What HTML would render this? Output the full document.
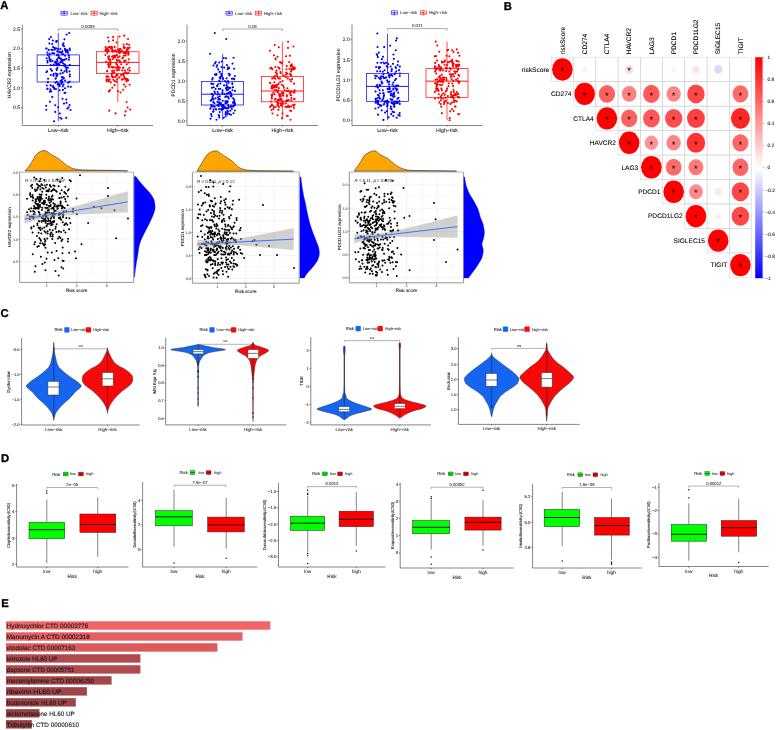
<!DOCTYPE html>
<html><head><meta charset="utf-8"><style>
html,body{margin:0;padding:0;background:#fff;}
body{width:777px;height:730px;overflow:hidden;}
svg{display:block;font-family:"Liberation Sans", Arial, sans-serif;text-rendering:geometricPrecision;}
</style></head><body>
<svg width="777" height="730" viewBox="0 0 777 730">
<rect width="777" height="730" fill="#fff"/>
<text x="0.3" y="8.5" font-size="11.3" text-anchor="start" fill="#000" font-weight="bold" stroke="#000" stroke-width="0.3">A</text>
<line x1="22.3" y1="24.6" x2="22.3" y2="125.5" stroke="#333333" stroke-width="0.6"/>
<line x1="21" y1="107.5" x2="22.3" y2="107.5" stroke="#333333" stroke-width="0.6"/>
<text x="20.2" y="109.34" font-size="5.1" text-anchor="end" fill="#1a1a1a" stroke="#1a1a1a" stroke-width="0.08">0.5</text>
<line x1="21" y1="87.88" x2="22.3" y2="87.88" stroke="#333333" stroke-width="0.6"/>
<text x="20.2" y="89.71" font-size="5.1" text-anchor="end" fill="#1a1a1a" stroke="#1a1a1a" stroke-width="0.08">1.0</text>
<line x1="21" y1="68.25" x2="22.3" y2="68.25" stroke="#333333" stroke-width="0.6"/>
<text x="20.2" y="70.09" font-size="5.1" text-anchor="end" fill="#1a1a1a" stroke="#1a1a1a" stroke-width="0.08">1.5</text>
<line x1="21" y1="48.62" x2="22.3" y2="48.62" stroke="#333333" stroke-width="0.6"/>
<text x="20.2" y="50.46" font-size="5.1" text-anchor="end" fill="#1a1a1a" stroke="#1a1a1a" stroke-width="0.08">2.0</text>
<line x1="21" y1="29" x2="22.3" y2="29" stroke="#333333" stroke-width="0.6"/>
<text x="20.2" y="30.84" font-size="5.1" text-anchor="end" fill="#1a1a1a" stroke="#1a1a1a" stroke-width="0.08">2.5</text>
<line x1="22.3" y1="125.5" x2="153" y2="125.5" stroke="#333333" stroke-width="0.6"/>
<line x1="58.3" y1="125.5" x2="58.3" y2="126.8" stroke="#333333" stroke-width="0.6"/>
<text x="58.3" y="131.8" font-size="5.2" text-anchor="middle" fill="#1a1a1a" stroke="#1a1a1a" stroke-width="0.08">Low−risk</text>
<line x1="117.8" y1="125.5" x2="117.8" y2="126.8" stroke="#333333" stroke-width="0.6"/>
<text x="117.8" y="131.8" font-size="5.2" text-anchor="middle" fill="#1a1a1a" stroke="#1a1a1a" stroke-width="0.08">High−risk</text>
<text x="10.9" y="75" font-size="5.1" text-anchor="middle" fill="#222" transform="rotate(-90 10.9 75)" stroke="#222" stroke-width="0.08">HAVCR2 expression</text>
<line x1="58.3" y1="32.93" x2="58.3" y2="54.91" stroke="#0000ff" stroke-width="0.7"/>
<line x1="58.3" y1="81.99" x2="58.3" y2="121.24" stroke="#0000ff" stroke-width="0.7"/>
<rect x="37.1" y="54.91" width="42.4" height="27.08" fill="#fff" stroke="#0000ff" stroke-width="0.7"/>
<line x1="37.1" y1="65.5" x2="79.5" y2="65.5" stroke="#0000ff" stroke-width="0.9"/>
<path d="M54.04 121.24h0M69.22 32.93h0M49.68 53.9h0M58.66 83.72h0M48.09 78.68h0M69.94 50.07h0M60.18 117.79h0M65.89 52.12h0M52.85 53.06h0M65.84 67.62h0M63.37 78.49h0M61.89 80.11h0M69.56 81.67h0M56.64 69.12h0M56.18 65.31h0M63.1 63.23h0M66.68 34.57h0M54.18 53.24h0M62.54 60.32h0M51.03 36.97h0M59.59 84.41h0M65.03 88.26h0M47.43 60.73h0M64 103.6h0M46.19 105.84h0M69.76 64.87h0M57.52 67.73h0M56.03 48.37h0M63.81 60.02h0M58.88 64.9h0M64.07 65.71h0M47.92 82.16h0M59.87 113.52h0M59.75 86.01h0M69.1 57.36h0M46.79 85.44h0M57.12 74.11h0M61.58 118.79h0M59.57 51.77h0M47.65 88.66h0M60.63 80.83h0M51.35 49.81h0M50.69 65.09h0M67.77 51.11h0M50.75 59.58h0M57.16 55.25h0M64.56 93.06h0M63.48 63.76h0M59.64 65.17h0M65.98 50.16h0M57.45 74.65h0M61.31 61.34h0M66.27 99.47h0M62.75 72.91h0M61.85 77.17h0M55.95 88.96h0M59.76 52.31h0M55.7 73.45h0M64.41 39.37h0M55.31 61.69h0M57.47 61.05h0M64.69 59.65h0M58.39 58.02h0M54.25 88.92h0M66.47 69.44h0M55.32 82.72h0M66.92 71.93h0M65.43 92.69h0M56.98 41.02h0M63.62 84.43h0M46.66 58.22h0M55.54 78.66h0M67.31 50.05h0M60.29 58.63h0M59.75 90.26h0M62.42 51.19h0M62.74 44.48h0M60.39 48.89h0M56.32 62.55h0M50.39 89.29h0M53.12 86.01h0M53.12 47.06h0M56.57 63.28h0M70.78 86.84h0M54.61 49.66h0M56.98 59.5h0M55.09 62.55h0M60.34 73.66h0M69.5 71.37h0M68.03 82.72h0M55.23 105.19h0M52.47 49.97h0M67.91 67.63h0M58.15 63.48h0M62.94 77.23h0M47.63 54.85h0M67.46 108.67h0M53.62 73.93h0M58.16 107.28h0M50.75 90.86h0M56.31 41.12h0M66.5 58.82h0M66.49 70.24h0M57.64 64.5h0M65 50.1h0M57.25 75.78h0M55.13 61.68h0M59.45 57.72h0M50.83 75.04h0M53.71 64.69h0M63.46 54.31h0M65.06 48.68h0M47.22 88.9h0M64.12 46.23h0M66.24 117.85h0M56.93 54.79h0M47.36 52.54h0M62.87 89.9h0M51.95 70.85h0M61.88 52.35h0M55.22 111.9h0M61.73 60.06h0M52.25 53.22h0M57.71 64.95h0M58.92 55.93h0M61.58 83.63h0M50.88 85.58h0M69.85 74.53h0M53.03 86.92h0M53.45 75.65h0M52.21 44h0M47.49 62.39h0M56.37 76.05h0M65.1 80.57h0M63.54 43.41h0M50.69 69.16h0M49.22 39.12h0M53.84 64.84h0M65.01 64.61h0M58 49.17h0M68.88 55.21h0M62.21 62.08h0M61.32 70.34h0M64.99 49.89h0M64.56 71.33h0M54.4 47.84h0M52.23 96.91h0M56.74 70.12h0M58.03 64.68h0M49.34 43.57h0M56.83 81.92h0M61.8 52.71h0M49.19 58.02h0M49.25 56.3h0M50.14 60.01h0M52.88 40.45h0M69.84 76.54h0M46.44 72.21h0M50.39 85.28h0M49.93 101.78h0M57.66 84.58h0M46.18 48.43h0M57.25 51.38h0M49.87 91.6h0M52.54 61.1h0M65.61 66.87h0M50.4 61.49h0M61.23 58.75h0M55.96 78.25h0M56.24 42h0M66.22 67.76h0M49.82 60.07h0M68.9 59.77h0M68.14 86.6h0M62.51 98.76h0M47.04 71.34h0M62.38 54.36h0M60.81 52.35h0M65.11 55.75h0M51.15 91.54h0M69.63 48.52h0M67.95 52.87h0M48.66 49.91h0M53.68 64.51h0M46.61 48.43h0M66.57 102.87h0M68.68 107.29h0M70.55 110.02h0M61.1 81.8h0M62.45 82.09h0M62.76 86.35h0M60.05 62.66h0M69.61 104.94h0M61 61.67h0M54.19 87.85h0M58.62 57.96h0M46.27 109.78h0M63.9 77.99h0M63.15 45.48h0M56.33 63.87h0" stroke="#0000ff" stroke-width="2.1" stroke-linecap="round" fill="none"/>
<line x1="117.8" y1="35.67" x2="117.8" y2="51.77" stroke="#ff0000" stroke-width="0.7"/>
<line x1="117.8" y1="73.35" x2="117.8" y2="102" stroke="#ff0000" stroke-width="0.7"/>
<rect x="96.6" y="51.77" width="42.4" height="21.59" fill="#fff" stroke="#ff0000" stroke-width="0.7"/>
<line x1="96.6" y1="62.36" x2="139" y2="62.36" stroke="#ff0000" stroke-width="0.9"/>
<path d="M126.59 102h0M124.19 35.67h0M113.72 57.67h0M107.24 76.35h0M108.61 59.21h0M109.91 89.97h0M112.9 50.29h0M116.49 42.46h0M128.5 48.79h0M112.26 87.8h0M127.76 69.46h0M122.31 70.36h0M126.64 80.35h0M115.38 57h0M105.38 50.41h0M124.97 70.55h0M111.44 48.53h0M108.86 50.42h0M125.29 79.51h0M122.46 51.28h0M110.61 47.97h0M111.99 76.04h0M128.78 59.24h0M112.01 56.48h0M122.86 57.73h0M108.54 81.19h0M125.68 55.53h0M108.24 56.77h0M118.2 49.65h0M106.18 50.23h0M119.05 69.96h0M126.47 52.95h0M107.41 48.41h0M112.16 47.67h0M124.42 77.86h0M120.5 92.53h0M113.12 55.97h0M121.02 75.15h0M116.67 59.66h0M126.86 44.15h0M112.62 67.67h0M124.24 73.23h0M121.19 64.27h0M123.81 55.7h0M114.76 80.94h0M123.42 67.61h0M122.76 79.28h0M114.99 55.48h0M105.96 49.46h0M129.37 67.78h0M123.14 68h0M110.42 60.69h0M123.57 75.13h0M112.27 73.48h0M117.03 69.84h0M126.8 64.23h0M116.5 81.94h0M112.5 51.69h0M112.94 59.01h0M107.23 71.17h0M110.79 82.5h0M112.08 51.39h0M109.62 79.42h0M106.88 79.31h0M116.94 79.44h0M110.66 81.96h0M123.77 47.29h0M128.36 72.51h0M112.12 70.87h0M119.61 49.39h0M117.97 57.28h0M107.18 76.56h0M108.42 65.23h0M127.42 47.93h0M117.15 67.84h0M125.42 53.42h0M106.96 81.16h0M120.17 52.73h0M126.93 51.01h0M126.98 49.6h0M105.44 54.98h0M118.34 68.05h0M114.53 85.13h0M124.3 61.57h0M107.13 51.55h0M111.92 76.37h0M125.62 72.64h0M117.04 60.83h0M116.63 51.84h0M129.51 47.57h0M113.3 79.69h0M106.34 76.7h0M115.11 50.35h0M109.13 56.24h0M107.35 53h0M119.5 36.54h0M129.14 44.77h0M119.79 49.1h0M121.48 50.99h0M113.39 66.98h0M119.58 56.38h0M124.11 76.69h0M120.03 51.49h0M125.37 51.54h0M119.06 52.98h0M110.25 64.79h0M119.87 67.72h0M117.57 65.89h0M109.45 91.22h0M120.78 49.06h0M125.72 60.57h0M108.68 67.31h0M118.92 60.33h0M123.64 52.97h0M115.38 67.57h0M112.05 49.46h0M114.61 46.91h0M118.84 67.31h0M122.47 79.07h0M119.28 51.47h0M107.98 37.56h0M125.75 78.55h0M128.4 53.35h0M107.83 49.61h0M111.54 46.83h0M109.64 79.81h0M126.53 81.42h0M128.06 38.93h0M106.41 80.15h0M113.61 77.08h0M110.11 59.19h0M117.04 64.72h0M128.34 51.75h0M107.05 76.38h0M109.58 47.06h0M117.48 75.03h0M118.4 51.22h0M123.94 84.47h0M116.24 63.53h0M108.83 91.38h0M114.14 70.55h0M129.85 70.62h0M124.07 53.05h0M108.21 64.34h0M125.51 86.6h0M113.07 36.92h0M124.83 47.79h0M105.62 47h0M127.08 73.53h0M109.36 67.02h0M116.69 74.52h0M121.84 79.73h0M118 91.29h0M109.43 62.22h0M108.78 79.82h0M112.41 77.11h0M106.61 48.6h0M110.71 63.06h0M108.55 76.73h0M116.92 55.16h0M114.21 72.66h0M119.97 61.22h0M112.32 71.9h0M106.15 61.68h0M113.58 56.91h0M124.18 60.83h0M111.7 66.95h0M115.41 50.6h0M124.17 48.23h0M115.47 76.95h0M127.48 79.15h0M128.25 80.33h0M113.06 40.29h0M123.7 44.5h0M111.63 74.34h0M108.79 41.37h0M116.25 75.5h0M120.36 62.09h0M128.69 62.48h0M108.95 47.04h0M123.11 89.81h0M117.19 70.48h0M108.59 58.12h0M129.62 84.7h0M122.69 74.04h0M108.52 63.9h0M127.94 48.02h0M107.88 51.45h0M107.62 49.5h0M113.59 51.45h0M128.75 53.56h0M106.13 48.91h0M128.26 54.67h0M120.59 52.37h0M106.98 71.08h0M119.51 77.55h0M116.77 51.58h0M119.4 77.64h0M123.73 46.91h0M122.27 58.27h0M130.23 109.46h0M109.22 110.64h0M125.62 111.42h0M115.58 113.39h0M124.88 115.35h0M127.59 107.5h0" stroke="#ff0000" stroke-width="2.1" stroke-linecap="round" fill="none"/>
<path d="M58.3 31V29H117.8V31" fill="none" stroke="#555" stroke-width="0.5"/>
<text x="88.05" y="27.7" font-size="4.4" text-anchor="middle" fill="#333" stroke="#333" stroke-width="0.08">0.0033</text>
<rect x="61" y="11.3" width="6.2" height="3.8" fill="none" stroke="#0000ff" stroke-width="0.55"/>
<line x1="64.1" y1="10.2" x2="64.1" y2="11.3" stroke="#0000ff" stroke-width="0.55"/>
<line x1="64.1" y1="15.1" x2="64.1" y2="16.2" stroke="#0000ff" stroke-width="0.55"/>
<line x1="61" y1="13.2" x2="67.2" y2="13.2" stroke="#0000ff" stroke-width="0.6"/>
<circle cx="64.1" cy="13.2" r="0.9" fill="#0000ff"/>
<rect x="91" y="11.3" width="6.2" height="3.8" fill="none" stroke="#ff0000" stroke-width="0.55"/>
<line x1="94.1" y1="10.2" x2="94.1" y2="11.3" stroke="#ff0000" stroke-width="0.55"/>
<line x1="94.1" y1="15.1" x2="94.1" y2="16.2" stroke="#ff0000" stroke-width="0.55"/>
<line x1="91" y1="13.2" x2="97.2" y2="13.2" stroke="#ff0000" stroke-width="0.6"/>
<circle cx="94.1" cy="13.2" r="0.9" fill="#ff0000"/>
<text x="70.5" y="14.7" font-size="4.3" text-anchor="start" fill="#333" stroke="#333" stroke-width="0.08">Low−risk</text>
<text x="99.5" y="14.7" font-size="4.3" text-anchor="start" fill="#333" stroke="#333" stroke-width="0.08">High−risk</text>
<line x1="187" y1="24.6" x2="187" y2="125.5" stroke="#333333" stroke-width="0.6"/>
<line x1="185.7" y1="121" x2="187" y2="121" stroke="#333333" stroke-width="0.6"/>
<text x="184.9" y="122.84" font-size="5.1" text-anchor="end" fill="#1a1a1a" stroke="#1a1a1a" stroke-width="0.08">0.0</text>
<line x1="185.7" y1="101" x2="187" y2="101" stroke="#333333" stroke-width="0.6"/>
<text x="184.9" y="102.84" font-size="5.1" text-anchor="end" fill="#1a1a1a" stroke="#1a1a1a" stroke-width="0.08">0.5</text>
<line x1="185.7" y1="81" x2="187" y2="81" stroke="#333333" stroke-width="0.6"/>
<text x="184.9" y="82.84" font-size="5.1" text-anchor="end" fill="#1a1a1a" stroke="#1a1a1a" stroke-width="0.08">1.0</text>
<line x1="185.7" y1="61" x2="187" y2="61" stroke="#333333" stroke-width="0.6"/>
<text x="184.9" y="62.84" font-size="5.1" text-anchor="end" fill="#1a1a1a" stroke="#1a1a1a" stroke-width="0.08">1.5</text>
<line x1="185.7" y1="41" x2="187" y2="41" stroke="#333333" stroke-width="0.6"/>
<text x="184.9" y="42.84" font-size="5.1" text-anchor="end" fill="#1a1a1a" stroke="#1a1a1a" stroke-width="0.08">2.0</text>
<line x1="187" y1="125.5" x2="318" y2="125.5" stroke="#333333" stroke-width="0.6"/>
<line x1="222.6" y1="125.5" x2="222.6" y2="126.8" stroke="#333333" stroke-width="0.6"/>
<text x="222.6" y="131.8" font-size="5.2" text-anchor="middle" fill="#1a1a1a" stroke="#1a1a1a" stroke-width="0.08">Low−risk</text>
<line x1="282.4" y1="125.5" x2="282.4" y2="126.8" stroke="#333333" stroke-width="0.6"/>
<text x="282.4" y="131.8" font-size="5.2" text-anchor="middle" fill="#1a1a1a" stroke="#1a1a1a" stroke-width="0.08">High−risk</text>
<text x="175" y="75" font-size="5.1" text-anchor="middle" fill="#222" transform="rotate(-90 175 75)" stroke="#222" stroke-width="0.08">PDCD1 expression</text>
<line x1="222.6" y1="53.8" x2="222.6" y2="81.4" stroke="#0000ff" stroke-width="0.7"/>
<line x1="222.6" y1="105" x2="222.6" y2="119.8" stroke="#0000ff" stroke-width="0.7"/>
<rect x="201.6" y="81.4" width="42" height="23.6" fill="#fff" stroke="#0000ff" stroke-width="0.7"/>
<line x1="201.6" y1="94.2" x2="243.6" y2="94.2" stroke="#0000ff" stroke-width="0.9"/>
<path d="M216.5 119.8h0M210.12 53.8h0M219.79 96.23h0M234.16 68.72h0M229.19 68.16h0M211.59 99.69h0M227.66 69.21h0M233.03 98.27h0M234.29 99.61h0M228 81.07h0M231.67 95.44h0M231.14 96.44h0M219.06 99.12h0M212.58 97.1h0M228.29 107.9h0M213.52 111.41h0M219.7 81.2h0M234.99 90.9h0M224.09 85.4h0M223.14 78.83h0M233.8 105.52h0M217.2 105.43h0M235.09 103.79h0M232.9 102.67h0M219.2 80.87h0M218.28 99.64h0M213.26 101.84h0M232.99 87.22h0M214.75 106.67h0M210.32 108.78h0M232.35 84.11h0M225.05 81.08h0M226.9 103h0M228.43 87.23h0M211.17 114.16h0M212.4 98.33h0M222.6 90.21h0M211.36 104.85h0M222.71 100.76h0M228.51 88.59h0M226.54 89.6h0M225.52 107.52h0M211.26 83.62h0M216.02 109.48h0M232.54 63.6h0M213.18 106.25h0M223.43 104.85h0M211.35 106.31h0M233.58 57.71h0M214.39 103.42h0M220.35 88.81h0M223.77 58.11h0M228.07 67.34h0M233.54 113.31h0M228.51 93.12h0M218.78 89.01h0M211.98 83.84h0M227.79 101.29h0M234.41 101.63h0M210.53 118.74h0M229.47 114.04h0M214.5 91.64h0M221.6 109.9h0M223.17 106.25h0M225.46 101.4h0M234.84 110.45h0M227.29 114.48h0M219.91 71.74h0M227.98 97h0M221.77 106.19h0M220.43 83.53h0M219.24 117.47h0M222.44 105.13h0M217.13 65.31h0M216.15 74.15h0M213.81 87.24h0M221.11 109.13h0M217.43 102.06h0M231.02 114.78h0M231.3 105.81h0M218.7 115.04h0M225.58 108.26h0M232.66 87.38h0M219.08 108.94h0M223.97 107.48h0M221.19 73.9h0M226.36 101.31h0M234.09 101.41h0M213.57 109.3h0M234.23 79.14h0M226.74 85.17h0M230 91.79h0M225.98 88.16h0M231.86 108.94h0M218.26 104.55h0M227.8 89.92h0M216.7 66.93h0M222.82 78.1h0M227.14 86.99h0M215.13 93.24h0M211.63 116.09h0M229.87 74.49h0M230.32 110.82h0M226.74 108.18h0M218.14 84.31h0M226.55 78.35h0M212.2 79.6h0M226.66 96.26h0M224.5 106.92h0M225.53 114.03h0M221.27 76.42h0M215.73 62.09h0M228.25 105.15h0M221.7 75.7h0M228.73 98.41h0M219.2 102.35h0M212.29 93.94h0M223.66 117.79h0M225.67 96.67h0M233.14 106.33h0M232.29 83.32h0M211.53 94.07h0M229.4 75.56h0M216.63 74.2h0M227.53 102.12h0M219.59 103.69h0M218.15 69.42h0M222.31 94h0M223.36 109.04h0M227.46 112.95h0M226.05 58.2h0M227.06 90.15h0M219.7 112.08h0M227.03 93.62h0M218.73 93.99h0M225.29 96.99h0M221.59 67.11h0M224.17 67.58h0M210.54 108.29h0M222.57 107.59h0M215.6 98.2h0M219.75 77.27h0M211.94 87.86h0M226.52 82.43h0M232.44 90.31h0M218.96 106.05h0M212.73 78.07h0M225.61 116.34h0M213.28 84.04h0M232.39 106.47h0M213.16 95.45h0M219.15 62.57h0M222.47 92.2h0M213.05 111.83h0M218.07 97.28h0M216.98 85.99h0M227.93 111.85h0M234.76 104.89h0M219.17 115.76h0M229.87 92.15h0M213.61 99.32h0M224.6 94.01h0M220.92 103.02h0M217.3 86.17h0M230.64 107.03h0M228.76 73.71h0M213.45 65.43h0M217.41 94.5h0M230.59 95.7h0M234.91 76.02h0M225.39 103.28h0M231.89 78.79h0M234.71 103.39h0M228.61 82.94h0M226.22 101.37h0M215.63 88.95h0M219.36 71.94h0M225.69 112.09h0M233.26 78.59h0M217.65 92.06h0M219.98 99.42h0M210.66 100.67h0M227.52 110.56h0M221.19 104.64h0M230.04 87.9h0M215.94 109.01h0M226.59 85.53h0M226.93 65.02h0M221.71 61.5h0M214.82 74.56h0M220.17 78.62h0M228.73 106.9h0M214.83 63.52h0M212.35 106.25h0M221.67 75.55h0M215.96 75.12h0M230.11 87.96h0M230.53 93.11h0M233.73 106.31h0M231.09 93.2h0M226.29 39h0M214.78 33h0" stroke="#0000ff" stroke-width="2.1" stroke-linecap="round" fill="none"/>
<line x1="282.4" y1="41.8" x2="282.4" y2="76.6" stroke="#ff0000" stroke-width="0.7"/>
<line x1="282.4" y1="101.8" x2="282.4" y2="119.8" stroke="#ff0000" stroke-width="0.7"/>
<rect x="261.4" y="76.6" width="42" height="25.2" fill="#fff" stroke="#ff0000" stroke-width="0.7"/>
<line x1="261.4" y1="91" x2="303.4" y2="91" stroke="#ff0000" stroke-width="0.9"/>
<path d="M290.48 119.8h0M288.1 41.8h0M288.57 105.7h0M287.34 73.43h0M290.65 65.5h0M277.35 105.26h0M286.71 115.82h0M282.83 101.21h0M278.35 105.5h0M278.07 103.77h0M273.79 86.2h0M282.19 94.36h0M279.12 94.06h0M280.44 103.22h0M291.19 81.52h0M286.94 100.09h0M286.91 95.36h0M294.5 92.58h0M275.35 67.04h0M282.6 101.92h0M272.21 78.4h0M279.72 99.24h0M293.66 67.66h0M272.05 95.58h0M288.84 90.7h0M291.54 68.72h0M282.62 81.05h0M289.84 106.79h0M280.93 105.42h0M278.73 47.18h0M282.54 113.55h0M274.77 99.6h0M277.59 56.75h0M277.53 115.29h0M294.61 104.64h0M278.28 102.97h0M275.62 107.04h0M293.39 92.21h0M273.36 85.68h0M294.05 98.85h0M291.23 106.33h0M286.08 72.83h0M280.6 73.23h0M274.83 87.42h0M272.56 105.4h0M272.49 88.59h0M278.63 83.54h0M280.08 94.1h0M292.99 69.55h0M283.31 95.75h0M294.67 90.37h0M287.92 106.15h0M273.56 87.34h0M283.74 75.58h0M273.88 77.68h0M270.88 101.5h0M293.49 46.52h0M278.35 78.33h0M274.64 94.29h0M272.44 94.68h0M286.2 74.78h0M281.43 104.18h0M270.19 82.96h0M287.78 78.39h0M276.32 90.06h0M289.41 68.97h0M282.12 92.35h0M283.29 92.52h0M281.33 100.3h0M286.8 66.11h0M294.65 98.94h0M289.85 79.75h0M271.63 94.92h0M282.27 62.38h0M275.76 59.37h0M272.46 113.44h0M274.78 44.97h0M276.1 84.96h0M293.89 108.01h0M288.52 91.13h0M291.22 111.03h0M287.37 88.18h0M277.79 103.87h0M279.68 96.7h0M280.92 99.44h0M277.24 85.11h0M280.44 72.12h0M289.18 62.11h0M271.79 98.39h0M276.81 86.99h0M281.88 118.03h0M286.81 96.52h0M286.05 56.32h0M288.02 106h0M272.53 69.18h0M274.42 82.22h0M277.62 99.9h0M276.94 74.86h0M288.79 100.1h0M294.73 67.63h0M286.98 107.16h0M270.73 106h0M277.34 76.6h0M289.98 93.2h0M293.01 105.08h0M284.77 90.23h0M278.62 99.77h0M278.78 88.16h0M285.74 76.96h0M291.5 69.98h0M278.42 109.85h0M274.67 85.68h0M269.97 50.82h0M273.34 92.74h0M291.18 75.39h0M285.51 106.69h0M294.67 68.95h0M271.64 86.27h0M279.05 68.04h0M289.79 74.3h0M286.43 69.22h0M271.57 110.06h0M279.94 78.59h0M285.84 103.5h0M287.09 101.12h0M281.19 98.57h0M274.6 85.74h0M294.05 83.64h0M281.56 63.33h0M287.83 115.98h0M283.27 103.61h0M271.92 96.96h0M275.82 72.39h0M271.48 88.13h0M274.67 90.31h0M274.9 75.97h0M280.27 82.07h0M277.94 100.08h0M278.96 107.02h0M290.32 92.63h0M270.43 68.54h0M272.48 85.35h0M290.1 110.56h0M283.25 93.59h0M280.87 95.98h0M276.58 86.25h0M283.46 85.98h0M275.44 58.57h0M291.36 97.99h0M290.5 94.97h0M277.95 84.46h0M270.51 68.15h0M292.09 79.13h0M277.37 92.26h0M286.32 72.6h0M291.35 91.63h0M289.86 55.65h0M291.46 100.4h0M282.13 105.73h0M290.96 71.62h0M281.43 99.76h0M276.5 70.57h0M281.92 84.7h0M278.28 90.48h0M289.08 107.02h0M290.69 74.35h0M273.43 108.99h0M274.01 55.26h0M279.49 68.74h0M281.48 99.51h0M293.81 105.71h0M293.44 68.2h0M294.08 91.87h0M288.14 105.81h0M286.83 91.06h0M276.66 101.9h0M279.22 94.98h0M269.97 82.92h0M290.72 66.36h0M276.8 73.45h0M271.88 104.65h0M277.79 91.98h0M277.98 91.35h0M288 47.9h0M270.04 107.02h0M275.65 90.38h0M292.31 66.42h0M291.27 95.37h0M285.63 101.29h0M283.87 87.78h0M275.47 98.77h0M291.78 64.38h0M288.92 107.09h0M282.72 103.19h0M273.93 107.12h0M275.3 78.8h0M279.38 99.94h0M278.18 67.3h0M271.43 67.71h0M280.06 62.15h0" stroke="#ff0000" stroke-width="2.1" stroke-linecap="round" fill="none"/>
<path d="M222.6 31V29H282.4V31" fill="none" stroke="#555" stroke-width="0.5"/>
<text x="252.5" y="27.7" font-size="4.4" text-anchor="middle" fill="#333" stroke="#333" stroke-width="0.08">0.03</text>
<rect x="226" y="11.3" width="6.2" height="3.8" fill="none" stroke="#0000ff" stroke-width="0.55"/>
<line x1="229.1" y1="10.2" x2="229.1" y2="11.3" stroke="#0000ff" stroke-width="0.55"/>
<line x1="229.1" y1="15.1" x2="229.1" y2="16.2" stroke="#0000ff" stroke-width="0.55"/>
<line x1="226" y1="13.2" x2="232.2" y2="13.2" stroke="#0000ff" stroke-width="0.6"/>
<circle cx="229.1" cy="13.2" r="0.9" fill="#0000ff"/>
<rect x="255.4" y="11.3" width="6.2" height="3.8" fill="none" stroke="#ff0000" stroke-width="0.55"/>
<line x1="258.5" y1="10.2" x2="258.5" y2="11.3" stroke="#ff0000" stroke-width="0.55"/>
<line x1="258.5" y1="15.1" x2="258.5" y2="16.2" stroke="#ff0000" stroke-width="0.55"/>
<line x1="255.4" y1="13.2" x2="261.6" y2="13.2" stroke="#ff0000" stroke-width="0.6"/>
<circle cx="258.5" cy="13.2" r="0.9" fill="#ff0000"/>
<text x="235" y="14.7" font-size="4.3" text-anchor="start" fill="#333" stroke="#333" stroke-width="0.08">Low−risk</text>
<text x="264" y="14.7" font-size="4.3" text-anchor="start" fill="#333" stroke="#333" stroke-width="0.08">High−risk</text>
<line x1="352" y1="24.6" x2="352" y2="125.5" stroke="#333333" stroke-width="0.6"/>
<line x1="350.7" y1="120.3" x2="352" y2="120.3" stroke="#333333" stroke-width="0.6"/>
<text x="349.9" y="122.14" font-size="5.1" text-anchor="end" fill="#1a1a1a" stroke="#1a1a1a" stroke-width="0.08">0.0</text>
<line x1="350.7" y1="100.12" x2="352" y2="100.12" stroke="#333333" stroke-width="0.6"/>
<text x="349.9" y="101.96" font-size="5.1" text-anchor="end" fill="#1a1a1a" stroke="#1a1a1a" stroke-width="0.08">0.5</text>
<line x1="350.7" y1="79.95" x2="352" y2="79.95" stroke="#333333" stroke-width="0.6"/>
<text x="349.9" y="81.79" font-size="5.1" text-anchor="end" fill="#1a1a1a" stroke="#1a1a1a" stroke-width="0.08">1.0</text>
<line x1="350.7" y1="59.77" x2="352" y2="59.77" stroke="#333333" stroke-width="0.6"/>
<text x="349.9" y="61.61" font-size="5.1" text-anchor="end" fill="#1a1a1a" stroke="#1a1a1a" stroke-width="0.08">1.5</text>
<line x1="350.7" y1="39.6" x2="352" y2="39.6" stroke="#333333" stroke-width="0.6"/>
<text x="349.9" y="41.44" font-size="5.1" text-anchor="end" fill="#1a1a1a" stroke="#1a1a1a" stroke-width="0.08">2.0</text>
<line x1="352" y1="125.5" x2="482.4" y2="125.5" stroke="#333333" stroke-width="0.6"/>
<line x1="387.5" y1="125.5" x2="387.5" y2="126.8" stroke="#333333" stroke-width="0.6"/>
<text x="387.5" y="131.8" font-size="5.2" text-anchor="middle" fill="#1a1a1a" stroke="#1a1a1a" stroke-width="0.08">Low−risk</text>
<line x1="447" y1="125.5" x2="447" y2="126.8" stroke="#333333" stroke-width="0.6"/>
<text x="447" y="131.8" font-size="5.2" text-anchor="middle" fill="#1a1a1a" stroke="#1a1a1a" stroke-width="0.08">High−risk</text>
<text x="340.4" y="75" font-size="5.1" text-anchor="middle" fill="#222" transform="rotate(-90 340.4 75)" stroke="#222" stroke-width="0.08">PDCD1LG2 expression</text>
<line x1="387.5" y1="33.55" x2="387.5" y2="73.49" stroke="#0000ff" stroke-width="0.7"/>
<line x1="387.5" y1="101.34" x2="387.5" y2="119.9" stroke="#0000ff" stroke-width="0.7"/>
<rect x="366.5" y="73.49" width="42" height="27.84" fill="#fff" stroke="#0000ff" stroke-width="0.7"/>
<line x1="366.5" y1="86.41" x2="408.5" y2="86.41" stroke="#0000ff" stroke-width="0.9"/>
<path d="M383.41 119.9h0M377.32 33.55h0M380.02 93.32h0M394.57 96.42h0M390.86 93.76h0M394.93 80.26h0M376.11 86.57h0M397.52 103.07h0M384.56 70.28h0M398.15 85.72h0M389.86 88.89h0M388.68 75.39h0M395.45 73.34h0M390.64 66.45h0M391.86 69.14h0M378.94 77.68h0M390.11 74.99h0M383.91 104.4h0M376.89 76.11h0M378.33 101.07h0M386.99 100.87h0M381.56 105.62h0M394.13 92.56h0M378.06 114.63h0M375.35 78.3h0M399.92 73.59h0M382.82 71.68h0M387.74 105.34h0M380.25 79.12h0M380.22 67.22h0M385.06 112.58h0M394.74 103.21h0M375.98 100.27h0M395.93 88.68h0M399.76 103.91h0M388.98 84.4h0M384 95.72h0M380.85 78.39h0M379.57 84.79h0M383.08 76.78h0M396.29 101.46h0M375.08 75.71h0M394.65 74.29h0M391.69 74.94h0M375.48 108.43h0M376.74 54.22h0M393.38 82.44h0M391.83 100h0M382.84 90.34h0M396.53 85.5h0M380.25 85.49h0M385.67 101.4h0M377.88 100.44h0M391.14 94.55h0M377.18 71.3h0M379.49 90.14h0M394.16 112.24h0M387.51 89.26h0M391.55 102.94h0M393.35 116.06h0M390.16 45.73h0M379.94 98.72h0M392.46 84.47h0M377.9 94.87h0M381.75 110.35h0M386.2 62.77h0M377.86 57.1h0M377.65 103.43h0M391.31 91.3h0M393.55 93.95h0M384.27 104.07h0M384.75 78.06h0M380.19 71.22h0M388.04 72.8h0M389.51 77.35h0M398.34 114.94h0M376.01 102.01h0M397.72 85.65h0M399.77 75.93h0M383.66 93.19h0M393.15 89.44h0M395.62 67.05h0M391.28 114.16h0M382.22 100.23h0M390.57 98.95h0M396.92 38.35h0M377.68 102.08h0M387 111.15h0M375.57 91.39h0M396.12 78.68h0M394.46 104.53h0M376.15 67.12h0M393.65 103.1h0M392.29 75.86h0M378.16 104.25h0M388.13 64.13h0M392.23 102.94h0M383.39 74.46h0M387.6 67.19h0M399.4 101.04h0M390.89 106.53h0M387.55 81.96h0M376.65 86.46h0M378.03 87.64h0M396.27 71.27h0M393.56 88.61h0M395.88 86.58h0M389.45 87.17h0M389.4 89.12h0M388.26 92.04h0M393.38 104.28h0M383.26 98.63h0M387.42 100.45h0M386.74 101.4h0M391.54 71.16h0M380.41 105.83h0M375.63 102.81h0M377.21 85.04h0M379.48 97.6h0M396.43 101.66h0M392.92 93.97h0M393.75 86.3h0M386.11 77.4h0M377.57 47.05h0M386.63 66.2h0M396.57 90.59h0M387.73 89.29h0M390.8 91.44h0M384.35 101.7h0M378.75 52.67h0M390.67 108.4h0M387.12 102.82h0M383.64 78.04h0M381.46 81.78h0M392.4 99.62h0M382.95 56.75h0M389.4 91.81h0M381.49 81.43h0M393.84 106.59h0M384.37 63.48h0M386.96 106.19h0M398.19 92.73h0M392.96 63.86h0M393.41 54.54h0M383.48 62.55h0M396.01 67.98h0M384.64 101.89h0M399.71 113.1h0M397.4 89.28h0M391.48 109.1h0M395.79 50.26h0M388.6 117.36h0M393.33 96.83h0M378.12 102.88h0M399.71 115.66h0M395.01 86.46h0M378.56 107.45h0M381.07 62.84h0M389.37 76.72h0M394.07 94.17h0M378.72 66.99h0M399.02 70.16h0M383.65 96.77h0M399.87 66.58h0M393.81 58.83h0M387.14 80.21h0M384.07 95.26h0M377.41 62.79h0M377.2 55.12h0M390.74 95.53h0M394.34 106.74h0M397.69 65.12h0M384.12 77.89h0M398.44 101.93h0M382.42 82.95h0M398.5 97.86h0M397.97 61.47h0M378.87 95.83h0M396.52 103.11h0M392.59 111.65h0M392.56 95.81h0M396.01 40.57h0M388.42 102.38h0M387.67 88.91h0M384.18 47.08h0M396.63 117.82h0M397.53 98.64h0M379.01 68.43h0M394.3 106.43h0M381.89 59.13h0M379.6 67.48h0M379.93 104.87h0M389.33 81.64h0M381.99 83.54h0M381.06 76.4h0M377.46 97.94h0M383.12 93.32h0M394.35 101.64h0M375.54 98.83h0M387.07 103.79h0" stroke="#0000ff" stroke-width="2.1" stroke-linecap="round" fill="none"/>
<line x1="447" y1="41.62" x2="447" y2="68.65" stroke="#ff0000" stroke-width="0.7"/>
<line x1="447" y1="97.3" x2="447" y2="120.3" stroke="#ff0000" stroke-width="0.7"/>
<rect x="426" y="68.65" width="42" height="28.65" fill="#fff" stroke="#ff0000" stroke-width="0.7"/>
<line x1="426" y1="81.16" x2="468" y2="81.16" stroke="#ff0000" stroke-width="0.9"/>
<path d="M449.57 120.3h0M435.74 41.62h0M441.85 90.2h0M457.16 71.49h0M459.36 81.79h0M455.76 95.31h0M438.74 90.87h0M453.6 52.07h0M445.77 91.4h0M438.77 77.22h0M446.52 55.8h0M457.57 94.23h0M456.43 65.82h0M444.29 102.86h0M436.08 69.49h0M457.01 65.93h0M459.16 64.45h0M447.28 50.23h0M440.13 70.61h0M448.09 49.83h0M451.91 95.47h0M446.56 80.08h0M443.31 98.77h0M440.69 104.11h0M441.92 85.1h0M435.75 70.17h0M440.88 67.28h0M458.33 114.24h0M434.7 56.34h0M452.69 97.41h0M454.22 94.58h0M444.62 64.69h0M449.38 61.71h0M440.02 69.33h0M451.2 91.95h0M452.2 83.56h0M452.86 64.58h0M446.79 90.37h0M458.76 65.99h0M456.16 67.11h0M448.81 83.18h0M451.56 61.6h0M441.37 88.62h0M458.09 68.66h0M450.63 74.17h0M456.87 92.05h0M441.72 79.57h0M459.06 75.85h0M437.14 79.32h0M447.76 103h0M437.26 45.47h0M439.24 51.8h0M453.6 110.99h0M436.15 55.96h0M444.07 79.58h0M439.29 102.39h0M455.76 65.26h0M436.56 85.49h0M442.91 70.49h0M455.91 64.94h0M451.67 79.26h0M452.08 109.06h0M459.28 65.17h0M435.09 71.45h0M451.12 60.95h0M453.12 96h0M453.2 66.96h0M452.35 62.73h0M436.31 90.52h0M436.6 86.96h0M453.82 91.88h0M449.79 118.1h0M441.07 98.06h0M434.73 92.04h0M447.84 103.1h0M436.76 67.9h0M453.21 85.88h0M443.02 77.75h0M454.69 95.07h0M436.89 90.18h0M446.85 68.49h0M436.99 83.11h0M454.01 76.33h0M448.5 86.15h0M440.37 78.31h0M458.57 61.56h0M451.55 96.18h0M442.91 80.21h0M455.88 71.79h0M444 103.98h0M458.06 52.66h0M441.93 81.24h0M459.11 97.49h0M436.06 68.15h0M452.86 65.5h0M441.79 74.63h0M445.1 60.66h0M450.4 103.89h0M435.65 79.78h0M440.09 69.01h0M437.1 60.63h0M452.99 74.08h0M440.03 76.04h0M446.96 88.38h0M442.71 77.58h0M440.4 78.42h0M457.88 61.19h0M447.19 64.94h0M450.76 69.29h0M452.11 59.77h0M455.03 106.45h0M441.08 67.71h0M436.46 83.51h0M446.18 68.57h0M438.75 94.32h0M435.01 83.27h0M457.49 65.06h0M450.16 111.35h0M444.86 94.65h0M437.91 81.91h0M453.53 63.77h0M447.83 96.01h0M438.86 65.14h0M459.06 97.52h0M458.27 93.87h0M457.68 78.47h0M455.17 73.46h0M447.79 62.39h0M442.01 62.42h0M450.79 97.29h0M438.28 68.87h0M449.92 74.41h0M436.15 88.51h0M434.84 67.4h0M452.39 61.56h0M443.07 82.5h0M451.93 60.66h0M454 102.31h0M455.38 100.73h0M449.9 67.97h0M455.67 93.71h0M450.97 76.89h0M457.68 81.35h0M456.92 101.57h0M435.58 68.45h0M441.19 69.08h0M444.22 101.59h0M440.8 96.67h0M438.92 66.22h0M456.34 60.85h0M435.13 62.88h0M439.05 81.07h0M453.51 89.72h0M440.08 84.7h0M440.96 100.31h0M458.69 81.42h0M453.57 98.08h0M445.72 100.9h0M437.91 88.87h0M441.23 106.8h0M459.03 83.07h0M454.28 71.35h0M436.25 73.59h0M452.17 50.19h0M443.9 62.12h0M452.5 74.47h0M441.89 61.55h0M437.75 84.75h0M434.99 66.3h0M441.89 95.07h0M456.01 79.82h0M456.78 49.33h0M451.58 76.22h0M453.2 80.82h0M439.37 66.86h0M443.36 93.27h0M456.98 64.75h0M459.16 113.99h0M445.58 97.78h0M453.9 100.28h0M457.84 96.83h0M459.43 55.72h0M441.89 113.14h0M450.85 94.15h0M444.25 77.44h0M446.13 71h0M446.05 67.51h0M441.46 88.7h0M434.98 98.52h0M453.66 63.73h0M451.9 102.54h0M455.51 106.63h0M438.33 98.05h0M440.43 81.64h0M449.4 56.35h0M457.92 69.71h0M446.29 77.96h0M439.52 80.1h0M449.37 71.48h0M458.44 74.83h0" stroke="#ff0000" stroke-width="2.1" stroke-linecap="round" fill="none"/>
<path d="M387.5 30.6V28.6H447V30.6" fill="none" stroke="#555" stroke-width="0.5"/>
<text x="417.25" y="27.3" font-size="4.4" text-anchor="middle" fill="#333" stroke="#333" stroke-width="0.08">0.011</text>
<rect x="391.2" y="10.9" width="6.2" height="3.8" fill="none" stroke="#0000ff" stroke-width="0.55"/>
<line x1="394.3" y1="9.8" x2="394.3" y2="10.9" stroke="#0000ff" stroke-width="0.55"/>
<line x1="394.3" y1="14.7" x2="394.3" y2="15.8" stroke="#0000ff" stroke-width="0.55"/>
<line x1="391.2" y1="12.8" x2="397.4" y2="12.8" stroke="#0000ff" stroke-width="0.6"/>
<circle cx="394.3" cy="12.8" r="0.9" fill="#0000ff"/>
<rect x="420.2" y="10.9" width="6.2" height="3.8" fill="none" stroke="#ff0000" stroke-width="0.55"/>
<line x1="423.3" y1="9.8" x2="423.3" y2="10.9" stroke="#ff0000" stroke-width="0.55"/>
<line x1="423.3" y1="14.7" x2="423.3" y2="15.8" stroke="#ff0000" stroke-width="0.55"/>
<line x1="420.2" y1="12.8" x2="426.4" y2="12.8" stroke="#ff0000" stroke-width="0.6"/>
<circle cx="423.3" cy="12.8" r="0.9" fill="#ff0000"/>
<text x="400" y="14.3" font-size="4.3" text-anchor="start" fill="#333" stroke="#333" stroke-width="0.08">Low−risk</text>
<text x="429" y="14.3" font-size="4.3" text-anchor="start" fill="#333" stroke="#333" stroke-width="0.08">High−risk</text>
<rect x="19.7" y="172.3" width="114" height="110.1" fill="#fff" stroke="none" stroke-width="0.6"/>
<line x1="31.7" y1="172.3" x2="31.7" y2="282.4" stroke="#f3f3f3" stroke-width="0.35"/>
<line x1="61.7" y1="172.3" x2="61.7" y2="282.4" stroke="#f3f3f3" stroke-width="0.35"/>
<line x1="61.7" y1="172.3" x2="61.7" y2="282.4" stroke="#f3f3f3" stroke-width="0.35"/>
<line x1="91.7" y1="172.3" x2="91.7" y2="282.4" stroke="#f3f3f3" stroke-width="0.35"/>
<line x1="91.7" y1="172.3" x2="91.7" y2="282.4" stroke="#f3f3f3" stroke-width="0.35"/>
<line x1="121.7" y1="172.3" x2="121.7" y2="282.4" stroke="#f3f3f3" stroke-width="0.35"/>
<line x1="19.7" y1="272.65" x2="133.7" y2="272.65" stroke="#f3f3f3" stroke-width="0.35"/>
<line x1="19.7" y1="250.35" x2="133.7" y2="250.35" stroke="#f3f3f3" stroke-width="0.35"/>
<line x1="19.7" y1="250.35" x2="133.7" y2="250.35" stroke="#f3f3f3" stroke-width="0.35"/>
<line x1="19.7" y1="228.05" x2="133.7" y2="228.05" stroke="#f3f3f3" stroke-width="0.35"/>
<line x1="19.7" y1="228.05" x2="133.7" y2="228.05" stroke="#f3f3f3" stroke-width="0.35"/>
<line x1="19.7" y1="205.75" x2="133.7" y2="205.75" stroke="#f3f3f3" stroke-width="0.35"/>
<line x1="19.7" y1="205.75" x2="133.7" y2="205.75" stroke="#f3f3f3" stroke-width="0.35"/>
<line x1="19.7" y1="183.45" x2="133.7" y2="183.45" stroke="#f3f3f3" stroke-width="0.35"/>
<line x1="19.7" y1="183.45" x2="133.7" y2="183.45" stroke="#f3f3f3" stroke-width="0.35"/>
<line x1="46.7" y1="172.3" x2="46.7" y2="282.4" stroke="#e6e6e6" stroke-width="0.5"/>
<line x1="76.7" y1="172.3" x2="76.7" y2="282.4" stroke="#e6e6e6" stroke-width="0.5"/>
<line x1="106.7" y1="172.3" x2="106.7" y2="282.4" stroke="#e6e6e6" stroke-width="0.5"/>
<line x1="19.7" y1="261.5" x2="133.7" y2="261.5" stroke="#e6e6e6" stroke-width="0.5"/>
<line x1="19.7" y1="239.2" x2="133.7" y2="239.2" stroke="#e6e6e6" stroke-width="0.5"/>
<line x1="19.7" y1="216.9" x2="133.7" y2="216.9" stroke="#e6e6e6" stroke-width="0.5"/>
<line x1="19.7" y1="194.6" x2="133.7" y2="194.6" stroke="#e6e6e6" stroke-width="0.5"/>
<line x1="19.7" y1="172.3" x2="133.7" y2="172.3" stroke="#e6e6e6" stroke-width="0.5"/>
<path d="M128 218.5h0M108 188h0M108 196h0M80 175.3h0M62.23 207.08h0M57.82 208.62h0M61.07 231.97h0M43.92 244.94h0M40.87 256.68h0M39.48 228.38h0M62.23 177.91h0M66.03 193.75h0M43.23 216.02h0M62.49 253.24h0M43.64 188.86h0M45.55 212.23h0M49.2 206.45h0M38.89 206.95h0M40.31 200.19h0M40.28 200.3h0M40.08 198.65h0M47.58 190.58h0M34.7 214.25h0M57.46 208.83h0M37.4 223.54h0M45.44 218.98h0M51.84 252.59h0M36.13 203.7h0M44.44 238.93h0M49.09 205.89h0M48.67 220.22h0M63.74 230.54h0M57.68 206.46h0M35.5 208.84h0M60.07 218.48h0M48.65 191.13h0M53.21 213.09h0M36.9 189.95h0M46.26 197.94h0M54.05 218.01h0M58.26 258.3h0M58.67 275.4h0M38.76 199.79h0M60.04 193.49h0M49.26 212.42h0M52.84 208.61h0M61.08 205.63h0M44.33 227.53h0M66.05 223.32h0M62.93 214.66h0M58.76 217.92h0M43.6 215.72h0M47.97 221.21h0M37.34 246.73h0M56.52 251.04h0M63.62 261.04h0M36.93 236.03h0M55.89 190.69h0M53.83 209.11h0M31.36 228.57h0M65.79 201.47h0M46.47 217.09h0M40.36 186.43h0M30.91 196.8h0M57.53 206.63h0M42.39 187.88h0M47.51 207.79h0M38.05 198.22h0M50.58 236.27h0M44.1 202.68h0M58.71 205.69h0M52.75 230.28h0M54.93 214.54h0M39.81 185.89h0M32.99 197.55h0M62.85 217.32h0M67.75 196.57h0M51.9 199.16h0M66.26 218h0M54.31 211.21h0M50.54 200.21h0M44.72 214.52h0M42.9 218.62h0M46.79 184.66h0M38.93 200.45h0M44.97 202.13h0M47.33 238.42h0M30.99 186.02h0M43.99 204.06h0M40.82 196.3h0M51.56 222.37h0M58.96 231.1h0M50.85 186.66h0M52.66 236.46h0M50.83 222.42h0M39.97 197.52h0M43.5 244.33h0M60.67 201.41h0M69.09 229.13h0M37.61 188.3h0M29.04 209.32h0M72.85 211.77h0M61.55 241.01h0M50.6 233.51h0M59.22 213.85h0M50.14 186.05h0M64.72 208.06h0M39.58 205.43h0M45.44 270.34h0M52.92 221.45h0M38.72 206.86h0M54.65 204.92h0M40.15 227.47h0M54.46 190.02h0M58.59 231.63h0M44.87 220.84h0M101.37 208.32h0M51.46 223.37h0M56.4 206.51h0M30.13 193.29h0M35.19 207.44h0M54.51 186.03h0M68.68 189.33h0M51.34 208.5h0M65.42 232.39h0M32.74 196.8h0M63.68 211.52h0M62.67 260.82h0M51.37 232.62h0M45.02 241.87h0M54.25 221.09h0M39.59 216.12h0M52.8 215.72h0M53.83 216.78h0M48.34 209.76h0M40.09 204.72h0M27.03 198.66h0M38.08 187.42h0M60.1 205.13h0M38.61 227.65h0M33.52 214.18h0M39.68 194.55h0M47.69 231.37h0M49.86 184.91h0M62.66 247.44h0M61.27 219.68h0M76.9 214.36h0M63.14 207.23h0M45.62 232.38h0M36.27 179.04h0M70.85 181.13h0M39.13 212.51h0M51.12 201.61h0M40.22 206.69h0M59.22 213.34h0M38.24 185.18h0M44.77 262.6h0M38.84 221.26h0M61.61 190.26h0M51.02 225.32h0M51.44 213.15h0M41.71 221.85h0M37.45 225.25h0M61.42 267.13h0M56.75 191.67h0M55.45 271.04h0M114.51 210.34h0M48.97 196.65h0M37.52 205.35h0M50.67 204.9h0M40.9 240.82h0M47.5 212.71h0M45.89 187.56h0M49.1 223.67h0M66.22 211.37h0M58.88 231.41h0M44.61 185.49h0M59.24 236.66h0M61.61 240.44h0M57.17 179.43h0M48.7 210.34h0M64.27 191.88h0M46.86 212.97h0M34.92 189.5h0M40.45 239.58h0M52.42 195.69h0M43.58 220.68h0M44.83 219.79h0M44.24 202.78h0M37.96 197.39h0M34.4 244.22h0M32.16 184.71h0M52.99 199.46h0M41.99 203.07h0M45.82 215.85h0M67.7 205.13h0M51.29 191.17h0M58.91 215.11h0M56.65 224.3h0M70.39 223h0M33.14 210.97h0M43.72 202.09h0M69.64 179.94h0M46.04 213.14h0M69.35 218.32h0M37.73 208.61h0M32.8 254.32h0M63.96 196.73h0M44.5 231.36h0M47.35 223.94h0M67.83 241.45h0M38.84 246.05h0M76.55 198.56h0M44.08 245.5h0M39.7 206.78h0M39.28 221.35h0M47.67 252.61h0M46.11 216.46h0M63.27 215.78h0M32.27 187.94h0M31.85 216.53h0M36.65 198.79h0M50.54 206.05h0M57.51 205.55h0M46.5 258.71h0M50.82 218.86h0M51.87 224.36h0M30.01 195.07h0M39.67 201.96h0M116.1 238.25h0M42.18 191.79h0M69.18 252.67h0M46.87 207.94h0M38.93 206.14h0M27.17 212.22h0M38.78 208.7h0M41.91 210.03h0M45.3 207.77h0M45.53 222.8h0M48.61 200.58h0M46.33 194.7h0M31.11 208.28h0M40.29 189.43h0M73.11 208.9h0M30.7 211.2h0M55.44 228.8h0M46.39 191.01h0M54.33 206.47h0M42.23 228.49h0M43.32 203.63h0M47.61 233.48h0M65.13 223.91h0M42.11 184.94h0M34.06 205.91h0M31.48 227.37h0M62.96 212.82h0M41.68 220.96h0M35.45 266.28h0M50.21 221.11h0M60.71 213.83h0M50.32 234.51h0M36.61 208.07h0M44.34 179.97h0M40.28 200.38h0M29.74 216.42h0M75.02 251.43h0M45.89 217.11h0M36.01 200.94h0M63.19 268.43h0M93.98 206.63h0M59.17 198.1h0M39.89 214.19h0M37.91 203.91h0M47.87 191.19h0M49.77 223.53h0M62.74 222.13h0M75.95 258.3h0M65.2 192.89h0M42.51 243.35h0M49.84 229.87h0M35.61 199.4h0M47.68 210.46h0M33.34 218.41h0M35.13 202.49h0M35.54 190.9h0M41.32 233.57h0M41.56 194.6h0M54.26 211.02h0M33.6 208.44h0M35.13 242.05h0M52.38 214.5h0M53 207.79h0M54.47 259.98h0M54.86 204.33h0M52.62 224.46h0M48.74 198.42h0M55.75 226.68h0M33.86 226.23h0M38.6 232.68h0M55.75 210.73h0M37.98 197.8h0M48.05 218.52h0M40.09 243.3h0M45.07 202.24h0M60.12 181.9h0M52.54 195.77h0M45.48 247.83h0M40.49 178.83h0M58.63 186.29h0M52.4 190.21h0M45.32 240.28h0M62.15 205.82h0M53.76 222.14h0M88.14 223.07h0M52.68 208.26h0M64.31 224.88h0M48.67 209.57h0M54.45 213.61h0M60.57 202.09h0M34.27 177.38h0M46.33 216.35h0M50.53 200.04h0M32.66 200.52h0M57.87 238.43h0M54.68 204.78h0M67.82 190.52h0M43.37 218.43h0M46.18 213.44h0M65.33 186.67h0M44.5 204.15h0M60.13 217.34h0M44.79 200.75h0M42.38 264.1h0M40.6 230.02h0M38.65 211.69h0M45.08 244.27h0M36.95 184.07h0M59.79 197.92h0M81.49 244.14h0M34.57 211.92h0M32.5 194.92h0M27.67 215.09h0M67.34 224.72h0M33.5 216.9h0M53.28 185.42h0M41.39 184.33h0M38.16 206.96h0M39.67 181.2h0M53.65 189.08h0M29.88 219.14h0M61.87 208.47h0M49.24 189.2h0M39.34 238.11h0M38.49 205.1h0M52.32 239.03h0M51.38 217.23h0M41.81 217.89h0M42.28 207.78h0M46.01 220.91h0M65.2 198.91h0M48.29 199.63h0M60.44 237.91h0M51.8 196.81h0M49.05 205.95h0M46.79 225.76h0M53.3 203.23h0M46.85 204.98h0M55.1 243.11h0M37.64 196.96h0M41.93 198.79h0M62.4 239.53h0M44.04 200.52h0M60.6 203.26h0M68.03 238.86h0M49.6 202.79h0M34.75 271.85h0M56.41 232.03h0M52.74 234.57h0M41.01 197.98h0M61.76 197.53h0M46.58 226.33h0M32.62 232.55h0M33.2 197.92h0M39.11 196.93h0M50.68 198.92h0" stroke="#000" stroke-width="2.0" stroke-linecap="round" fill="none"/>
<path d="M24.5 214.5L28.06 214.35L31.62 214.17L35.19 213.94L38.75 213.65L42.31 213.29L45.87 212.82L49.43 212.24L53 211.58L56.56 210.84L60.12 210.04L63.68 209.18L67.24 208.29L70.81 207.37L74.37 206.42L77.93 205.45L81.49 204.47L85.06 203.48L88.62 202.48L92.18 201.48L95.74 200.46L99.3 199.45L102.87 198.42L106.43 197.4L109.99 196.37L113.55 195.34L117.11 194.31L120.68 193.27L124.24 192.24L127.8 191.2L127.8 212.4L124.24 212.55L120.68 212.7L117.11 212.85L113.55 213.01L109.99 213.16L106.43 213.32L102.87 213.48L99.3 213.64L95.74 213.81L92.18 213.99L88.62 214.17L85.06 214.35L81.49 214.55L77.93 214.75L74.37 214.97L70.81 215.21L67.24 215.47L63.68 215.77L60.12 216.1L56.56 216.49L53 216.93L49.43 217.45L45.87 218.06L42.31 218.78L38.75 219.6L35.19 220.5L31.62 221.46L28.06 222.47L24.5 223.5Z" fill="#999999" stroke="none" stroke-width="0.5" fill-opacity="0.45"/>
<line x1="24.5" y1="219" x2="127.8" y2="201.8" stroke="#3366FF" stroke-width="0.9"/>
<path d="M19.7 172.3V282.4H133.7V172.3" fill="none" stroke="#7a7a7a" stroke-width="0.8"/>
<line x1="19.7" y1="172.3" x2="133.7" y2="172.3" stroke="#cccccc" stroke-width="1.4"/>
<line x1="18.6" y1="261.5" x2="19.7" y2="261.5" stroke="#333" stroke-width="0.5"/>
<text x="18" y="262.8" font-size="3.6" text-anchor="end" fill="#4d4d4d" stroke="#4d4d4d" stroke-width="0.08">0.5</text>
<line x1="18.6" y1="239.2" x2="19.7" y2="239.2" stroke="#333" stroke-width="0.5"/>
<text x="18" y="240.5" font-size="3.6" text-anchor="end" fill="#4d4d4d" stroke="#4d4d4d" stroke-width="0.08">1.0</text>
<line x1="18.6" y1="216.9" x2="19.7" y2="216.9" stroke="#333" stroke-width="0.5"/>
<text x="18" y="218.2" font-size="3.6" text-anchor="end" fill="#4d4d4d" stroke="#4d4d4d" stroke-width="0.08">1.5</text>
<line x1="18.6" y1="194.6" x2="19.7" y2="194.6" stroke="#333" stroke-width="0.5"/>
<text x="18" y="195.9" font-size="3.6" text-anchor="end" fill="#4d4d4d" stroke="#4d4d4d" stroke-width="0.08">2.0</text>
<line x1="18.6" y1="172.3" x2="19.7" y2="172.3" stroke="#333" stroke-width="0.5"/>
<text x="18" y="173.6" font-size="3.6" text-anchor="end" fill="#4d4d4d" stroke="#4d4d4d" stroke-width="0.08">2.5</text>
<line x1="46.7" y1="282.4" x2="46.7" y2="283.5" stroke="#333" stroke-width="0.5"/>
<text x="46.7" y="287" font-size="3.6" text-anchor="middle" fill="#4d4d4d" stroke="#4d4d4d" stroke-width="0.08">1</text>
<line x1="76.7" y1="282.4" x2="76.7" y2="283.5" stroke="#333" stroke-width="0.5"/>
<text x="76.7" y="287" font-size="3.6" text-anchor="middle" fill="#4d4d4d" stroke="#4d4d4d" stroke-width="0.08">2</text>
<line x1="106.7" y1="282.4" x2="106.7" y2="283.5" stroke="#333" stroke-width="0.5"/>
<text x="106.7" y="287" font-size="3.6" text-anchor="middle" fill="#4d4d4d" stroke="#4d4d4d" stroke-width="0.08">3</text>
<text x="76.7" y="291.7" font-size="4.6" text-anchor="middle" fill="#222" stroke="#222" stroke-width="0.08">Risk score</text>
<text x="11.25" y="227.35" font-size="4.4" text-anchor="middle" fill="#222" transform="rotate(-90 11.25 227.35)" stroke="#222" stroke-width="0.08">HAVCR2 expression</text>
<text x="25" y="182" font-size="4.4" fill="#111"><tspan font-style="italic">R</tspan> = 0.14, <tspan font-style="italic">p</tspan> = 0.0067</text>
<path d="M25 170.9L25 170.57L26.3 169.45L27.6 168.07L28.9 166.38L30.2 164.47L31.5 162.46L32.8 160.32L34.1 158.16L35.4 155.84L36.7 154.09L38 152.95L39.3 152.05L40.6 151.44L41.9 150.97L43.2 150.62L44.5 150.51L45.8 150.89L47.1 151.58L48.4 152.44L49.7 153.58L51 154.5L52.3 155.2L53.6 155.84L54.9 156.51L56.2 157.29L57.5 158.11L58.8 158.98L60.1 159.91L61.4 160.89L62.7 162.03L64 163.23L65.3 164.29L66.6 165.2L67.9 166.03L69.2 166.78L70.5 167.52L71.8 168.16L73.1 168.57L74.4 168.87L75.7 169.11L77 169.3L78.3 169.47L79.6 169.63L80.9 169.75L82.2 169.82L83.5 169.88L84.8 169.92L86.1 169.96L87.4 169.99L88.7 170.02L90 170.05L91.3 170.07L92.6 170.1L93.9 170.12L95.2 170.14L96.5 170.17L97.8 170.19L99.1 170.2L100.4 170.22L101.7 170.24L103 170.25L104.3 170.27L105.6 170.29L106.9 170.3L108.2 170.33L109.5 170.35L110.8 170.37L112.1 170.4L113.4 170.43L114.7 170.47L116 170.5L117.3 170.54L118.6 170.58L119.9 170.62L121.2 170.66L122.5 170.71L123.8 170.75L125.1 170.8L126.4 170.85L127.7 170.9L127.7 170.9Z" fill="#FFA500" stroke="#111" stroke-width="0.5"/>
<path d="M134.3 176.6L135.9 176.6L136.85 177.87L137.83 179.14L138.83 180.42L139.85 181.69L140.9 182.96L141.98 184.23L143.1 185.51L144.22 186.78L145.35 188.05L146.48 189.32L147.67 190.59L148.89 191.87L150.05 193.14L151.07 194.41L151.89 195.68L152.64 196.95L153.34 198.23L153.92 199.5L154.35 200.77L154.58 202.04L154.77 203.32L154.92 204.59L155.03 205.86L155.09 207.13L155.08 208.4L154.88 209.68L154.55 210.95L154.14 212.22L153.7 213.49L153.28 214.76L152.78 216.04L152.23 217.31L151.65 218.58L151.05 219.85L150.46 221.13L149.85 222.4L149.22 223.67L148.58 224.94L147.94 226.21L147.3 227.49L146.66 228.76L146.01 230.03L145.36 231.3L144.71 232.57L144.07 233.85L143.41 235.12L142.75 236.39L142.12 237.66L141.55 238.94L141.04 240.21L140.56 241.48L140.11 242.75L139.71 244.02L139.37 245.3L139.1 246.57L138.86 247.84L138.66 249.11L138.47 250.38L138.29 251.66L138.11 252.93L137.93 254.2L137.72 255.47L137.51 256.75L137.28 258.02L137.06 259.29L136.84 260.56L136.62 261.83L136.41 263.11L136.22 264.38L136.03 265.65L135.85 266.92L135.68 268.19L135.51 269.47L135.34 270.74L135.18 272.01L135.03 273.28L134.88 274.56L134.74 275.83L134.6 277.1L134.3 277.1Z" fill="#0000FF" stroke="#0000FF" stroke-width="0.3"/>
<rect x="192.4" y="172" width="106.8" height="111.2" fill="#fff" stroke="none" stroke-width="0.6"/>
<line x1="203.25" y1="172" x2="203.25" y2="283.2" stroke="#f3f3f3" stroke-width="0.35"/>
<line x1="231.55" y1="172" x2="231.55" y2="283.2" stroke="#f3f3f3" stroke-width="0.35"/>
<line x1="231.55" y1="172" x2="231.55" y2="283.2" stroke="#f3f3f3" stroke-width="0.35"/>
<line x1="259.85" y1="172" x2="259.85" y2="283.2" stroke="#f3f3f3" stroke-width="0.35"/>
<line x1="259.85" y1="172" x2="259.85" y2="283.2" stroke="#f3f3f3" stroke-width="0.35"/>
<line x1="288.15" y1="172" x2="288.15" y2="283.2" stroke="#f3f3f3" stroke-width="0.35"/>
<line x1="192.4" y1="267.09" x2="299.2" y2="267.09" stroke="#f3f3f3" stroke-width="0.35"/>
<line x1="192.4" y1="267.09" x2="299.2" y2="267.09" stroke="#f3f3f3" stroke-width="0.35"/>
<line x1="192.4" y1="244.06" x2="299.2" y2="244.06" stroke="#f3f3f3" stroke-width="0.35"/>
<line x1="192.4" y1="244.06" x2="299.2" y2="244.06" stroke="#f3f3f3" stroke-width="0.35"/>
<line x1="192.4" y1="221.04" x2="299.2" y2="221.04" stroke="#f3f3f3" stroke-width="0.35"/>
<line x1="192.4" y1="221.04" x2="299.2" y2="221.04" stroke="#f3f3f3" stroke-width="0.35"/>
<line x1="192.4" y1="198.01" x2="299.2" y2="198.01" stroke="#f3f3f3" stroke-width="0.35"/>
<line x1="192.4" y1="198.01" x2="299.2" y2="198.01" stroke="#f3f3f3" stroke-width="0.35"/>
<line x1="192.4" y1="174.99" x2="299.2" y2="174.99" stroke="#f3f3f3" stroke-width="0.35"/>
<line x1="217.4" y1="172" x2="217.4" y2="283.2" stroke="#e6e6e6" stroke-width="0.5"/>
<line x1="245.7" y1="172" x2="245.7" y2="283.2" stroke="#e6e6e6" stroke-width="0.5"/>
<line x1="274" y1="172" x2="274" y2="283.2" stroke="#e6e6e6" stroke-width="0.5"/>
<line x1="192.4" y1="278.6" x2="299.2" y2="278.6" stroke="#e6e6e6" stroke-width="0.5"/>
<line x1="192.4" y1="255.58" x2="299.2" y2="255.58" stroke="#e6e6e6" stroke-width="0.5"/>
<line x1="192.4" y1="232.55" x2="299.2" y2="232.55" stroke="#e6e6e6" stroke-width="0.5"/>
<line x1="192.4" y1="209.53" x2="299.2" y2="209.53" stroke="#e6e6e6" stroke-width="0.5"/>
<line x1="192.4" y1="186.5" x2="299.2" y2="186.5" stroke="#e6e6e6" stroke-width="0.5"/>
<path d="M294 268h0M263 205h0M201 176h0M277 255h0M203.02 203.72h0M208.43 249.92h0M205.81 269.14h0M210.83 264.75h0M208.22 248.6h0M235.7 240.02h0M213.83 273.63h0M206.62 252.34h0M222.7 271.08h0M242.06 253.78h0M227.71 254.23h0M222.06 254.45h0M213.97 211.29h0M214.68 225.89h0M211.78 201.39h0M228.24 268.74h0M228.11 276.72h0M217.11 249.46h0M230.92 215.36h0M222.2 211.1h0M223.39 240.49h0M210.8 236.89h0M209.98 220.07h0M209.55 205.66h0M233.87 251.67h0M227.97 259.33h0M233.01 200.84h0M228.99 230.85h0M228.18 230.1h0M215.6 246.09h0M226.48 249.43h0M207.59 238.21h0M222.33 263.73h0M202.26 236.89h0M239.53 230.35h0M231.85 257.92h0M207.53 262.21h0M226.61 264.49h0M229.04 217.01h0M202.21 220.21h0M219.37 241.51h0M215.15 272.43h0M221.07 250.26h0M232.24 250.42h0M224.78 232.21h0M209.04 275.94h0M219.02 218.58h0M219.24 247.02h0M199.61 253.09h0M206.36 260.33h0M213.43 260.53h0M207.97 236.6h0M209.85 227.57h0M223.04 274.13h0M238.61 246.68h0M216.22 228.55h0M221.99 213.04h0M226.31 259.94h0M222.93 262.62h0M222.37 247.59h0M197.68 236.42h0M231.34 252.31h0M207.4 274.18h0M208.05 248.04h0M217.69 259.04h0M220.03 264.81h0M226.07 257.39h0M211.51 242.94h0M236.54 218.08h0M221.38 254.21h0M230.02 261.58h0M216.76 271.85h0M203.84 214.89h0M199.7 209.54h0M221.79 251.09h0M215.32 261.32h0M215.73 203.41h0M212.47 249.93h0M207.98 227.16h0M216.66 277.72h0M210.38 234.82h0M232.62 204.41h0M207.99 258.8h0M240.05 230.13h0M230.83 238.77h0M214.12 211.98h0M226.79 232.54h0M219.83 212.36h0M216.45 226.33h0M228.5 248.06h0M229.37 229.98h0M208.73 252.71h0M233.44 266.18h0M201.53 247.94h0M198.75 192h0M216.95 271.49h0M211.75 220.31h0M215.23 233.7h0M216.81 245.22h0M216.51 250.18h0M233.56 233.39h0M234.27 240.14h0M213.05 250.6h0M211.35 241.17h0M222.26 228.66h0M208.63 238.23h0M214.6 236.47h0M224.59 229.4h0M198.78 249.23h0M226.74 244.42h0M225.21 238.28h0M214.23 254.88h0M210.17 260.48h0M218.58 251.75h0M211.59 233.33h0M228.92 269.12h0M220.15 208.09h0M211.91 260.08h0M228.3 238.91h0M220.7 237.29h0M206.37 262.29h0M214.98 252.08h0M217.12 273.27h0M236.49 264.53h0M212.32 209.93h0M215.96 243.9h0M244.18 257.97h0M215.33 204.52h0M229.2 246.11h0M205.01 276.37h0M214.41 224.58h0M208.16 210h0M232.11 229.18h0M218.96 233.56h0M209.27 228.87h0M204.81 239.61h0M215.18 261.7h0M204.99 244.71h0M216.99 248.62h0M225.01 208.84h0M212.02 201.19h0M207.61 270.52h0M213.49 233.77h0M207.57 270.14h0M230 232.9h0M204.97 251.26h0M225.49 252.4h0M212.7 205.79h0M224.99 202.39h0M226.71 240.22h0M206.48 211.52h0M226.11 229.72h0M236.58 220.09h0M219.4 231.13h0M221.95 241.1h0M212.37 231h0M207.85 232.89h0M225.62 242.9h0M228.89 253.5h0M208.88 195.93h0M205.67 277.34h0M213.23 239.53h0M221.31 267.92h0M213.59 182.52h0M239.13 199.65h0M227.58 207.29h0M234.12 267.08h0M220.44 238.31h0M226.08 262.48h0M237.16 254.11h0M201.79 205.43h0M219.65 234.84h0M208.26 232.58h0M227.74 240.92h0M209.7 257.22h0M225.51 204.7h0M212.66 268.2h0M222.18 242.35h0M223.15 235.14h0M233.62 254.27h0M231.47 228.06h0M215.65 255.04h0M223.51 238.57h0M208.11 242.44h0M205.05 219.33h0M224.44 220.89h0M233.49 263.43h0M225.71 247.94h0M217.89 238.98h0M221.43 258.37h0M225.06 267.03h0M219.47 215.72h0M213.54 277.45h0M230.35 186.27h0M213.71 249.93h0M233.29 226.91h0M227.93 225.84h0M227.65 243.41h0M229.51 249.41h0M254.53 239.91h0M260 255.12h0M217.45 270.45h0M213.94 216.96h0M225.18 224.44h0M240.13 249.7h0M221.44 238.19h0M201.03 231.32h0M201.99 243.98h0M216.4 254.23h0M227.42 266.76h0M232.31 269.51h0M213.88 260.88h0M217.91 233.73h0M217.79 264.93h0M204.91 254.91h0M197.56 217.63h0M218.1 270.76h0M217.53 225.39h0M231 253.47h0M208.09 254.11h0M230.44 266.71h0M210.87 252.66h0M218.56 274.66h0M224.18 200.13h0M206.85 194.69h0M236.66 220.06h0M238.06 247.88h0M240.84 239.08h0M198.03 204.51h0M221.9 220.76h0M222.86 248.09h0M231.88 237.68h0M208.73 257.74h0M206.08 241.77h0M228.38 264.51h0M210.58 257.49h0M203.59 243.4h0M204.79 234.57h0M221.96 222.03h0M218.46 229.41h0M225.76 234.36h0M228.28 234.81h0M198.15 218.17h0M235.41 242.15h0M231.87 209.26h0M235.42 263.9h0M226.61 246.54h0M214.13 206.64h0M210.18 232.3h0M233.87 226.13h0M215.16 215.38h0M217.07 242.59h0M223.86 218.66h0M223.49 214.81h0M223.67 254.51h0M221.23 239.45h0M217.66 252.95h0M226.54 241.95h0M214.47 243.95h0M210.6 230.94h0M233.64 239.24h0M230.11 242.6h0M224.59 233.42h0M207.64 261.27h0M202.45 225.29h0M234.58 222.73h0M236.31 233.56h0M210.9 258.93h0M221.42 262.56h0M200.38 247.33h0M214.41 234.77h0M224.06 251.74h0M213.48 261.29h0M228.28 224.96h0M233.89 252.71h0M206.56 254.91h0M223.48 236.85h0M213.91 213.91h0M207.85 249.58h0M213.14 221.64h0M216.89 235.3h0M232.8 246.22h0M226.48 271.83h0M198.69 214.14h0M203.08 202.91h0M269.04 245.91h0M219.08 269.72h0M220.78 197.02h0M213.24 251.4h0M229.4 191.53h0M219.09 246.58h0M220.21 210.35h0M210.22 252.28h0M226.95 234.79h0M209.13 252.04h0M206.56 226.41h0M220.36 203.14h0M229.45 218.5h0M211.51 227.83h0M211.78 216.46h0M206.99 220.37h0M220.55 246.2h0M226.7 239.96h0M206.14 261.22h0M218.44 243.58h0M218.57 245.94h0M205.41 254.92h0M218.29 262.92h0M210.89 248.38h0M208.65 194.5h0M252.68 241.3h0M204.73 193.15h0M212.97 249.45h0M221.06 201.24h0M214.72 245.95h0M200.33 214.58h0M231.14 263.06h0M209.91 206.51h0M214.93 252.29h0M233.6 254.59h0M240.67 227.95h0M234.02 248.81h0M214.9 232.46h0M225.61 226.48h0M230.23 226.54h0M208.59 187.06h0M240.65 252.99h0M205.19 202.56h0M222.39 220.22h0M209.9 205.28h0M209.16 260.01h0M206.56 245.39h0M236.23 241.79h0M206.23 248.31h0M233.87 260.23h0M207.55 250.46h0M212.57 244.48h0M209.05 231.14h0M256.38 244.68h0M204.84 275.35h0M230.88 247.59h0M211.73 242.38h0M237.32 265.25h0M225.86 199h0M210.65 200.87h0M217.7 259.17h0M207.4 269.63h0M214.79 198.16h0M201.08 190.39h0M223.24 184.01h0M220.23 247.97h0M210.89 212.97h0M199.84 247.13h0M235.94 252.52h0M206.11 186.93h0M212.52 264h0M201.01 225.88h0M214.11 246.73h0M214.63 234.26h0M218.39 233.48h0M212.4 237.74h0M210.23 180.09h0M227.34 239.4h0M211.1 227.03h0M212.65 234.53h0M217.16 216.23h0M210.94 232.85h0M224.92 254.36h0M204.45 274.77h0M212.39 220.23h0M215.18 263.77h0M210.48 249.97h0M229.81 207.59h0M213.28 186.53h0M215.17 264.95h0M216.53 224.1h0M229.34 208.41h0M209.27 252.09h0M229.28 254.74h0M236.87 265.73h0M210.71 243.74h0" stroke="#000" stroke-width="2.0" stroke-linecap="round" fill="none"/>
<path d="M197.3 239.7L200.62 239.95L203.95 240.17L207.27 240.37L210.6 240.52L213.92 240.62L217.24 240.64L220.57 240.56L223.89 240.38L227.22 240.09L230.54 239.72L233.87 239.28L237.19 238.78L240.51 238.25L243.84 237.68L247.16 237.1L250.49 236.49L253.81 235.88L257.13 235.25L260.46 234.62L263.78 233.98L267.11 233.34L270.43 232.69L273.76 232.04L277.08 231.39L280.4 230.74L283.73 230.08L287.05 229.42L290.38 228.76L293.7 228.1L293.7 250.1L290.38 249.79L287.05 249.48L283.73 249.18L280.4 248.87L277.08 248.57L273.76 248.27L270.43 247.97L267.11 247.67L263.78 247.38L260.46 247.1L257.13 246.82L253.81 246.54L250.49 246.28L247.16 246.03L243.84 245.79L240.51 245.58L237.19 245.4L233.87 245.25L230.54 245.16L227.22 245.14L223.89 245.21L220.57 245.38L217.24 245.65L213.92 246.02L210.6 246.47L207.27 246.98L203.95 247.52L200.62 248.1L197.3 248.7Z" fill="#999999" stroke="none" stroke-width="0.5" fill-opacity="0.45"/>
<line x1="197.3" y1="244.2" x2="293.7" y2="239.1" stroke="#3366FF" stroke-width="0.9"/>
<path d="M192.4 172V283.2H299.2V172" fill="none" stroke="#7a7a7a" stroke-width="0.8"/>
<line x1="192.4" y1="172" x2="299.2" y2="172" stroke="#cccccc" stroke-width="1.4"/>
<line x1="191.3" y1="278.6" x2="192.4" y2="278.6" stroke="#333" stroke-width="0.5"/>
<text x="190.7" y="279.9" font-size="3.6" text-anchor="end" fill="#4d4d4d" stroke="#4d4d4d" stroke-width="0.08">0.0</text>
<line x1="191.3" y1="255.58" x2="192.4" y2="255.58" stroke="#333" stroke-width="0.5"/>
<text x="190.7" y="256.88" font-size="3.6" text-anchor="end" fill="#4d4d4d" stroke="#4d4d4d" stroke-width="0.08">0.5</text>
<line x1="191.3" y1="232.55" x2="192.4" y2="232.55" stroke="#333" stroke-width="0.5"/>
<text x="190.7" y="233.85" font-size="3.6" text-anchor="end" fill="#4d4d4d" stroke="#4d4d4d" stroke-width="0.08">1.0</text>
<line x1="191.3" y1="209.53" x2="192.4" y2="209.53" stroke="#333" stroke-width="0.5"/>
<text x="190.7" y="210.83" font-size="3.6" text-anchor="end" fill="#4d4d4d" stroke="#4d4d4d" stroke-width="0.08">1.5</text>
<line x1="191.3" y1="186.5" x2="192.4" y2="186.5" stroke="#333" stroke-width="0.5"/>
<text x="190.7" y="187.8" font-size="3.6" text-anchor="end" fill="#4d4d4d" stroke="#4d4d4d" stroke-width="0.08">2.0</text>
<line x1="217.4" y1="283.2" x2="217.4" y2="284.3" stroke="#333" stroke-width="0.5"/>
<text x="217.4" y="287.8" font-size="3.6" text-anchor="middle" fill="#4d4d4d" stroke="#4d4d4d" stroke-width="0.08">1</text>
<line x1="245.7" y1="283.2" x2="245.7" y2="284.3" stroke="#333" stroke-width="0.5"/>
<text x="245.7" y="287.8" font-size="3.6" text-anchor="middle" fill="#4d4d4d" stroke="#4d4d4d" stroke-width="0.08">2</text>
<line x1="274" y1="283.2" x2="274" y2="284.3" stroke="#333" stroke-width="0.5"/>
<text x="274" y="287.8" font-size="3.6" text-anchor="middle" fill="#4d4d4d" stroke="#4d4d4d" stroke-width="0.08">3</text>
<text x="245.8" y="292.5" font-size="4.6" text-anchor="middle" fill="#222" stroke="#222" stroke-width="0.08">Risk score</text>
<text x="183.95" y="227.6" font-size="4.4" text-anchor="middle" fill="#222" transform="rotate(-90 183.95 227.6)" stroke="#222" stroke-width="0.08">PDCD1 expression</text>
<text x="197" y="182.6" font-size="4.4" fill="#111"><tspan font-style="italic">R</tspan> = 0.081, <tspan font-style="italic">p</tspan> = 0.12</text>
<path d="M197 171.2L197 170.88L198.22 168.99L199.44 167.06L200.66 165.07L201.89 163.05L203.11 161.02L204.33 158.86L205.55 156.8L206.77 155.16L207.99 153.98L209.22 152.95L210.44 152.14L211.66 151.63L212.88 151.3L214.1 151.02L215.32 150.85L216.54 150.82L217.77 151.31L218.99 152.23L220.21 153.26L221.43 154.1L222.65 154.87L223.87 155.64L225.09 156.4L226.32 157.17L227.54 157.94L228.76 158.68L229.98 159.43L231.2 160.26L232.42 161.25L233.65 162.5L234.87 163.81L236.09 165L237.31 166.01L238.53 166.98L239.75 167.82L240.97 168.44L242.2 168.89L243.42 169.29L244.64 169.62L245.86 169.87L247.08 170.04L248.3 170.14L249.53 170.24L250.75 170.32L251.97 170.4L253.19 170.46L254.41 170.52L255.63 170.57L256.85 170.61L258.08 170.64L259.3 170.67L260.52 170.69L261.74 170.71L262.96 170.72L264.18 170.74L265.41 170.75L266.63 170.76L267.85 170.77L269.07 170.78L270.29 170.79L271.51 170.8L272.73 170.81L273.96 170.82L275.18 170.83L276.4 170.84L277.62 170.85L278.84 170.87L280.06 170.88L281.28 170.9L282.51 170.93L283.73 170.95L284.95 170.98L286.17 171L287.39 171.03L288.61 171.06L289.84 171.1L291.06 171.13L292.28 171.17L293.5 171.2L293.5 171.2Z" fill="#FFA500" stroke="#111" stroke-width="0.5"/>
<path d="M300 177.1L301 177.1L301.12 178.38L301.25 179.65L301.4 180.93L301.55 182.2L301.71 183.48L301.87 184.76L302.05 186.03L302.23 187.31L302.43 188.58L302.64 189.86L302.85 191.14L303.08 192.41L303.31 193.69L303.55 194.96L303.81 196.24L304.08 197.52L304.37 198.79L304.67 200.07L304.97 201.34L305.26 202.62L305.55 203.89L305.82 205.17L306.08 206.45L306.33 207.72L306.57 209L306.82 210.27L307.07 211.55L307.33 212.83L307.6 214.1L307.88 215.38L308.17 216.65L308.47 217.93L308.77 219.21L309.09 220.48L309.42 221.76L309.77 223.03L310.13 224.31L310.53 225.59L310.94 226.86L311.37 228.14L311.81 229.41L312.26 230.69L312.72 231.97L313.19 233.24L313.67 234.52L314.18 235.79L314.69 237.07L315.21 238.35L315.72 239.62L316.2 240.9L316.69 242.17L317.22 243.45L317.73 244.73L318.2 246L318.6 247.28L318.88 248.55L319.07 249.83L319.24 251.11L319.36 252.38L319.4 253.66L319.28 254.93L319.01 256.21L318.63 257.48L318.18 258.76L317.71 260.04L317.08 261.31L316.27 262.59L315.33 263.86L314.3 265.14L313.25 266.42L312.23 267.69L311.14 268.97L309.96 270.24L308.77 271.52L307.65 272.8L306.68 274.07L305.84 275.35L305.07 276.62L304.4 277.9L300 277.9Z" fill="#0000FF" stroke="#0000FF" stroke-width="0.3"/>
<rect x="349.3" y="172" width="114.3" height="110.8" fill="#fff" stroke="none" stroke-width="0.6"/>
<line x1="361.48" y1="172" x2="361.48" y2="282.8" stroke="#f3f3f3" stroke-width="0.35"/>
<line x1="391.52" y1="172" x2="391.52" y2="282.8" stroke="#f3f3f3" stroke-width="0.35"/>
<line x1="391.52" y1="172" x2="391.52" y2="282.8" stroke="#f3f3f3" stroke-width="0.35"/>
<line x1="421.57" y1="172" x2="421.57" y2="282.8" stroke="#f3f3f3" stroke-width="0.35"/>
<line x1="421.57" y1="172" x2="421.57" y2="282.8" stroke="#f3f3f3" stroke-width="0.35"/>
<line x1="451.62" y1="172" x2="451.62" y2="282.8" stroke="#f3f3f3" stroke-width="0.35"/>
<line x1="349.3" y1="266.29" x2="463.6" y2="266.29" stroke="#f3f3f3" stroke-width="0.35"/>
<line x1="349.3" y1="266.29" x2="463.6" y2="266.29" stroke="#f3f3f3" stroke-width="0.35"/>
<line x1="349.3" y1="243.06" x2="463.6" y2="243.06" stroke="#f3f3f3" stroke-width="0.35"/>
<line x1="349.3" y1="243.06" x2="463.6" y2="243.06" stroke="#f3f3f3" stroke-width="0.35"/>
<line x1="349.3" y1="219.84" x2="463.6" y2="219.84" stroke="#f3f3f3" stroke-width="0.35"/>
<line x1="349.3" y1="219.84" x2="463.6" y2="219.84" stroke="#f3f3f3" stroke-width="0.35"/>
<line x1="349.3" y1="196.61" x2="463.6" y2="196.61" stroke="#f3f3f3" stroke-width="0.35"/>
<line x1="349.3" y1="196.61" x2="463.6" y2="196.61" stroke="#f3f3f3" stroke-width="0.35"/>
<line x1="349.3" y1="173.39" x2="463.6" y2="173.39" stroke="#f3f3f3" stroke-width="0.35"/>
<line x1="376.5" y1="172" x2="376.5" y2="282.8" stroke="#e6e6e6" stroke-width="0.5"/>
<line x1="406.55" y1="172" x2="406.55" y2="282.8" stroke="#e6e6e6" stroke-width="0.5"/>
<line x1="436.6" y1="172" x2="436.6" y2="282.8" stroke="#e6e6e6" stroke-width="0.5"/>
<line x1="349.3" y1="277.9" x2="463.6" y2="277.9" stroke="#e6e6e6" stroke-width="0.5"/>
<line x1="349.3" y1="254.67" x2="463.6" y2="254.67" stroke="#e6e6e6" stroke-width="0.5"/>
<line x1="349.3" y1="231.45" x2="463.6" y2="231.45" stroke="#e6e6e6" stroke-width="0.5"/>
<line x1="349.3" y1="208.22" x2="463.6" y2="208.22" stroke="#e6e6e6" stroke-width="0.5"/>
<line x1="349.3" y1="185" x2="463.6" y2="185" stroke="#e6e6e6" stroke-width="0.5"/>
<path d="M457.6 249.5h0M434 203h0M403.5 188h0M434 240h0M396.8 276.08h0M362.43 201.47h0M372.68 222.94h0M371.65 261.36h0M362.22 259.92h0M379.1 261.57h0M409.5 215.88h0M369.33 239.28h0M384.16 202.36h0M393.1 230.54h0M369.14 240.18h0M394.54 218.46h0M385.06 229.95h0M380.94 226.22h0M366.63 202.18h0M369.35 200.05h0M363.18 254.71h0M392.76 180.71h0M387.81 274.7h0M362.52 263.77h0M376.99 274.93h0M367.27 255.03h0M385.81 180.22h0M378.36 205.78h0M397.17 222.94h0M384.16 212.02h0M363.14 198.86h0M372.27 265.66h0M378.47 265h0M393.95 253.72h0M372.22 218.03h0M366.41 259.98h0M369.54 257.46h0M368.42 223.28h0M365.23 206.98h0M371.41 207.77h0M368.44 229.09h0M376.36 258.42h0M392.66 201.11h0M398.33 230.45h0M365.41 225.43h0M378.24 263.34h0M382.02 209.43h0M365.16 245.94h0M377.02 223.24h0M366.83 245.28h0M372.01 257.68h0M370.8 257.86h0M388.1 259.44h0M367.96 221.05h0M377.28 219.8h0M378.78 206.47h0M370.98 218.21h0M395.47 206.13h0M371.05 254.91h0M370.87 196.66h0M382.75 212.92h0M375.67 255.35h0M384.06 253.82h0M365.17 272.52h0M365 227.4h0M384.53 196.25h0M372.74 256.65h0M390.34 220.58h0M367.94 254.15h0M368.16 189.82h0M390.69 194.11h0M371.94 241.74h0M363.52 247.97h0M367.51 239.2h0M385.98 237.18h0M368.97 241.67h0M377.79 207.31h0M389.1 199.34h0M379.65 225.08h0M385.24 238.23h0M404.28 217.69h0M370.03 211.81h0M391.47 231.54h0M377.63 229.13h0M366.87 219.25h0M364.4 266.69h0M370.92 268.45h0M364.61 196.57h0M386.08 233.73h0M377.84 216.8h0M360.2 224.16h0M391.6 192.56h0M379.14 201.6h0M374.34 193.81h0M364.73 206.78h0M375.13 245.48h0M394.4 201.38h0M378.74 262.77h0M374.82 256.25h0M379.57 219.29h0M377.62 248.49h0M380.13 269.53h0M366.79 205.8h0M365.02 239.07h0M357.33 232.79h0M388.96 222.34h0M355.68 220.71h0M368.67 202.42h0M378.77 245.32h0M376.03 213.44h0M393.17 229.99h0M367.27 266.8h0M363.69 225h0M365.45 222.76h0M375.97 267.27h0M369.79 240.7h0M374.71 239.79h0M382.57 215.53h0M370.72 244.89h0M381.68 227.1h0M358.17 237.96h0M377.48 228.34h0M393.6 201.73h0M395.94 262.05h0M378.32 248.51h0M409.61 270.34h0M368 222.06h0M369.98 220.22h0M374.49 207.78h0M376.31 222.01h0M388.33 223.39h0M374.47 212.25h0M360.46 218.93h0M383.04 221.16h0M367.58 260.42h0M391.86 231.53h0M367.23 257.5h0M369.93 197.1h0M364.59 212.64h0M370.14 269.63h0M379.32 197.2h0M369.03 200.18h0M360.48 236.23h0M378.81 220.85h0M384.48 213.14h0M363.49 242.51h0M373.79 242.53h0M361.62 212.61h0M357.87 237.64h0M372.33 232.09h0M369.64 259.52h0M391.42 200.03h0M357.46 216.42h0M380.97 239.41h0M384.43 193.78h0M373.58 259.46h0M376.06 271.72h0M368.38 223.61h0M368.55 254.26h0M360.76 217.71h0M393.48 269.05h0M359.02 214.64h0M364.59 183.25h0M384.04 200.01h0M374.77 232.34h0M376.4 194.9h0M369.89 273.66h0M365.47 244.16h0M387.34 239.67h0M364.08 243.79h0M369.93 229.7h0M385.21 262.75h0M370 249.96h0M397.92 230.49h0M365.97 220.42h0M376.89 208.62h0M377.21 222.69h0M376.05 225.33h0M386.2 201.65h0M360.33 266.47h0M377.47 218.42h0M386.9 237.7h0M360.62 199.7h0M377.48 238.52h0M374.27 245.25h0M373.22 201.56h0M377.2 272.86h0M380.17 210.38h0M383.19 218.8h0M392.94 251.59h0M381.35 224.2h0M446.07 261.97h0M381.67 216.84h0M369.09 222.6h0M364.97 248.55h0M361.76 260.59h0M369.06 262.58h0M363.9 220.72h0M382.39 237.09h0M382.63 229.21h0M379.71 247.41h0M372.57 215.95h0M374.96 258.95h0M368.78 250h0M394.51 211.44h0M357.75 222.6h0M370.7 224.16h0M378.35 267.01h0M366.16 232.17h0M390.17 243.06h0M375.45 267.08h0M372.21 228.27h0M361.33 268.82h0M369.47 221.01h0M378.92 187.18h0M369.47 204.32h0M360.27 248.55h0M378.58 227.24h0M370.18 258.53h0M389.73 237.23h0M382.72 248.08h0M383.92 225.29h0M392.38 240.96h0M387.86 248.95h0M370.96 226.94h0M378.22 234.43h0M368.76 259.3h0M366.88 266.92h0M367.02 225.14h0M363.57 199.83h0M368.12 259.18h0M367.65 231.6h0M381.97 271.88h0M368.52 253.42h0M360.36 226.35h0M373.72 259.82h0M366.86 238.23h0M382.63 250h0M367.55 262.68h0M377.82 240.46h0M366 268.97h0M375.5 228.38h0M390.92 227.07h0M370.16 244.82h0M376.87 228.82h0M374.21 249.59h0M361.71 237.11h0M358.27 252h0M389.52 257.95h0M371.3 239.58h0M382.5 265.41h0M373.45 254.71h0M389.3 260.35h0M366.66 189.87h0M375.55 188.35h0M377.55 244.41h0M387.07 223.94h0M359.09 261.65h0M371.96 227.94h0M375.29 252.1h0M378.89 217.47h0M364.75 244.03h0M377.39 264.09h0M382.79 260.76h0M384.41 226.24h0M367.64 233.85h0M374.28 237.39h0M370 224.74h0M372.71 233.99h0M371.98 271.2h0M397.14 262.23h0M357.44 222.64h0M397.45 247.96h0M359.39 269.1h0M362.11 225.95h0M367.03 259.67h0M369.65 255.87h0M390.37 262.84h0M389.45 202.15h0M395.97 266.27h0M372.78 273.77h0M357.74 217.09h0M380.21 244.3h0M393 202.86h0M363.42 242.04h0M388.75 249.67h0M355.23 252.22h0M384.37 260.34h0M375.83 221.11h0M393.67 205.77h0M391.4 257.29h0M360.35 191.8h0M375.98 216.42h0M368.22 216.73h0M374.24 254.29h0M361.52 231.26h0M371.91 258.85h0M373.33 246.83h0M355.85 259.24h0M375.27 255.06h0M392.68 262.26h0M361.22 219.82h0M397.09 225.49h0M375.71 243.95h0M367.18 240.66h0M401.12 254.47h0M375.24 256.68h0M374.16 221.95h0M372.38 206.3h0M391.8 251.93h0M364.32 248.19h0M367.18 219.88h0M369.53 198.31h0M361.31 191.04h0M389.61 217.64h0M375.69 219.62h0M379.34 214.27h0M392.07 197.24h0M375.88 211.03h0M369.32 225.11h0M377 203.12h0M376.04 214.2h0M370.02 231h0M367.88 259.64h0M371.82 261.53h0M384.49 228.83h0M365.62 206.81h0M435.63 219.29h0M368 247.32h0M369.2 228.98h0M364.05 239.78h0M372.84 251.62h0M372.25 246.17h0M382.33 260.54h0M392.78 202.31h0M368.41 221.37h0M387.83 193.94h0M370.32 236.44h0M373.28 242.94h0M364.25 218.1h0M392.55 198.07h0M372.29 232.68h0M383.08 210.79h0M358.83 213.17h0M382.93 227.24h0M367.7 268.69h0M374.59 225.8h0M382.02 249.72h0M365.81 226.65h0M376.87 228.84h0M389.16 208.21h0M365.55 212.3h0M375.07 253.97h0M366.28 230.42h0M364.82 220.51h0M375.73 274.88h0M374.74 262.09h0M380.87 218.91h0M390.37 230.75h0M383.32 239.54h0M371.18 210.65h0M375.62 230.29h0M382.01 220.41h0M389.32 256.81h0M382.37 203.39h0M376.11 275.78h0M364.45 216.62h0M390.99 223.81h0M369.48 201.02h0M373.23 265.25h0M392.01 258.12h0M367.07 199.92h0M394.11 236.91h0M367.8 227.86h0M362.55 242.31h0M376.45 224.14h0M387.16 270.08h0M373.15 215.17h0M389.54 257.53h0M372.97 219.17h0M388.11 245.5h0M363.64 230.33h0M369.54 236.75h0M364.03 236.5h0M384.68 243.77h0" stroke="#000" stroke-width="2.0" stroke-linecap="round" fill="none"/>
<path d="M354.4 234.2L357.96 234.24L361.52 234.25L365.08 234.23L368.63 234.16L372.19 234.03L375.75 233.81L379.31 233.48L382.87 233.03L386.43 232.47L389.99 231.83L393.54 231.12L397.1 230.36L400.66 229.56L404.22 228.74L407.78 227.89L411.34 227.04L414.9 226.17L418.46 225.29L422.01 224.41L425.57 223.52L429.13 222.63L432.69 221.73L436.25 220.83L439.81 219.93L443.37 219.03L446.92 218.12L450.48 217.22L454.04 216.31L457.6 215.4L457.6 237.8L454.04 237.73L450.48 237.65L446.92 237.58L443.37 237.51L439.81 237.44L436.25 237.37L432.69 237.31L429.13 237.25L425.57 237.19L422.01 237.14L418.46 237.09L414.9 237.05L411.34 237.01L407.78 236.99L404.22 236.98L400.66 236.99L397.1 237.03L393.54 237.1L389.99 237.23L386.43 237.42L382.87 237.7L379.31 238.08L375.75 238.58L372.19 239.2L368.63 239.9L365.08 240.67L361.52 241.48L357.96 242.33L354.4 243.2Z" fill="#999999" stroke="none" stroke-width="0.5" fill-opacity="0.45"/>
<line x1="354.4" y1="238.7" x2="457.6" y2="226.6" stroke="#3366FF" stroke-width="0.9"/>
<path d="M349.3 172V282.8H463.6V172" fill="none" stroke="#7a7a7a" stroke-width="0.8"/>
<line x1="349.3" y1="172" x2="463.6" y2="172" stroke="#cccccc" stroke-width="1.4"/>
<line x1="348.2" y1="277.9" x2="349.3" y2="277.9" stroke="#333" stroke-width="0.5"/>
<text x="347.6" y="279.2" font-size="3.6" text-anchor="end" fill="#4d4d4d" stroke="#4d4d4d" stroke-width="0.08">0.0</text>
<line x1="348.2" y1="254.67" x2="349.3" y2="254.67" stroke="#333" stroke-width="0.5"/>
<text x="347.6" y="255.97" font-size="3.6" text-anchor="end" fill="#4d4d4d" stroke="#4d4d4d" stroke-width="0.08">0.5</text>
<line x1="348.2" y1="231.45" x2="349.3" y2="231.45" stroke="#333" stroke-width="0.5"/>
<text x="347.6" y="232.75" font-size="3.6" text-anchor="end" fill="#4d4d4d" stroke="#4d4d4d" stroke-width="0.08">1.0</text>
<line x1="348.2" y1="208.22" x2="349.3" y2="208.22" stroke="#333" stroke-width="0.5"/>
<text x="347.6" y="209.52" font-size="3.6" text-anchor="end" fill="#4d4d4d" stroke="#4d4d4d" stroke-width="0.08">1.5</text>
<line x1="348.2" y1="185" x2="349.3" y2="185" stroke="#333" stroke-width="0.5"/>
<text x="347.6" y="186.3" font-size="3.6" text-anchor="end" fill="#4d4d4d" stroke="#4d4d4d" stroke-width="0.08">2.0</text>
<line x1="376.5" y1="282.8" x2="376.5" y2="283.9" stroke="#333" stroke-width="0.5"/>
<text x="376.5" y="287.4" font-size="3.6" text-anchor="middle" fill="#4d4d4d" stroke="#4d4d4d" stroke-width="0.08">1</text>
<line x1="406.55" y1="282.8" x2="406.55" y2="283.9" stroke="#333" stroke-width="0.5"/>
<text x="406.55" y="287.4" font-size="3.6" text-anchor="middle" fill="#4d4d4d" stroke="#4d4d4d" stroke-width="0.08">2</text>
<line x1="436.6" y1="282.8" x2="436.6" y2="283.9" stroke="#333" stroke-width="0.5"/>
<text x="436.6" y="287.4" font-size="3.6" text-anchor="middle" fill="#4d4d4d" stroke="#4d4d4d" stroke-width="0.08">3</text>
<text x="406.45" y="292.1" font-size="4.6" text-anchor="middle" fill="#222" stroke="#222" stroke-width="0.08">Risk score</text>
<text x="340.85" y="227.4" font-size="4.4" text-anchor="middle" fill="#222" transform="rotate(-90 340.85 227.4)" stroke="#222" stroke-width="0.08">PDCD1LG2 expression</text>
<text x="354.6" y="182.2" font-size="4.4" fill="#111"><tspan font-style="italic">R</tspan> = 0.11, <tspan font-style="italic">p</tspan> = 0.029</text>
<path d="M354.3 171.1L354.3 170.57L355.59 168.98L356.89 167.31L358.18 165.56L359.47 163.68L360.77 161.47L362.06 159.13L363.36 156.96L364.65 155.25L365.94 154.15L367.24 153.29L368.53 152.59L369.82 152.02L371.12 151.49L372.41 151.02L373.71 150.74L375 150.8L376.29 151.45L377.59 152.47L378.88 153.61L380.17 154.62L381.47 155.35L382.76 155.99L384.05 156.61L385.35 157.24L386.64 157.96L387.94 158.79L389.23 159.71L390.52 160.68L391.82 161.67L393.11 162.76L394.4 163.9L395.7 164.98L396.99 165.93L398.28 166.68L399.58 167.35L400.87 167.96L402.17 168.48L403.46 168.92L404.75 169.28L406.05 169.62L407.34 169.91L408.63 170.13L409.93 170.26L411.22 170.32L412.52 170.37L413.81 170.41L415.1 170.44L416.4 170.47L417.69 170.5L418.98 170.52L420.28 170.54L421.57 170.56L422.86 170.59L424.16 170.6L425.45 170.62L426.75 170.64L428.04 170.65L429.33 170.67L430.63 170.68L431.92 170.69L433.21 170.7L434.51 170.72L435.8 170.73L437.09 170.74L438.39 170.76L439.68 170.78L440.98 170.8L442.27 170.82L443.56 170.84L444.86 170.86L446.15 170.88L447.44 170.91L448.74 170.93L450.03 170.96L451.33 170.99L452.62 171.01L453.91 171.04L455.21 171.07L456.5 171.1L456.5 171.1Z" fill="#FFA500" stroke="#111" stroke-width="0.5"/>
<path d="M463.9 177.1L464.7 177.1L464.83 178.38L465 179.65L465.22 180.93L465.48 182.2L465.76 183.48L466.06 184.76L466.39 186.03L466.77 187.31L467.22 188.58L467.72 189.86L468.27 191.14L468.84 192.41L469.44 193.69L470.11 194.96L470.86 196.24L471.65 197.52L472.47 198.79L473.27 200.07L474.01 201.34L474.72 202.62L475.43 203.89L476.12 205.17L476.79 206.45L477.4 207.72L477.95 209L478.41 210.27L478.81 211.55L479.17 212.83L479.51 214.1L479.85 215.38L480.23 216.65L480.65 217.93L481.15 219.21L481.69 220.48L482.22 221.76L482.71 223.03L483.11 224.31L483.4 225.59L483.65 226.86L483.9 228.14L484.11 229.41L484.27 230.69L484.37 231.97L484.4 233.24L484.3 234.52L484.09 235.79L483.82 237.07L483.52 238.35L483.22 239.62L482.8 240.9L482.34 242.17L482.04 243.45L482.05 244.73L482.31 246L482.69 247.28L483.06 248.55L483.28 249.83L483.28 251.11L483.16 252.38L482.95 253.66L482.69 254.93L482.39 256.21L482.04 257.48L481.51 258.76L480.85 260.04L480.1 261.31L479.3 262.59L478.49 263.86L477.71 265.14L476.87 266.42L476 267.69L475.09 268.97L474.16 270.24L473.23 271.52L472.32 272.8L471.4 274.07L470.47 275.35L469.54 276.62L468.6 277.9L463.9 277.9Z" fill="#0000FF" stroke="#0000FF" stroke-width="0.3"/>
<text x="503.8" y="10" font-size="11.3" text-anchor="start" fill="#000" font-weight="bold" stroke="#000" stroke-width="0.3">B</text>
<rect x="551.3" y="57.2" width="22.25" height="24.46" fill="none" stroke="#d0d0d0" stroke-width="0.5"/>
<rect x="573.55" y="57.2" width="22.25" height="24.46" fill="none" stroke="#d0d0d0" stroke-width="0.5"/>
<rect x="595.8" y="57.2" width="22.25" height="24.46" fill="none" stroke="#d0d0d0" stroke-width="0.5"/>
<rect x="618.05" y="57.2" width="22.25" height="24.46" fill="none" stroke="#d0d0d0" stroke-width="0.5"/>
<rect x="640.3" y="57.2" width="22.25" height="24.46" fill="none" stroke="#d0d0d0" stroke-width="0.5"/>
<rect x="662.55" y="57.2" width="22.25" height="24.46" fill="none" stroke="#d0d0d0" stroke-width="0.5"/>
<rect x="684.8" y="57.2" width="22.25" height="24.46" fill="none" stroke="#d0d0d0" stroke-width="0.5"/>
<rect x="707.05" y="57.2" width="22.25" height="24.46" fill="none" stroke="#d0d0d0" stroke-width="0.5"/>
<rect x="729.3" y="57.2" width="22.25" height="24.46" fill="none" stroke="#d0d0d0" stroke-width="0.5"/>
<rect x="573.55" y="81.66" width="22.25" height="24.46" fill="none" stroke="#d0d0d0" stroke-width="0.5"/>
<rect x="595.8" y="81.66" width="22.25" height="24.46" fill="none" stroke="#d0d0d0" stroke-width="0.5"/>
<rect x="618.05" y="81.66" width="22.25" height="24.46" fill="none" stroke="#d0d0d0" stroke-width="0.5"/>
<rect x="640.3" y="81.66" width="22.25" height="24.46" fill="none" stroke="#d0d0d0" stroke-width="0.5"/>
<rect x="662.55" y="81.66" width="22.25" height="24.46" fill="none" stroke="#d0d0d0" stroke-width="0.5"/>
<rect x="684.8" y="81.66" width="22.25" height="24.46" fill="none" stroke="#d0d0d0" stroke-width="0.5"/>
<rect x="707.05" y="81.66" width="22.25" height="24.46" fill="none" stroke="#d0d0d0" stroke-width="0.5"/>
<rect x="729.3" y="81.66" width="22.25" height="24.46" fill="none" stroke="#d0d0d0" stroke-width="0.5"/>
<rect x="595.8" y="106.12" width="22.25" height="24.46" fill="none" stroke="#d0d0d0" stroke-width="0.5"/>
<rect x="618.05" y="106.12" width="22.25" height="24.46" fill="none" stroke="#d0d0d0" stroke-width="0.5"/>
<rect x="640.3" y="106.12" width="22.25" height="24.46" fill="none" stroke="#d0d0d0" stroke-width="0.5"/>
<rect x="662.55" y="106.12" width="22.25" height="24.46" fill="none" stroke="#d0d0d0" stroke-width="0.5"/>
<rect x="684.8" y="106.12" width="22.25" height="24.46" fill="none" stroke="#d0d0d0" stroke-width="0.5"/>
<rect x="707.05" y="106.12" width="22.25" height="24.46" fill="none" stroke="#d0d0d0" stroke-width="0.5"/>
<rect x="729.3" y="106.12" width="22.25" height="24.46" fill="none" stroke="#d0d0d0" stroke-width="0.5"/>
<rect x="618.05" y="130.58" width="22.25" height="24.46" fill="none" stroke="#d0d0d0" stroke-width="0.5"/>
<rect x="640.3" y="130.58" width="22.25" height="24.46" fill="none" stroke="#d0d0d0" stroke-width="0.5"/>
<rect x="662.55" y="130.58" width="22.25" height="24.46" fill="none" stroke="#d0d0d0" stroke-width="0.5"/>
<rect x="684.8" y="130.58" width="22.25" height="24.46" fill="none" stroke="#d0d0d0" stroke-width="0.5"/>
<rect x="707.05" y="130.58" width="22.25" height="24.46" fill="none" stroke="#d0d0d0" stroke-width="0.5"/>
<rect x="729.3" y="130.58" width="22.25" height="24.46" fill="none" stroke="#d0d0d0" stroke-width="0.5"/>
<rect x="640.3" y="155.04" width="22.25" height="24.46" fill="none" stroke="#d0d0d0" stroke-width="0.5"/>
<rect x="662.55" y="155.04" width="22.25" height="24.46" fill="none" stroke="#d0d0d0" stroke-width="0.5"/>
<rect x="684.8" y="155.04" width="22.25" height="24.46" fill="none" stroke="#d0d0d0" stroke-width="0.5"/>
<rect x="707.05" y="155.04" width="22.25" height="24.46" fill="none" stroke="#d0d0d0" stroke-width="0.5"/>
<rect x="729.3" y="155.04" width="22.25" height="24.46" fill="none" stroke="#d0d0d0" stroke-width="0.5"/>
<rect x="662.55" y="179.5" width="22.25" height="24.46" fill="none" stroke="#d0d0d0" stroke-width="0.5"/>
<rect x="684.8" y="179.5" width="22.25" height="24.46" fill="none" stroke="#d0d0d0" stroke-width="0.5"/>
<rect x="707.05" y="179.5" width="22.25" height="24.46" fill="none" stroke="#d0d0d0" stroke-width="0.5"/>
<rect x="729.3" y="179.5" width="22.25" height="24.46" fill="none" stroke="#d0d0d0" stroke-width="0.5"/>
<rect x="684.8" y="203.96" width="22.25" height="24.46" fill="none" stroke="#d0d0d0" stroke-width="0.5"/>
<rect x="707.05" y="203.96" width="22.25" height="24.46" fill="none" stroke="#d0d0d0" stroke-width="0.5"/>
<rect x="729.3" y="203.96" width="22.25" height="24.46" fill="none" stroke="#d0d0d0" stroke-width="0.5"/>
<rect x="707.05" y="228.42" width="22.25" height="24.46" fill="none" stroke="#d0d0d0" stroke-width="0.5"/>
<rect x="729.3" y="228.42" width="22.25" height="24.46" fill="none" stroke="#d0d0d0" stroke-width="0.5"/>
<rect x="729.3" y="252.88" width="22.25" height="24.46" fill="none" stroke="#d0d0d0" stroke-width="0.5"/>
<ellipse cx="562.42" cy="69.43" rx="10.3" ry="11.2" fill="#ff0000"/>
<text x="562.42" y="74.13" font-size="9.5" text-anchor="middle" fill="#000">*</text>
<ellipse cx="584.67" cy="69.43" rx="2.3" ry="2.5" fill="#f2f2ff"/>
<ellipse cx="606.92" cy="69.43" rx="1.03" ry="1.12" fill="#fffcfc"/>
<ellipse cx="629.17" cy="69.43" rx="3.85" ry="4.19" fill="#ffdbdb"/>
<text x="629.17" y="74.13" font-size="9.5" text-anchor="middle" fill="#000">*</text>
<ellipse cx="651.42" cy="69.43" rx="1.46" ry="1.58" fill="#fffafa"/>
<ellipse cx="673.67" cy="69.43" rx="2.52" ry="2.74" fill="#fff0f0"/>
<ellipse cx="695.92" cy="69.43" rx="3.42" ry="3.71" fill="#ffe3e3"/>
<ellipse cx="718.17" cy="69.43" rx="3.99" ry="4.34" fill="#d9d9ff"/>
<ellipse cx="584.67" cy="93.89" rx="10.3" ry="11.2" fill="#ff0000"/>
<text x="584.67" y="98.59" font-size="9.5" text-anchor="middle" fill="#000">*</text>
<ellipse cx="606.92" cy="93.89" rx="8.11" ry="8.82" fill="#ff6161"/>
<text x="606.92" y="98.59" font-size="9.5" text-anchor="middle" fill="#000">*</text>
<ellipse cx="629.17" cy="93.89" rx="7.28" ry="7.92" fill="#ff8080"/>
<text x="629.17" y="98.59" font-size="9.5" text-anchor="middle" fill="#000">*</text>
<ellipse cx="651.42" cy="93.89" rx="8.3" ry="9.03" fill="#ff5959"/>
<text x="651.42" y="98.59" font-size="9.5" text-anchor="middle" fill="#000">*</text>
<ellipse cx="673.67" cy="93.89" rx="7.14" ry="7.76" fill="#ff8585"/>
<text x="673.67" y="98.59" font-size="9.5" text-anchor="middle" fill="#000">*</text>
<ellipse cx="695.92" cy="93.89" rx="8.74" ry="9.5" fill="#ff4747"/>
<text x="695.92" y="98.59" font-size="9.5" text-anchor="middle" fill="#000">*</text>
<ellipse cx="718.17" cy="93.89" rx="1.03" ry="1.12" fill="#fffcfc"/>
<ellipse cx="740.42" cy="93.89" rx="7.84" ry="8.53" fill="#ff6b6b"/>
<text x="740.42" y="98.59" font-size="9.5" text-anchor="middle" fill="#000">*</text>
<ellipse cx="606.92" cy="118.35" rx="10.3" ry="11.2" fill="#ff0000"/>
<text x="606.92" y="123.05" font-size="9.5" text-anchor="middle" fill="#000">*</text>
<ellipse cx="629.17" cy="118.35" rx="8.11" ry="8.82" fill="#ff6161"/>
<text x="629.17" y="123.05" font-size="9.5" text-anchor="middle" fill="#000">*</text>
<ellipse cx="651.42" cy="118.35" rx="8.37" ry="9.1" fill="#ff5757"/>
<text x="651.42" y="123.05" font-size="9.5" text-anchor="middle" fill="#000">*</text>
<ellipse cx="673.67" cy="118.35" rx="8.62" ry="9.37" fill="#ff4d4d"/>
<text x="673.67" y="123.05" font-size="9.5" text-anchor="middle" fill="#000">*</text>
<ellipse cx="695.92" cy="118.35" rx="8.92" ry="9.7" fill="#ff4040"/>
<text x="695.92" y="123.05" font-size="9.5" text-anchor="middle" fill="#000">*</text>
<ellipse cx="718.17" cy="118.35" rx="1.46" ry="1.58" fill="#fffafa"/>
<ellipse cx="740.42" cy="118.35" rx="9.5" ry="10.33" fill="#ff2626"/>
<text x="740.42" y="123.05" font-size="9.5" text-anchor="middle" fill="#000">*</text>
<ellipse cx="629.17" cy="142.81" rx="10.3" ry="11.2" fill="#ff0000"/>
<text x="629.17" y="147.51" font-size="9.5" text-anchor="middle" fill="#000">*</text>
<ellipse cx="651.42" cy="142.81" rx="6.68" ry="7.26" fill="#ff9494"/>
<text x="651.42" y="147.51" font-size="9.5" text-anchor="middle" fill="#000">*</text>
<ellipse cx="673.67" cy="142.81" rx="7.14" ry="7.76" fill="#ff8585"/>
<text x="673.67" y="147.51" font-size="9.5" text-anchor="middle" fill="#000">*</text>
<ellipse cx="695.92" cy="142.81" rx="9.21" ry="10.02" fill="#ff3333"/>
<text x="695.92" y="147.51" font-size="9.5" text-anchor="middle" fill="#000">*</text>
<ellipse cx="740.42" cy="142.81" rx="7.98" ry="8.68" fill="#ff6666"/>
<text x="740.42" y="147.51" font-size="9.5" text-anchor="middle" fill="#000">*</text>
<ellipse cx="651.42" cy="167.27" rx="10.3" ry="11.2" fill="#ff0000"/>
<text x="651.42" y="171.97" font-size="9.5" text-anchor="middle" fill="#000">*</text>
<ellipse cx="673.67" cy="167.27" rx="7.84" ry="8.53" fill="#ff6b6b"/>
<text x="673.67" y="171.97" font-size="9.5" text-anchor="middle" fill="#000">*</text>
<ellipse cx="695.92" cy="167.27" rx="7.43" ry="8.08" fill="#ff7a7a"/>
<text x="695.92" y="171.97" font-size="9.5" text-anchor="middle" fill="#000">*</text>
<ellipse cx="718.17" cy="167.27" rx="1.46" ry="1.58" fill="#fafaff"/>
<ellipse cx="740.42" cy="167.27" rx="7.98" ry="8.68" fill="#ff6666"/>
<text x="740.42" y="171.97" font-size="9.5" text-anchor="middle" fill="#000">*</text>
<ellipse cx="673.67" cy="191.73" rx="10.3" ry="11.2" fill="#ff0000"/>
<text x="673.67" y="196.43" font-size="9.5" text-anchor="middle" fill="#000">*</text>
<ellipse cx="695.92" cy="191.73" rx="6.91" ry="7.51" fill="#ff8c8c"/>
<text x="695.92" y="196.43" font-size="9.5" text-anchor="middle" fill="#000">*</text>
<ellipse cx="718.17" cy="191.73" rx="3.26" ry="3.54" fill="#ffe6e6"/>
<ellipse cx="740.42" cy="191.73" rx="8.74" ry="9.5" fill="#ff4747"/>
<text x="740.42" y="196.43" font-size="9.5" text-anchor="middle" fill="#000">*</text>
<ellipse cx="695.92" cy="216.19" rx="10.3" ry="11.2" fill="#ff0000"/>
<text x="695.92" y="220.89" font-size="9.5" text-anchor="middle" fill="#000">*</text>
<ellipse cx="718.17" cy="216.19" rx="2.73" ry="2.96" fill="#ffeded"/>
<ellipse cx="740.42" cy="216.19" rx="8.74" ry="9.5" fill="#ff4747"/>
<text x="740.42" y="220.89" font-size="9.5" text-anchor="middle" fill="#000">*</text>
<ellipse cx="718.17" cy="240.65" rx="10.3" ry="11.2" fill="#ff0000"/>
<text x="718.17" y="245.35" font-size="9.5" text-anchor="middle" fill="#000">*</text>
<ellipse cx="740.42" cy="240.65" rx="1.03" ry="1.12" fill="#fffcfc"/>
<ellipse cx="740.42" cy="265.11" rx="10.3" ry="11.2" fill="#ff0000"/>
<text x="740.42" y="269.81" font-size="9.5" text-anchor="middle" fill="#000">*</text>
<text x="564.72" y="54.3" font-size="6.6" text-anchor="start" fill="#000" transform="rotate(-90 564.72 54.3)" stroke="#000" stroke-width="0.08">riskScore</text>
<text x="586.97" y="54.3" font-size="6.6" text-anchor="start" fill="#000" transform="rotate(-90 586.97 54.3)" stroke="#000" stroke-width="0.08">CD274</text>
<text x="609.22" y="54.3" font-size="6.6" text-anchor="start" fill="#000" transform="rotate(-90 609.22 54.3)" stroke="#000" stroke-width="0.08">CTLA4</text>
<text x="631.47" y="54.3" font-size="6.6" text-anchor="start" fill="#000" transform="rotate(-90 631.47 54.3)" stroke="#000" stroke-width="0.08">HAVCR2</text>
<text x="653.72" y="54.3" font-size="6.6" text-anchor="start" fill="#000" transform="rotate(-90 653.72 54.3)" stroke="#000" stroke-width="0.08">LAG3</text>
<text x="675.97" y="54.3" font-size="6.6" text-anchor="start" fill="#000" transform="rotate(-90 675.97 54.3)" stroke="#000" stroke-width="0.08">PDCD1</text>
<text x="698.22" y="54.3" font-size="6.6" text-anchor="start" fill="#000" transform="rotate(-90 698.22 54.3)" stroke="#000" stroke-width="0.08">PDCD1LG2</text>
<text x="720.47" y="54.3" font-size="6.6" text-anchor="start" fill="#000" transform="rotate(-90 720.47 54.3)" stroke="#000" stroke-width="0.08">SIGLEC15</text>
<text x="742.72" y="54.3" font-size="6.6" text-anchor="start" fill="#000" transform="rotate(-90 742.72 54.3)" stroke="#000" stroke-width="0.08">TIGIT</text>
<text x="549.3" y="71.73" font-size="6.6" text-anchor="end" fill="#000" stroke="#000" stroke-width="0.08">riskScore</text>
<text x="571.55" y="96.19" font-size="6.6" text-anchor="end" fill="#000" stroke="#000" stroke-width="0.08">CD274</text>
<text x="593.8" y="120.65" font-size="6.6" text-anchor="end" fill="#000" stroke="#000" stroke-width="0.08">CTLA4</text>
<text x="616.05" y="145.11" font-size="6.6" text-anchor="end" fill="#000" stroke="#000" stroke-width="0.08">HAVCR2</text>
<text x="638.3" y="169.57" font-size="6.6" text-anchor="end" fill="#000" stroke="#000" stroke-width="0.08">LAG3</text>
<text x="660.55" y="194.03" font-size="6.6" text-anchor="end" fill="#000" stroke="#000" stroke-width="0.08">PDCD1</text>
<text x="682.8" y="218.49" font-size="6.6" text-anchor="end" fill="#000" stroke="#000" stroke-width="0.08">PDCD1LG2</text>
<text x="705.05" y="242.95" font-size="6.6" text-anchor="end" fill="#000" stroke="#000" stroke-width="0.08">SIGLEC15</text>
<text x="727.3" y="267.41" font-size="6.6" text-anchor="end" fill="#000" stroke="#000" stroke-width="0.08">TIGIT</text>
<defs><linearGradient id="cb" x1="0" y1="0" x2="0" y2="1"><stop offset="0" stop-color="#ff0000"/><stop offset="0.5" stop-color="#ffffff"/><stop offset="1" stop-color="#0000ff"/></linearGradient></defs>
<rect x="755.2" y="57.2" width="7.4" height="221" fill="url(#cb)" stroke="none" stroke-width="0.6"/>
<line x1="762.6" y1="57.2" x2="764.3" y2="57.2" stroke="#555" stroke-width="0.4"/>
<text x="767.4" y="58.9" font-size="4.8" text-anchor="start" fill="#222" stroke="#222" stroke-width="0.08">1</text>
<line x1="762.6" y1="79.3" x2="764.3" y2="79.3" stroke="#555" stroke-width="0.4"/>
<text x="767.4" y="81" font-size="4.8" text-anchor="start" fill="#222" stroke="#222" stroke-width="0.08">0.8</text>
<line x1="762.6" y1="101.4" x2="764.3" y2="101.4" stroke="#555" stroke-width="0.4"/>
<text x="767.4" y="103.1" font-size="4.8" text-anchor="start" fill="#222" stroke="#222" stroke-width="0.08">0.6</text>
<line x1="762.6" y1="123.5" x2="764.3" y2="123.5" stroke="#555" stroke-width="0.4"/>
<text x="767.4" y="125.2" font-size="4.8" text-anchor="start" fill="#222" stroke="#222" stroke-width="0.08">0.4</text>
<line x1="762.6" y1="145.6" x2="764.3" y2="145.6" stroke="#555" stroke-width="0.4"/>
<text x="767.4" y="147.3" font-size="4.8" text-anchor="start" fill="#222" stroke="#222" stroke-width="0.08">0.2</text>
<line x1="762.6" y1="167.7" x2="764.3" y2="167.7" stroke="#555" stroke-width="0.4"/>
<text x="767.4" y="169.4" font-size="4.8" text-anchor="start" fill="#222" stroke="#222" stroke-width="0.08">0</text>
<line x1="762.6" y1="189.8" x2="764.3" y2="189.8" stroke="#555" stroke-width="0.4"/>
<text x="765.5" y="191.5" font-size="4.8" text-anchor="start" fill="#222" stroke="#222" stroke-width="0.08">−0.2</text>
<line x1="762.6" y1="211.9" x2="764.3" y2="211.9" stroke="#555" stroke-width="0.4"/>
<text x="765.5" y="213.6" font-size="4.8" text-anchor="start" fill="#222" stroke="#222" stroke-width="0.08">−0.4</text>
<line x1="762.6" y1="234" x2="764.3" y2="234" stroke="#555" stroke-width="0.4"/>
<text x="765.5" y="235.7" font-size="4.8" text-anchor="start" fill="#222" stroke="#222" stroke-width="0.08">−0.6</text>
<line x1="762.6" y1="256.1" x2="764.3" y2="256.1" stroke="#555" stroke-width="0.4"/>
<text x="765.5" y="257.8" font-size="4.8" text-anchor="start" fill="#222" stroke="#222" stroke-width="0.08">−0.8</text>
<line x1="762.6" y1="278.2" x2="764.3" y2="278.2" stroke="#555" stroke-width="0.4"/>
<text x="765.5" y="279.9" font-size="4.8" text-anchor="start" fill="#222" stroke="#222" stroke-width="0.08">−1</text>
<text x="0.6" y="317.1" font-size="11.3" text-anchor="start" fill="#000" font-weight="bold" stroke="#000" stroke-width="0.3">C</text>
<line x1="21.6" y1="338.1" x2="21.6" y2="425" stroke="#333333" stroke-width="0.6"/>
<line x1="20.4" y1="349.4" x2="21.6" y2="349.4" stroke="#333333" stroke-width="0.6"/>
<text x="19.6" y="350.84" font-size="4" text-anchor="end" fill="#1a1a1a" stroke="#1a1a1a" stroke-width="0.08">−0.5</text>
<line x1="20.4" y1="374.5" x2="21.6" y2="374.5" stroke="#333333" stroke-width="0.6"/>
<text x="19.6" y="375.94" font-size="4" text-anchor="end" fill="#1a1a1a" stroke="#1a1a1a" stroke-width="0.08">−1.0</text>
<line x1="20.4" y1="399.4" x2="21.6" y2="399.4" stroke="#333333" stroke-width="0.6"/>
<text x="19.6" y="400.84" font-size="4" text-anchor="end" fill="#1a1a1a" stroke="#1a1a1a" stroke-width="0.08">−1.5</text>
<line x1="20.4" y1="424.4" x2="21.6" y2="424.4" stroke="#333333" stroke-width="0.6"/>
<text x="19.6" y="425.84" font-size="4" text-anchor="end" fill="#1a1a1a" stroke="#1a1a1a" stroke-width="0.08">−2.0</text>
<line x1="21.6" y1="425" x2="139.7" y2="425" stroke="#333333" stroke-width="0.6"/>
<line x1="53.8" y1="425" x2="53.8" y2="426.2" stroke="#333333" stroke-width="0.6"/>
<text x="53.8" y="430.7" font-size="4.4" text-anchor="middle" fill="#333" stroke="#333" stroke-width="0.08">Low−risk</text>
<line x1="107.5" y1="425" x2="107.5" y2="426.2" stroke="#333333" stroke-width="0.6"/>
<text x="107.5" y="430.7" font-size="4.4" text-anchor="middle" fill="#333" stroke="#333" stroke-width="0.08">High−risk</text>
<text x="10.1" y="381.55" font-size="4.2" text-anchor="middle" fill="#222" transform="rotate(-90 10.1 381.55)" stroke="#222" stroke-width="0.08">Dysfunction</text>
<path d="M53.8 350.3V348.8H107.5V350.3" fill="none" stroke="#555" stroke-width="0.45"/>
<text x="80.65" y="347.8" font-size="3.8" text-anchor="middle" fill="#333" stroke="#333" stroke-width="0.08">***</text>
<path d="M53.8 342.3L53.72 342.96L53.64 343.61L53.56 344.27L53.49 344.93L53.43 345.58L53.38 346.24L53.34 346.89L53.31 347.55L53.28 348.21L53.26 348.86L53.23 349.52L53.2 350.18L53.16 350.83L53.12 351.49L53.06 352.14L52.97 352.8L52.87 353.46L52.74 354.11L52.61 354.77L52.46 355.43L52.32 356.08L52.17 356.74L52.02 357.39L51.88 358.05L51.75 358.71L51.61 359.36L51.47 360.02L51.32 360.68L51.16 361.33L50.99 361.99L50.8 362.65L50.6 363.3L50.37 363.96L50.12 364.61L49.83 365.27L49.5 365.93L49.13 366.58L48.69 367.24L48.14 367.9L47.49 368.55L46.79 369.21L46.07 369.86L45.36 370.52L44.64 371.18L43.89 371.83L43.11 372.49L42.31 373.15L41.5 373.8L40.66 374.46L39.8 375.12L38.92 375.77L38.02 376.43L37.1 377.08L36.16 377.74L35.17 378.4L34.15 379.05L33.15 379.71L32.19 380.37L31.31 381.02L30.45 381.68L29.62 382.33L28.83 382.99L28.12 383.65L27.5 384.3L26.89 384.96L26.4 385.62L26.34 386.27L26.69 386.93L27.29 387.58L28.01 388.24L28.7 388.9L29.4 389.55L30.19 390.21L31.02 390.87L31.84 391.52L32.58 392.18L33.2 392.84L33.76 393.49L34.28 394.15L34.79 394.8L35.32 395.46L35.89 396.12L36.5 396.77L37.11 397.43L37.75 398.09L38.41 398.74L39.1 399.4L39.83 400.05L40.61 400.71L41.41 401.37L42.2 402.02L42.96 402.68L43.67 403.34L44.36 403.99L45.02 404.65L45.67 405.31L46.3 405.96L46.9 406.62L47.48 407.27L48.04 407.93L48.58 408.59L49.1 409.24L49.6 409.9L50.1 410.56L50.61 411.21L51.1 411.87L51.54 412.52L51.9 413.18L52.18 413.84L52.42 414.49L52.63 415.15L52.82 415.81L52.99 416.46L53.15 417.12L53.31 417.77L53.45 418.43L53.58 419.09L53.7 419.74L53.8 420.4L53.8 420.4L53.9 419.74L54.02 419.09L54.15 418.43L54.29 417.77L54.45 417.12L54.61 416.46L54.78 415.81L54.97 415.15L55.18 414.49L55.42 413.84L55.7 413.18L56.06 412.52L56.5 411.87L56.99 411.21L57.5 410.56L58 409.9L58.5 409.24L59.02 408.59L59.56 407.93L60.12 407.27L60.7 406.62L61.3 405.96L61.93 405.31L62.58 404.65L63.24 403.99L63.93 403.34L64.64 402.68L65.4 402.02L66.19 401.37L66.99 400.71L67.77 400.05L68.5 399.4L69.19 398.74L69.85 398.09L70.49 397.43L71.1 396.77L71.71 396.12L72.28 395.46L72.81 394.8L73.32 394.15L73.84 393.49L74.4 392.84L75.02 392.18L75.76 391.52L76.58 390.87L77.41 390.21L78.2 389.55L78.9 388.9L79.59 388.24L80.31 387.58L80.91 386.93L81.26 386.27L81.2 385.62L80.71 384.96L80.1 384.3L79.48 383.65L78.77 382.99L77.98 382.33L77.15 381.68L76.29 381.02L75.41 380.37L74.45 379.71L73.45 379.05L72.43 378.4L71.44 377.74L70.5 377.08L69.58 376.43L68.68 375.77L67.8 375.12L66.94 374.46L66.1 373.8L65.29 373.15L64.49 372.49L63.71 371.83L62.96 371.18L62.24 370.52L61.53 369.86L60.81 369.21L60.11 368.55L59.46 367.9L58.91 367.24L58.47 366.58L58.1 365.93L57.77 365.27L57.48 364.61L57.23 363.96L57 363.3L56.8 362.65L56.61 361.99L56.44 361.33L56.28 360.68L56.13 360.02L55.99 359.36L55.85 358.71L55.72 358.05L55.58 357.39L55.43 356.74L55.28 356.08L55.14 355.43L54.99 354.77L54.86 354.11L54.73 353.46L54.63 352.8L54.54 352.14L54.48 351.49L54.44 350.83L54.4 350.18L54.37 349.52L54.34 348.86L54.32 348.21L54.29 347.55L54.26 346.89L54.22 346.24L54.17 345.58L54.11 344.93L54.04 344.27L53.96 343.61L53.88 342.96L53.8 342.3Z" fill="#1565f0" stroke="#222" stroke-width="0.45"/>
<line x1="53.8" y1="347" x2="53.8" y2="381.4" stroke="#111" stroke-width="0.45"/>
<line x1="53.8" y1="395" x2="53.8" y2="417" stroke="#111" stroke-width="0.45"/>
<rect x="47.9" y="381.4" width="11.1" height="13.6" fill="#fff" stroke="#333" stroke-width="0.5"/>
<line x1="47.9" y1="387" x2="59" y2="387" stroke="#555" stroke-width="0.8"/>
<path d="M107.5 347.6L107.42 348.15L107.32 348.71L107.2 349.26L107.06 349.81L106.91 350.36L106.75 350.92L106.57 351.47L106.39 352.02L106.16 352.58L105.9 353.13L105.62 353.68L105.33 354.24L105.05 354.79L104.79 355.34L104.53 355.89L104.27 356.45L104.01 357L103.75 357.55L103.47 358.11L103.17 358.66L102.86 359.21L102.53 359.76L102.19 360.32L101.83 360.87L101.44 361.42L101 361.98L100.52 362.53L99.97 363.08L99.36 363.64L98.69 364.19L97.98 364.74L97.23 365.29L96.43 365.85L95.49 366.4L94.44 366.95L93.34 367.51L92.25 368.06L91.22 368.61L90.3 369.16L89.46 369.72L88.64 370.27L87.86 370.82L87.12 371.38L86.44 371.93L85.82 372.48L85.25 373.04L84.67 373.59L84.12 374.14L83.62 374.69L83.21 375.25L82.91 375.8L82.73 376.35L82.58 376.91L82.45 377.46L82.35 378.01L82.27 378.56L82.21 379.12L82.2 379.67L82.25 380.22L82.38 380.78L82.57 381.33L82.8 381.88L83.06 382.44L83.34 382.99L83.67 383.54L84.12 384.09L84.66 384.65L85.26 385.2L85.91 385.75L86.56 386.31L87.21 386.86L87.91 387.41L88.67 387.96L89.45 388.52L90.23 389.07L90.99 389.62L91.69 390.18L92.37 390.73L93.02 391.28L93.66 391.84L94.28 392.39L94.89 392.94L95.49 393.49L96.07 394.05L96.65 394.6L97.22 395.15L97.78 395.71L98.31 396.26L98.84 396.81L99.34 397.36L99.83 397.92L100.3 398.47L100.76 399.02L101.21 399.58L101.64 400.13L102.06 400.68L102.47 401.24L102.88 401.79L103.27 402.34L103.65 402.89L104.01 403.45L104.34 404L104.66 404.55L104.96 405.11L105.26 405.66L105.53 406.21L105.78 406.76L106 407.32L106.19 407.87L106.37 408.42L106.54 408.98L106.71 409.53L106.87 410.08L107.01 410.64L107.14 411.19L107.26 411.74L107.36 412.29L107.44 412.85L107.5 413.4L107.5 413.4L107.56 412.85L107.64 412.29L107.74 411.74L107.86 411.19L107.99 410.64L108.13 410.08L108.29 409.53L108.46 408.98L108.63 408.42L108.81 407.87L109 407.32L109.22 406.76L109.47 406.21L109.74 405.66L110.04 405.11L110.34 404.55L110.66 404L110.99 403.45L111.35 402.89L111.73 402.34L112.12 401.79L112.53 401.24L112.94 400.68L113.36 400.13L113.79 399.58L114.24 399.02L114.7 398.47L115.17 397.92L115.66 397.36L116.16 396.81L116.69 396.26L117.22 395.71L117.78 395.15L118.35 394.6L118.93 394.05L119.51 393.49L120.11 392.94L120.72 392.39L121.34 391.84L121.98 391.28L122.63 390.73L123.31 390.18L124.01 389.62L124.77 389.07L125.55 388.52L126.33 387.96L127.09 387.41L127.79 386.86L128.44 386.31L129.09 385.75L129.74 385.2L130.34 384.65L130.88 384.09L131.33 383.54L131.66 382.99L131.94 382.44L132.2 381.88L132.43 381.33L132.62 380.78L132.75 380.22L132.8 379.67L132.79 379.12L132.73 378.56L132.65 378.01L132.55 377.46L132.42 376.91L132.27 376.35L132.09 375.8L131.79 375.25L131.38 374.69L130.88 374.14L130.33 373.59L129.75 373.04L129.18 372.48L128.56 371.93L127.88 371.38L127.14 370.82L126.36 370.27L125.54 369.72L124.7 369.16L123.78 368.61L122.75 368.06L121.66 367.51L120.56 366.95L119.51 366.4L118.57 365.85L117.77 365.29L117.02 364.74L116.31 364.19L115.64 363.64L115.03 363.08L114.48 362.53L114 361.98L113.56 361.42L113.17 360.87L112.81 360.32L112.47 359.76L112.14 359.21L111.83 358.66L111.53 358.11L111.25 357.55L110.99 357L110.73 356.45L110.47 355.89L110.21 355.34L109.95 354.79L109.67 354.24L109.38 353.68L109.1 353.13L108.84 352.58L108.61 352.02L108.43 351.47L108.25 350.92L108.09 350.36L107.94 349.81L107.8 349.26L107.68 348.71L107.58 348.15L107.5 347.6Z" fill="#f80808" stroke="#222" stroke-width="0.45"/>
<line x1="107.5" y1="352" x2="107.5" y2="372.6" stroke="#111" stroke-width="0.45"/>
<line x1="107.5" y1="386" x2="107.5" y2="408" stroke="#111" stroke-width="0.45"/>
<rect x="102.2" y="372.6" width="11" height="13.4" fill="#fff" stroke="#333" stroke-width="0.5"/>
<line x1="102.2" y1="378.8" x2="113.2" y2="378.8" stroke="#555" stroke-width="0.8"/>
<text x="54.5" y="331.3" font-size="4.2" text-anchor="start" fill="#222" stroke="#222" stroke-width="0.08">Risk</text>
<rect x="64.3" y="327.2" width="5.2" height="5.2" fill="#1565f0" stroke="none" stroke-width="0.6" rx="0.6"/>
<text x="71" y="331.2" font-size="3.9" text-anchor="start" fill="#333" stroke="#333" stroke-width="0.08">Low−risk</text>
<rect x="85.9" y="327.2" width="5.2" height="5.2" fill="#f80808" stroke="none" stroke-width="0.6" rx="0.6"/>
<text x="92.9" y="331.2" font-size="3.9" text-anchor="start" fill="#333" stroke="#333" stroke-width="0.08">High−risk</text>
<line x1="165.7" y1="337.7" x2="165.7" y2="424.9" stroke="#333333" stroke-width="0.6"/>
<line x1="164.5" y1="348" x2="165.7" y2="348" stroke="#333333" stroke-width="0.6"/>
<text x="163.7" y="349.44" font-size="4" text-anchor="end" fill="#1a1a1a" stroke="#1a1a1a" stroke-width="0.08">1.0</text>
<line x1="164.5" y1="365.5" x2="165.7" y2="365.5" stroke="#333333" stroke-width="0.6"/>
<text x="163.7" y="366.94" font-size="4" text-anchor="end" fill="#1a1a1a" stroke="#1a1a1a" stroke-width="0.08">0.9</text>
<line x1="164.5" y1="383" x2="165.7" y2="383" stroke="#333333" stroke-width="0.6"/>
<text x="163.7" y="384.44" font-size="4" text-anchor="end" fill="#1a1a1a" stroke="#1a1a1a" stroke-width="0.08">0.8</text>
<line x1="164.5" y1="400.4" x2="165.7" y2="400.4" stroke="#333333" stroke-width="0.6"/>
<text x="163.7" y="401.84" font-size="4" text-anchor="end" fill="#1a1a1a" stroke="#1a1a1a" stroke-width="0.08">0.7</text>
<line x1="164.5" y1="418.3" x2="165.7" y2="418.3" stroke="#333333" stroke-width="0.6"/>
<text x="163.7" y="419.74" font-size="4" text-anchor="end" fill="#1a1a1a" stroke="#1a1a1a" stroke-width="0.08">0.6</text>
<line x1="165.7" y1="424.9" x2="286.3" y2="424.9" stroke="#333333" stroke-width="0.6"/>
<line x1="198.1" y1="424.9" x2="198.1" y2="426.1" stroke="#333333" stroke-width="0.6"/>
<text x="198.1" y="430.6" font-size="4.4" text-anchor="middle" fill="#333" stroke="#333" stroke-width="0.08">Low−risk</text>
<line x1="253" y1="424.9" x2="253" y2="426.1" stroke="#333333" stroke-width="0.6"/>
<text x="253" y="430.6" font-size="4.4" text-anchor="middle" fill="#333" stroke="#333" stroke-width="0.08">High−risk</text>
<text x="156.3" y="381.3" font-size="4.2" text-anchor="middle" fill="#222" transform="rotate(-90 156.3 381.3)" stroke="#222" stroke-width="0.08">MSI Expr Sig</text>
<path d="M198.1 345.8V344.3H253V345.8" fill="none" stroke="#555" stroke-width="0.45"/>
<text x="225.55" y="343.3" font-size="3.8" text-anchor="middle" fill="#333" stroke="#333" stroke-width="0.08">***</text>
<path d="M198.1 344.5L195.45 345.02L192.86 345.55L190.36 346.07L187.96 346.59L185.46 347.11L182.4 347.64L178.35 348.16L174.32 348.68L171.4 349.2L170.7 349.73L172.74 350.25L176.33 350.77L179.97 351.29L182.66 351.82L185.22 352.34L187.5 352.86L189.17 353.39L190.29 353.91L191.21 354.43L191.96 354.95L192.58 355.48L193.09 356L193.52 356.52L193.9 357.04L194.25 357.57L194.59 358.09L194.94 358.61L195.3 359.14L195.64 359.66L195.97 360.18L196.27 360.7L196.52 361.23L196.72 361.75L196.87 362.27L197 362.79L197.13 363.32L197.23 363.84L197.33 364.36L197.41 364.88L197.46 365.41L197.5 365.93L197.52 366.45L197.54 366.98L197.55 367.5L197.57 368.02L197.59 368.54L197.6 369.07L197.61 369.59L197.63 370.11L197.64 370.63L197.65 371.16L197.66 371.68L197.67 372.2L197.68 372.73L197.69 373.25L197.7 373.77L197.7 374.29L197.71 374.82L197.72 375.34L197.72 375.86L197.73 376.38L197.73 376.91L197.73 377.43L197.74 377.95L197.74 378.47L197.74 379L197.75 379.52L197.75 380.04L197.75 380.57L197.75 381.09L197.76 381.61L197.76 382.13L197.76 382.66L197.76 383.18L197.76 383.7L197.76 384.22L197.77 384.75L197.77 385.27L197.77 385.79L197.77 386.32L197.77 386.84L197.77 387.36L197.77 387.88L197.77 388.41L197.77 388.93L197.77 389.45L197.77 389.97L197.77 390.5L197.77 391.02L197.77 391.54L197.78 392.06L197.78 392.59L197.78 393.11L197.78 393.63L197.78 394.16L197.78 394.68L197.78 395.2L197.78 395.72L197.78 396.25L197.79 396.77L197.79 397.29L197.79 397.81L197.79 398.34L197.79 398.86L197.8 399.38L197.8 399.91L197.8 400.43L197.81 400.95L197.83 401.47L197.85 402L197.87 402.52L197.89 403.04L197.92 403.56L197.95 404.09L197.98 404.61L198.01 405.13L198.04 405.65L198.07 406.18L198.1 406.7L198.1 406.7L198.13 406.18L198.16 405.65L198.19 405.13L198.22 404.61L198.25 404.09L198.28 403.56L198.31 403.04L198.33 402.52L198.35 402L198.37 401.47L198.39 400.95L198.4 400.43L198.4 399.91L198.4 399.38L198.41 398.86L198.41 398.34L198.41 397.81L198.41 397.29L198.41 396.77L198.42 396.25L198.42 395.72L198.42 395.2L198.42 394.68L198.42 394.16L198.42 393.63L198.42 393.11L198.42 392.59L198.42 392.06L198.43 391.54L198.43 391.02L198.43 390.5L198.43 389.97L198.43 389.45L198.43 388.93L198.43 388.41L198.43 387.88L198.43 387.36L198.43 386.84L198.43 386.32L198.43 385.79L198.43 385.27L198.43 384.75L198.44 384.22L198.44 383.7L198.44 383.18L198.44 382.66L198.44 382.13L198.44 381.61L198.45 381.09L198.45 380.57L198.45 380.04L198.45 379.52L198.46 379L198.46 378.47L198.46 377.95L198.47 377.43L198.47 376.91L198.47 376.38L198.48 375.86L198.48 375.34L198.49 374.82L198.5 374.29L198.5 373.77L198.51 373.25L198.52 372.73L198.53 372.2L198.54 371.68L198.55 371.16L198.56 370.63L198.57 370.11L198.59 369.59L198.6 369.07L198.61 368.54L198.63 368.02L198.65 367.5L198.66 366.98L198.68 366.45L198.7 365.93L198.74 365.41L198.79 364.88L198.87 364.36L198.97 363.84L199.07 363.32L199.2 362.79L199.33 362.27L199.48 361.75L199.68 361.23L199.93 360.7L200.23 360.18L200.56 359.66L200.9 359.14L201.26 358.61L201.61 358.09L201.95 357.57L202.3 357.04L202.68 356.52L203.11 356L203.62 355.48L204.24 354.95L204.99 354.43L205.91 353.91L207.03 353.39L208.7 352.86L210.98 352.34L213.54 351.82L216.23 351.29L219.87 350.77L223.46 350.25L225.5 349.73L224.8 349.2L221.88 348.68L217.85 348.16L213.8 347.64L210.74 347.11L208.24 346.59L205.84 346.07L203.34 345.55L200.75 345.02L198.1 344.5Z" fill="#1565f0" stroke="#222" stroke-width="0.45"/>
<line x1="198.1" y1="345" x2="198.1" y2="349.6" stroke="#111" stroke-width="0.45"/>
<line x1="198.1" y1="353.9" x2="198.1" y2="362" stroke="#111" stroke-width="0.45"/>
<ellipse cx="198.1" cy="362.5" rx="0.88" ry="1.1" fill="#222"/>
<ellipse cx="198.1" cy="364.5" rx="0.8" ry="1" fill="#222"/>
<ellipse cx="198.1" cy="371.5" rx="0.96" ry="1.2" fill="#222"/>
<ellipse cx="198.1" cy="376.5" rx="0.72" ry="0.9" fill="#222"/>
<ellipse cx="198.1" cy="388" rx="0.64" ry="0.8" fill="#222"/>
<ellipse cx="198.1" cy="393" rx="0.64" ry="0.8" fill="#222"/>
<ellipse cx="198.1" cy="399" rx="0.64" ry="0.8" fill="#222"/>
<ellipse cx="198.1" cy="404" rx="0.64" ry="0.8" fill="#222"/>
<rect x="193" y="349.6" width="10.5" height="4.3" fill="#fff" stroke="#333" stroke-width="0.5"/>
<line x1="193" y1="351.6" x2="203.5" y2="351.6" stroke="#555" stroke-width="0.8"/>
<path d="M253 341.9L252.88 342.57L252.56 343.24L252.07 343.9L251.45 344.57L250.64 345.24L248.85 345.91L246.49 346.58L244.35 347.24L242.49 347.91L240.51 348.58L238.76 349.25L237.59 349.92L237.33 350.58L237.78 351.25L238.66 351.92L239.76 352.59L240.88 353.26L242.02 353.93L243.37 354.59L244.63 355.26L245.58 355.93L246.39 356.6L247.1 357.27L247.72 357.93L248.28 358.6L248.77 359.27L249.17 359.94L249.48 360.61L249.74 361.27L249.97 361.94L250.17 362.61L250.37 363.28L250.55 363.95L250.72 364.61L250.87 365.28L250.99 365.95L251.09 366.62L251.18 367.29L251.25 367.95L251.32 368.62L251.4 369.29L251.48 369.96L251.56 370.63L251.64 371.29L251.73 371.96L251.81 372.63L251.89 373.3L251.96 373.97L252.04 374.64L252.12 375.3L252.19 375.97L252.27 376.64L252.33 377.31L252.39 377.98L252.42 378.64L252.46 379.31L252.49 379.98L252.53 380.65L252.56 381.32L252.58 381.98L252.6 382.65L252.62 383.32L252.64 383.99L252.65 384.66L252.65 385.32L252.66 385.99L252.66 386.66L252.66 387.33L252.67 388L252.67 388.66L252.67 389.33L252.67 390L252.67 390.67L252.68 391.34L252.68 392.01L252.68 392.67L252.68 393.34L252.68 394.01L252.68 394.68L252.68 395.35L252.69 396.01L252.69 396.68L252.69 397.35L252.69 398.02L252.69 398.69L252.7 399.35L252.7 400.02L252.7 400.69L252.71 401.36L252.71 402.03L252.72 402.69L252.72 403.36L252.73 404.03L252.74 404.7L252.74 405.37L252.75 406.03L252.76 406.7L252.76 407.37L252.77 408.04L252.78 408.71L252.79 409.37L252.8 410.04L252.81 410.71L252.82 411.38L252.83 412.05L252.84 412.72L252.85 413.38L252.86 414.05L252.87 414.72L252.89 415.39L252.9 416.06L252.91 416.72L252.92 417.39L252.93 418.06L252.95 418.73L252.96 419.4L252.97 420.06L252.99 420.73L253 421.4L253 421.4L253.01 420.73L253.03 420.06L253.04 419.4L253.05 418.73L253.07 418.06L253.08 417.39L253.09 416.72L253.1 416.06L253.11 415.39L253.13 414.72L253.14 414.05L253.15 413.38L253.16 412.72L253.17 412.05L253.18 411.38L253.19 410.71L253.2 410.04L253.21 409.37L253.22 408.71L253.23 408.04L253.24 407.37L253.24 406.7L253.25 406.03L253.26 405.37L253.26 404.7L253.27 404.03L253.28 403.36L253.28 402.69L253.29 402.03L253.29 401.36L253.3 400.69L253.3 400.02L253.3 399.35L253.31 398.69L253.31 398.02L253.31 397.35L253.31 396.68L253.31 396.01L253.32 395.35L253.32 394.68L253.32 394.01L253.32 393.34L253.32 392.67L253.32 392.01L253.32 391.34L253.33 390.67L253.33 390L253.33 389.33L253.33 388.66L253.33 388L253.34 387.33L253.34 386.66L253.34 385.99L253.35 385.32L253.35 384.66L253.36 383.99L253.38 383.32L253.4 382.65L253.42 381.98L253.44 381.32L253.47 380.65L253.51 379.98L253.54 379.31L253.58 378.64L253.61 377.98L253.67 377.31L253.73 376.64L253.81 375.97L253.88 375.3L253.96 374.64L254.04 373.97L254.11 373.3L254.19 372.63L254.27 371.96L254.36 371.29L254.44 370.63L254.52 369.96L254.6 369.29L254.68 368.62L254.75 367.95L254.82 367.29L254.91 366.62L255.01 365.95L255.13 365.28L255.28 364.61L255.45 363.95L255.63 363.28L255.83 362.61L256.03 361.94L256.26 361.27L256.52 360.61L256.83 359.94L257.23 359.27L257.72 358.6L258.28 357.93L258.9 357.27L259.61 356.6L260.42 355.93L261.37 355.26L262.63 354.59L263.98 353.93L265.12 353.26L266.24 352.59L267.34 351.92L268.22 351.25L268.67 350.58L268.41 349.92L267.24 349.25L265.49 348.58L263.51 347.91L261.65 347.24L259.51 346.58L257.15 345.91L255.36 345.24L254.55 344.57L253.93 343.9L253.44 343.24L253.12 342.57L253 341.9Z" fill="#f80808" stroke="#222" stroke-width="0.45"/>
<line x1="253" y1="343" x2="253" y2="349.6" stroke="#111" stroke-width="0.45"/>
<line x1="253" y1="358.4" x2="253" y2="380" stroke="#111" stroke-width="0.45"/>
<ellipse cx="253" cy="379" rx="0.72" ry="0.9" fill="#222"/>
<ellipse cx="253" cy="382" rx="0.64" ry="0.8" fill="#222"/>
<ellipse cx="253" cy="388" rx="0.64" ry="0.8" fill="#222"/>
<ellipse cx="253" cy="398" rx="0.64" ry="0.8" fill="#222"/>
<ellipse cx="253" cy="413" rx="0.72" ry="0.9" fill="#222"/>
<ellipse cx="253" cy="417" rx="0.64" ry="0.8" fill="#222"/>
<rect x="247.9" y="349.6" width="10.8" height="8.8" fill="#fff" stroke="#333" stroke-width="0.5"/>
<line x1="247.9" y1="353.4" x2="258.7" y2="353.4" stroke="#555" stroke-width="0.8"/>
<text x="199.6" y="331.3" font-size="4.2" text-anchor="start" fill="#222" stroke="#222" stroke-width="0.08">Risk</text>
<rect x="209.4" y="327.2" width="5.2" height="5.2" fill="#1565f0" stroke="none" stroke-width="0.6" rx="0.6"/>
<text x="216.4" y="331.2" font-size="3.9" text-anchor="start" fill="#333" stroke="#333" stroke-width="0.08">Low−risk</text>
<rect x="231" y="327.2" width="5.2" height="5.2" fill="#f80808" stroke="none" stroke-width="0.6" rx="0.6"/>
<text x="238.2" y="331.2" font-size="3.9" text-anchor="start" fill="#333" stroke="#333" stroke-width="0.08">High−risk</text>
<line x1="310.8" y1="337.1" x2="310.8" y2="424.9" stroke="#333333" stroke-width="0.6"/>
<line x1="309.6" y1="350.5" x2="310.8" y2="350.5" stroke="#333333" stroke-width="0.6"/>
<text x="308.8" y="351.94" font-size="4" text-anchor="end" fill="#1a1a1a" stroke="#1a1a1a" stroke-width="0.08">2</text>
<line x1="309.6" y1="368.6" x2="310.8" y2="368.6" stroke="#333333" stroke-width="0.6"/>
<text x="308.8" y="370.04" font-size="4" text-anchor="end" fill="#1a1a1a" stroke="#1a1a1a" stroke-width="0.08">1</text>
<line x1="309.6" y1="386.6" x2="310.8" y2="386.6" stroke="#333333" stroke-width="0.6"/>
<text x="308.8" y="388.04" font-size="4" text-anchor="end" fill="#1a1a1a" stroke="#1a1a1a" stroke-width="0.08">0</text>
<line x1="309.6" y1="404.7" x2="310.8" y2="404.7" stroke="#333333" stroke-width="0.6"/>
<text x="308.8" y="406.14" font-size="4" text-anchor="end" fill="#1a1a1a" stroke="#1a1a1a" stroke-width="0.08">−1</text>
<line x1="309.6" y1="422.8" x2="310.8" y2="422.8" stroke="#333333" stroke-width="0.6"/>
<text x="308.8" y="424.24" font-size="4" text-anchor="end" fill="#1a1a1a" stroke="#1a1a1a" stroke-width="0.08">−2</text>
<line x1="310.8" y1="424.9" x2="431" y2="424.9" stroke="#333333" stroke-width="0.6"/>
<line x1="344.3" y1="424.9" x2="344.3" y2="426.1" stroke="#333333" stroke-width="0.6"/>
<text x="344.3" y="430.6" font-size="4.4" text-anchor="middle" fill="#333" stroke="#333" stroke-width="0.08">Low−risk</text>
<line x1="399.8" y1="424.9" x2="399.8" y2="426.1" stroke="#333333" stroke-width="0.6"/>
<text x="399.8" y="430.6" font-size="4.4" text-anchor="middle" fill="#333" stroke="#333" stroke-width="0.08">High−risk</text>
<text x="303.1" y="381" font-size="4.2" text-anchor="middle" fill="#222" transform="rotate(-90 303.1 381)" stroke="#222" stroke-width="0.08">TIDE</text>
<path d="M344.3 342.1V340.6H399.8V342.1" fill="none" stroke="#555" stroke-width="0.45"/>
<text x="372.05" y="339.6" font-size="3.8" text-anchor="middle" fill="#333" stroke="#333" stroke-width="0.08">***</text>
<path d="M344.3 345.7L343.8 346.32L343.51 346.95L343.46 347.57L343.43 348.19L343.41 348.82L343.4 349.44L343.4 350.06L343.42 350.69L343.46 351.31L343.52 351.94L343.59 352.56L343.66 353.18L343.76 353.81L343.88 354.43L343.98 355.05L344.04 355.68L344.05 356.3L344.05 356.92L344.05 357.55L344.05 358.17L344.05 358.79L344.05 359.42L344.05 360.04L344.05 360.66L344.05 361.29L344.05 361.91L344.05 362.54L344.05 363.16L344.05 363.78L344.05 364.41L344.05 365.03L344.05 365.65L344.05 366.28L344.05 366.9L344.05 367.52L344.05 368.15L344.05 368.77L344.05 369.39L344.05 370.02L344.05 370.64L344.05 371.26L344.05 371.89L344.05 372.51L344.05 373.14L344.05 373.76L344.05 374.38L344.05 375.01L344.05 375.63L344.05 376.25L344.05 376.88L344.05 377.5L344.05 378.12L344.05 378.75L344.05 379.37L344.05 379.99L344.05 380.62L344.05 381.24L344.05 381.86L344.04 382.49L344.04 383.11L344.03 383.74L344.02 384.36L344.01 384.98L344 385.61L343.99 386.23L343.98 386.85L343.96 387.48L343.95 388.1L343.93 388.72L343.91 389.35L343.89 389.97L343.86 390.59L343.84 391.22L343.81 391.84L343.74 392.46L343.57 393.09L343.34 393.71L343.08 394.34L342.85 394.96L342.67 395.58L342.52 396.21L342.38 396.83L342.2 397.45L341.96 398.08L341.53 398.7L340.79 399.32L339.8 399.95L338.67 400.57L337.5 401.19L336.26 401.82L334.81 402.44L333.22 403.06L331.55 403.69L329.84 404.31L328.06 404.94L326.13 405.56L324.14 406.18L322.22 406.81L320.48 407.43L318.69 408.05L317.17 408.68L317.07 409.3L318.34 409.92L320.37 410.55L322.63 411.17L324.81 411.79L327.42 412.42L330.12 413.04L332.49 413.66L334.46 414.29L336.28 414.91L337.85 415.54L339.08 416.16L339.99 416.78L340.76 417.41L341.53 418.03L342.41 418.65L343.34 419.28L344.3 419.9L344.3 419.9L345.26 419.28L346.19 418.65L347.07 418.03L347.84 417.41L348.61 416.78L349.52 416.16L350.75 415.54L352.32 414.91L354.14 414.29L356.11 413.66L358.48 413.04L361.18 412.42L363.79 411.79L365.97 411.17L368.23 410.55L370.26 409.92L371.53 409.3L371.43 408.68L369.91 408.05L368.12 407.43L366.38 406.81L364.46 406.18L362.47 405.56L360.54 404.94L358.76 404.31L357.05 403.69L355.38 403.06L353.79 402.44L352.34 401.82L351.1 401.19L349.93 400.57L348.8 399.95L347.81 399.32L347.07 398.7L346.64 398.08L346.4 397.45L346.22 396.83L346.08 396.21L345.93 395.58L345.75 394.96L345.52 394.34L345.26 393.71L345.03 393.09L344.86 392.46L344.79 391.84L344.76 391.22L344.74 390.59L344.71 389.97L344.69 389.35L344.67 388.72L344.65 388.1L344.64 387.48L344.62 386.85L344.61 386.23L344.6 385.61L344.59 384.98L344.58 384.36L344.57 383.74L344.56 383.11L344.56 382.49L344.55 381.86L344.55 381.24L344.55 380.62L344.55 379.99L344.55 379.37L344.55 378.75L344.55 378.12L344.55 377.5L344.55 376.88L344.55 376.25L344.55 375.63L344.55 375.01L344.55 374.38L344.55 373.76L344.55 373.14L344.55 372.51L344.55 371.89L344.55 371.26L344.55 370.64L344.55 370.02L344.55 369.39L344.55 368.77L344.55 368.15L344.55 367.52L344.55 366.9L344.55 366.28L344.55 365.65L344.55 365.03L344.55 364.41L344.55 363.78L344.55 363.16L344.55 362.54L344.55 361.91L344.55 361.29L344.55 360.66L344.55 360.04L344.55 359.42L344.55 358.79L344.55 358.17L344.55 357.55L344.55 356.92L344.55 356.3L344.56 355.68L344.62 355.05L344.72 354.43L344.84 353.81L344.94 353.18L345.01 352.56L345.08 351.94L345.14 351.31L345.18 350.69L345.2 350.06L345.2 349.44L345.19 348.82L345.17 348.19L345.14 347.57L345.09 346.95L344.8 346.32L344.3 345.7Z" fill="#1565f0" stroke="#222" stroke-width="0.45"/>
<line x1="344.3" y1="346.5" x2="344.3" y2="406.7" stroke="#111" stroke-width="0.45"/>
<line x1="344.3" y1="411.8" x2="344.3" y2="418" stroke="#111" stroke-width="0.45"/>
<rect x="338.8" y="406.7" width="10.8" height="5.1" fill="#fff" stroke="#333" stroke-width="0.5"/>
<line x1="338.8" y1="409.4" x2="349.6" y2="409.4" stroke="#555" stroke-width="0.8"/>
<path d="M399.8 342.6L399.31 343.24L399.01 343.87L399 344.51L399 345.14L399 345.78L399 346.42L399.06 347.05L399.23 347.69L399.41 348.33L399.5 348.96L399.5 349.6L399.51 350.23L399.51 350.87L399.51 351.51L399.52 352.14L399.52 352.78L399.52 353.41L399.53 354.05L399.53 354.69L399.53 355.32L399.53 355.96L399.53 356.59L399.54 357.23L399.54 357.87L399.54 358.5L399.54 359.14L399.54 359.78L399.54 360.41L399.54 361.05L399.55 361.68L399.55 362.32L399.55 362.96L399.55 363.59L399.55 364.23L399.55 364.86L399.55 365.5L399.55 366.14L399.55 366.77L399.55 367.41L399.55 368.05L399.55 368.68L399.55 369.32L399.55 369.95L399.55 370.59L399.55 371.23L399.55 371.86L399.55 372.5L399.55 373.13L399.54 373.77L399.54 374.41L399.54 375.04L399.54 375.68L399.53 376.32L399.53 376.95L399.53 377.59L399.52 378.22L399.52 378.86L399.51 379.5L399.51 380.13L399.5 380.77L399.49 381.4L399.49 382.04L399.48 382.68L399.47 383.31L399.46 383.95L399.45 384.58L399.44 385.22L399.43 385.86L399.42 386.49L399.41 387.13L399.4 387.77L399.39 388.4L399.37 389.04L399.36 389.67L399.34 390.31L399.33 390.95L399.31 391.58L399.29 392.22L399.25 392.85L399.17 393.49L399.06 394.13L398.91 394.76L398.74 395.4L398.54 396.04L398.31 396.67L397.94 397.31L397.32 397.94L396.51 398.58L395.54 399.22L394.14 399.85L392.35 400.49L390.36 401.12L388.14 401.76L385.44 402.4L382.67 403.03L380.26 403.67L377.85 404.31L375.5 404.94L373.87 405.58L373.54 406.21L374.07 406.85L375.04 407.49L376.25 408.12L377.84 408.76L380.32 409.39L383.04 410.03L385.3 410.67L387.12 411.3L388.81 411.94L390.36 412.57L391.79 413.21L393.09 413.85L394.26 414.48L395.33 415.12L396.33 415.76L397.28 416.39L398.18 417.03L399.02 417.66L399.8 418.3L399.8 418.3L400.58 417.66L401.42 417.03L402.32 416.39L403.27 415.76L404.27 415.12L405.34 414.48L406.51 413.85L407.81 413.21L409.24 412.57L410.79 411.94L412.48 411.3L414.3 410.67L416.56 410.03L419.28 409.39L421.76 408.76L423.35 408.12L424.56 407.49L425.53 406.85L426.06 406.21L425.73 405.58L424.1 404.94L421.75 404.31L419.34 403.67L416.93 403.03L414.16 402.4L411.46 401.76L409.24 401.12L407.25 400.49L405.46 399.85L404.06 399.22L403.09 398.58L402.28 397.94L401.66 397.31L401.29 396.67L401.06 396.04L400.86 395.4L400.69 394.76L400.54 394.13L400.43 393.49L400.35 392.85L400.31 392.22L400.29 391.58L400.27 390.95L400.26 390.31L400.24 389.67L400.23 389.04L400.21 388.4L400.2 387.77L400.19 387.13L400.18 386.49L400.17 385.86L400.16 385.22L400.15 384.58L400.14 383.95L400.13 383.31L400.12 382.68L400.11 382.04L400.11 381.4L400.1 380.77L400.09 380.13L400.09 379.5L400.08 378.86L400.08 378.22L400.07 377.59L400.07 376.95L400.07 376.32L400.06 375.68L400.06 375.04L400.06 374.41L400.06 373.77L400.05 373.13L400.05 372.5L400.05 371.86L400.05 371.23L400.05 370.59L400.05 369.95L400.05 369.32L400.05 368.68L400.05 368.05L400.05 367.41L400.05 366.77L400.05 366.14L400.05 365.5L400.05 364.86L400.05 364.23L400.05 363.59L400.05 362.96L400.05 362.32L400.05 361.68L400.06 361.05L400.06 360.41L400.06 359.78L400.06 359.14L400.06 358.5L400.06 357.87L400.06 357.23L400.07 356.59L400.07 355.96L400.07 355.32L400.07 354.69L400.07 354.05L400.08 353.41L400.08 352.78L400.08 352.14L400.09 351.51L400.09 350.87L400.09 350.23L400.1 349.6L400.1 348.96L400.19 348.33L400.37 347.69L400.54 347.05L400.6 346.42L400.6 345.78L400.6 345.14L400.6 344.51L400.59 343.87L400.29 343.24L399.8 342.6Z" fill="#f80808" stroke="#222" stroke-width="0.45"/>
<line x1="399.8" y1="343" x2="399.8" y2="403.6" stroke="#111" stroke-width="0.45"/>
<line x1="399.8" y1="408.7" x2="399.8" y2="416" stroke="#111" stroke-width="0.45"/>
<rect x="394.4" y="403.6" width="10.8" height="5.1" fill="#fff" stroke="#333" stroke-width="0.5"/>
<line x1="394.4" y1="406.3" x2="405.2" y2="406.3" stroke="#555" stroke-width="0.8"/>
<text x="345.7" y="330.1" font-size="4.2" text-anchor="start" fill="#222" stroke="#222" stroke-width="0.08">Risk</text>
<rect x="355.6" y="326" width="5.2" height="5.2" fill="#1565f0" stroke="none" stroke-width="0.6" rx="0.6"/>
<text x="362.8" y="330" font-size="3.9" text-anchor="start" fill="#333" stroke="#333" stroke-width="0.08">Low−risk</text>
<rect x="377.6" y="326" width="5.2" height="5.2" fill="#f80808" stroke="none" stroke-width="0.6" rx="0.6"/>
<text x="384.8" y="330" font-size="3.9" text-anchor="start" fill="#333" stroke="#333" stroke-width="0.08">High−risk</text>
<line x1="458.4" y1="337.1" x2="458.4" y2="424.4" stroke="#333333" stroke-width="0.6"/>
<line x1="457.2" y1="348.8" x2="458.4" y2="348.8" stroke="#333333" stroke-width="0.6"/>
<text x="456.4" y="350.24" font-size="4" text-anchor="end" fill="#1a1a1a" stroke="#1a1a1a" stroke-width="0.08">3.0</text>
<line x1="457.2" y1="364.2" x2="458.4" y2="364.2" stroke="#333333" stroke-width="0.6"/>
<text x="456.4" y="365.64" font-size="4" text-anchor="end" fill="#1a1a1a" stroke="#1a1a1a" stroke-width="0.08">2.5</text>
<line x1="457.2" y1="379.2" x2="458.4" y2="379.2" stroke="#333333" stroke-width="0.6"/>
<text x="456.4" y="380.64" font-size="4" text-anchor="end" fill="#1a1a1a" stroke="#1a1a1a" stroke-width="0.08">2.0</text>
<line x1="457.2" y1="394.7" x2="458.4" y2="394.7" stroke="#333333" stroke-width="0.6"/>
<text x="456.4" y="396.14" font-size="4" text-anchor="end" fill="#1a1a1a" stroke="#1a1a1a" stroke-width="0.08">1.5</text>
<line x1="457.2" y1="409.6" x2="458.4" y2="409.6" stroke="#333333" stroke-width="0.6"/>
<text x="456.4" y="411.04" font-size="4" text-anchor="end" fill="#1a1a1a" stroke="#1a1a1a" stroke-width="0.08">1.0</text>
<line x1="458.4" y1="424.4" x2="579.6" y2="424.4" stroke="#333333" stroke-width="0.6"/>
<line x1="491.6" y1="424.4" x2="491.6" y2="425.6" stroke="#333333" stroke-width="0.6"/>
<text x="491.6" y="430.1" font-size="4.4" text-anchor="middle" fill="#333" stroke="#333" stroke-width="0.08">Low−risk</text>
<line x1="546.7" y1="424.4" x2="546.7" y2="425.6" stroke="#333333" stroke-width="0.6"/>
<text x="546.7" y="430.1" font-size="4.4" text-anchor="middle" fill="#333" stroke="#333" stroke-width="0.08">High−risk</text>
<text x="450" y="380.75" font-size="4.2" text-anchor="middle" fill="#222" transform="rotate(-90 450 380.75)" stroke="#222" stroke-width="0.08">Exclusion</text>
<path d="M491.6 349.9V348.4H546.7V349.9" fill="none" stroke="#555" stroke-width="0.45"/>
<text x="519.15" y="347.4" font-size="3.8" text-anchor="middle" fill="#333" stroke="#333" stroke-width="0.08">ns</text>
<path d="M491.6 352.7L491.57 353.24L491.48 353.78L491.35 354.32L491.18 354.85L490.97 355.39L490.73 355.93L490.29 356.47L489.71 357.01L489.14 357.55L488.55 358.09L487.92 358.63L487.27 359.16L486.6 359.7L485.92 360.24L485.23 360.78L484.55 361.32L483.86 361.86L483.16 362.4L482.45 362.93L481.73 363.47L481.01 364.01L480.28 364.55L479.55 365.09L478.83 365.63L478.11 366.17L477.37 366.71L476.63 367.24L475.88 367.78L475.14 368.32L474.41 368.86L473.69 369.4L472.98 369.94L472.31 370.48L471.63 371.01L470.96 371.55L470.28 372.09L469.63 372.63L468.99 373.17L468.38 373.71L467.81 374.25L467.28 374.78L466.8 375.32L466.29 375.86L465.78 376.4L465.29 376.94L464.86 377.48L464.53 378.02L464.34 378.56L464.3 379.09L464.35 379.63L464.45 380.17L464.59 380.71L464.76 381.25L464.97 381.79L465.19 382.33L465.43 382.86L465.77 383.4L466.24 383.94L466.82 384.48L467.49 385.02L468.22 385.56L468.98 386.1L469.74 386.64L470.5 387.17L471.23 387.71L472.01 388.25L472.84 388.79L473.71 389.33L474.58 389.87L475.45 390.41L476.29 390.94L477.09 391.48L477.83 392.02L478.53 392.56L479.24 393.1L479.93 393.64L480.59 394.18L481.23 394.72L481.83 395.25L482.39 395.79L482.89 396.33L483.33 396.87L483.73 397.41L484.09 397.95L484.42 398.49L484.74 399.02L485.04 399.56L485.33 400.1L485.63 400.64L485.93 401.18L486.25 401.72L486.57 402.26L486.89 402.79L487.21 403.33L487.53 403.87L487.83 404.41L488.11 404.95L488.38 405.49L488.61 406.03L488.83 406.57L489.03 407.1L489.22 407.64L489.4 408.18L489.58 408.72L489.74 409.26L489.89 409.8L490.03 410.34L490.17 410.87L490.28 411.41L490.39 411.95L490.49 412.49L490.59 413.03L490.7 413.57L490.83 414.11L490.96 414.65L491.11 415.18L491.27 415.72L491.43 416.26L491.6 416.8L491.6 416.8L491.77 416.26L491.93 415.72L492.09 415.18L492.24 414.65L492.37 414.11L492.5 413.57L492.61 413.03L492.71 412.49L492.81 411.95L492.92 411.41L493.03 410.87L493.17 410.34L493.31 409.8L493.46 409.26L493.62 408.72L493.8 408.18L493.98 407.64L494.17 407.1L494.37 406.57L494.59 406.03L494.82 405.49L495.09 404.95L495.37 404.41L495.67 403.87L495.99 403.33L496.31 402.79L496.63 402.26L496.95 401.72L497.27 401.18L497.57 400.64L497.87 400.1L498.16 399.56L498.46 399.02L498.78 398.49L499.11 397.95L499.47 397.41L499.87 396.87L500.31 396.33L500.81 395.79L501.37 395.25L501.97 394.72L502.61 394.18L503.27 393.64L503.96 393.1L504.67 392.56L505.37 392.02L506.11 391.48L506.91 390.94L507.75 390.41L508.62 389.87L509.49 389.33L510.36 388.79L511.19 388.25L511.97 387.71L512.7 387.17L513.46 386.64L514.22 386.1L514.98 385.56L515.71 385.02L516.38 384.48L516.96 383.94L517.43 383.4L517.77 382.86L518.01 382.33L518.23 381.79L518.44 381.25L518.61 380.71L518.75 380.17L518.85 379.63L518.9 379.09L518.86 378.56L518.67 378.02L518.34 377.48L517.91 376.94L517.42 376.4L516.91 375.86L516.4 375.32L515.92 374.78L515.39 374.25L514.82 373.71L514.21 373.17L513.57 372.63L512.92 372.09L512.24 371.55L511.57 371.01L510.89 370.48L510.22 369.94L509.51 369.4L508.79 368.86L508.06 368.32L507.32 367.78L506.57 367.24L505.83 366.71L505.09 366.17L504.37 365.63L503.65 365.09L502.92 364.55L502.19 364.01L501.47 363.47L500.75 362.93L500.04 362.4L499.34 361.86L498.65 361.32L497.97 360.78L497.28 360.24L496.6 359.7L495.93 359.16L495.28 358.63L494.65 358.09L494.06 357.55L493.49 357.01L492.91 356.47L492.47 355.93L492.23 355.39L492.02 354.85L491.85 354.32L491.72 353.78L491.63 353.24L491.6 352.7Z" fill="#1565f0" stroke="#222" stroke-width="0.45"/>
<line x1="491.6" y1="356" x2="491.6" y2="373.5" stroke="#111" stroke-width="0.45"/>
<line x1="491.6" y1="386.2" x2="491.6" y2="408" stroke="#111" stroke-width="0.45"/>
<ellipse cx="491.6" cy="406.5" rx="0.72" ry="0.9" fill="#222"/>
<rect x="486" y="373.5" width="11" height="12.7" fill="#fff" stroke="#333" stroke-width="0.5"/>
<line x1="486" y1="380" x2="497" y2="380" stroke="#555" stroke-width="0.8"/>
<path d="M546.7 342.6L546.59 343.26L546.49 343.92L546.4 344.59L546.32 345.25L546.27 345.91L546.23 346.57L546.2 347.24L546.17 347.9L546.12 348.56L546.03 349.22L545.82 349.88L545.52 350.55L545.15 351.21L544.75 351.87L544.33 352.53L543.92 353.19L543.54 353.86L543.15 354.52L542.74 355.18L542.32 355.84L541.88 356.51L541.41 357.17L540.91 357.83L540.38 358.49L539.8 359.15L539.18 359.82L538.52 360.48L537.83 361.14L537.11 361.8L536.37 362.47L535.59 363.13L534.74 363.79L533.83 364.45L532.89 365.11L531.95 365.78L531.03 366.44L530.15 367.1L529.33 367.76L528.51 368.43L527.71 369.09L526.93 369.75L526.18 370.41L525.45 371.07L524.76 371.74L524.09 372.4L523.37 373.06L522.61 373.72L521.87 374.38L521.19 375.05L520.61 375.71L520.18 376.37L519.94 377.03L519.92 377.7L520.12 378.36L520.49 379.02L520.96 379.68L521.5 380.34L522.05 381.01L522.6 381.67L523.26 382.33L524 382.99L524.81 383.66L525.64 384.32L526.48 384.98L527.3 385.64L528.07 386.3L528.86 386.97L529.65 387.63L530.45 388.29L531.23 388.95L532.01 389.62L532.75 390.28L533.48 390.94L534.2 391.6L534.92 392.26L535.61 392.93L536.29 393.59L536.93 394.25L537.54 394.91L538.1 395.57L538.64 396.24L539.16 396.9L539.66 397.56L540.14 398.22L540.6 398.89L541.04 399.55L541.46 400.21L541.87 400.87L542.27 401.53L542.65 402.2L543.02 402.86L543.36 403.52L543.7 404.18L544.02 404.85L544.36 405.51L544.7 406.17L545.02 406.83L545.3 407.49L545.53 408.16L545.67 408.82L545.75 409.48L545.81 410.14L545.86 410.81L545.9 411.47L545.94 412.13L545.97 412.79L546 413.45L546.04 414.12L546.08 414.78L546.13 415.44L546.19 416.1L546.25 416.76L546.3 417.43L546.37 418.09L546.43 418.75L546.49 419.41L546.56 420.08L546.63 420.74L546.7 421.4L546.7 421.4L546.77 420.74L546.84 420.08L546.91 419.41L546.97 418.75L547.03 418.09L547.1 417.43L547.15 416.76L547.21 416.1L547.27 415.44L547.32 414.78L547.36 414.12L547.4 413.45L547.43 412.79L547.46 412.13L547.5 411.47L547.54 410.81L547.59 410.14L547.65 409.48L547.73 408.82L547.87 408.16L548.1 407.49L548.38 406.83L548.7 406.17L549.04 405.51L549.38 404.85L549.7 404.18L550.04 403.52L550.38 402.86L550.75 402.2L551.13 401.53L551.53 400.87L551.94 400.21L552.36 399.55L552.8 398.89L553.26 398.22L553.74 397.56L554.24 396.9L554.76 396.24L555.3 395.57L555.86 394.91L556.47 394.25L557.11 393.59L557.79 392.93L558.48 392.26L559.2 391.6L559.92 390.94L560.65 390.28L561.39 389.62L562.17 388.95L562.95 388.29L563.75 387.63L564.54 386.97L565.33 386.3L566.1 385.64L566.92 384.98L567.76 384.32L568.59 383.66L569.4 382.99L570.14 382.33L570.8 381.67L571.35 381.01L571.9 380.34L572.44 379.68L572.91 379.02L573.28 378.36L573.48 377.7L573.46 377.03L573.22 376.37L572.79 375.71L572.21 375.05L571.53 374.38L570.79 373.72L570.03 373.06L569.31 372.4L568.64 371.74L567.95 371.07L567.22 370.41L566.47 369.75L565.69 369.09L564.89 368.43L564.07 367.76L563.25 367.1L562.37 366.44L561.45 365.78L560.51 365.11L559.57 364.45L558.66 363.79L557.81 363.13L557.03 362.47L556.29 361.8L555.57 361.14L554.88 360.48L554.22 359.82L553.6 359.15L553.02 358.49L552.49 357.83L551.99 357.17L551.52 356.51L551.08 355.84L550.66 355.18L550.25 354.52L549.86 353.86L549.48 353.19L549.07 352.53L548.65 351.87L548.25 351.21L547.88 350.55L547.58 349.88L547.37 349.22L547.28 348.56L547.23 347.9L547.2 347.24L547.17 346.57L547.13 345.91L547.08 345.25L547 344.59L546.91 343.92L546.81 343.26L546.7 342.6Z" fill="#f80808" stroke="#222" stroke-width="0.45"/>
<line x1="546.7" y1="344" x2="546.7" y2="372.7" stroke="#111" stroke-width="0.45"/>
<line x1="546.7" y1="387.1" x2="546.7" y2="416" stroke="#111" stroke-width="0.45"/>
<rect x="541.4" y="372.7" width="10.8" height="14.4" fill="#fff" stroke="#333" stroke-width="0.5"/>
<line x1="541.4" y1="378.6" x2="552.2" y2="378.6" stroke="#555" stroke-width="0.8"/>
<text x="493.7" y="330.7" font-size="4.2" text-anchor="start" fill="#222" stroke="#222" stroke-width="0.08">Risk</text>
<rect x="502.9" y="326.6" width="5.2" height="5.2" fill="#1565f0" stroke="none" stroke-width="0.6" rx="0.6"/>
<text x="509.7" y="330.6" font-size="3.9" text-anchor="start" fill="#333" stroke="#333" stroke-width="0.08">Low−risk</text>
<rect x="524.5" y="326.6" width="5.2" height="5.2" fill="#f80808" stroke="none" stroke-width="0.6" rx="0.6"/>
<text x="531.7" y="330.6" font-size="3.9" text-anchor="start" fill="#333" stroke="#333" stroke-width="0.08">High−risk</text>
<text x="1" y="462.3" font-size="11.3" text-anchor="start" fill="#000" font-weight="bold" stroke="#000" stroke-width="0.3">D</text>
<line x1="16.6" y1="483.8" x2="16.6" y2="567" stroke="#333333" stroke-width="0.6"/>
<line x1="15.3" y1="485.3" x2="16.6" y2="485.3" stroke="#333333" stroke-width="0.6"/>
<text x="14.5" y="486.88" font-size="4.4" text-anchor="end" fill="#1a1a1a" stroke="#1a1a1a" stroke-width="0.08">5</text>
<line x1="15.3" y1="511.6" x2="16.6" y2="511.6" stroke="#333333" stroke-width="0.6"/>
<text x="14.5" y="513.18" font-size="4.4" text-anchor="end" fill="#1a1a1a" stroke="#1a1a1a" stroke-width="0.08">4</text>
<line x1="15.3" y1="538" x2="16.6" y2="538" stroke="#333333" stroke-width="0.6"/>
<text x="14.5" y="539.58" font-size="4.4" text-anchor="end" fill="#1a1a1a" stroke="#1a1a1a" stroke-width="0.08">3</text>
<line x1="15.3" y1="564.3" x2="16.6" y2="564.3" stroke="#333333" stroke-width="0.6"/>
<text x="14.5" y="565.88" font-size="4.4" text-anchor="end" fill="#1a1a1a" stroke="#1a1a1a" stroke-width="0.08">2</text>
<line x1="16.6" y1="567" x2="128.5" y2="567" stroke="#333333" stroke-width="0.6"/>
<line x1="46.8" y1="567" x2="46.8" y2="568.3" stroke="#333333" stroke-width="0.6"/>
<text x="46.8" y="573" font-size="4.8" text-anchor="middle" fill="#333" stroke="#333" stroke-width="0.08">low</text>
<line x1="97.7" y1="567" x2="97.7" y2="568.3" stroke="#333333" stroke-width="0.6"/>
<text x="97.7" y="573" font-size="4.8" text-anchor="middle" fill="#333" stroke="#333" stroke-width="0.08">high</text>
<text x="72.25" y="577.6" font-size="4.8" text-anchor="middle" fill="#222" stroke="#222" stroke-width="0.08">Risk</text>
<text x="9.8" y="525.4" font-size="4.1" text-anchor="middle" fill="#222" transform="rotate(-90 9.8 525.4)" stroke="#222" stroke-width="0.08">Cisplatinsensitivity(IC50)</text>
<line x1="46.8" y1="499.6" x2="46.8" y2="522.3" stroke="#333" stroke-width="0.6"/>
<line x1="46.8" y1="538.8" x2="46.8" y2="563.4" stroke="#333" stroke-width="0.6"/>
<rect x="29" y="522.3" width="35.7" height="16.5" fill="#00ff00" stroke="#222" stroke-width="0.5"/>
<line x1="29" y1="529.7" x2="64.7" y2="529.7" stroke="#111" stroke-width="1"/>
<circle cx="46.8" cy="491" r="0.75" fill="#111"/>
<circle cx="46.8" cy="493.2" r="0.75" fill="#111"/>
<line x1="97.7" y1="497.3" x2="97.7" y2="514" stroke="#333" stroke-width="0.6"/>
<line x1="97.7" y1="532.5" x2="97.7" y2="556.9" stroke="#333" stroke-width="0.6"/>
<rect x="79.9" y="514" width="35.9" height="18.5" fill="#ff0000" stroke="#222" stroke-width="0.5"/>
<line x1="79.9" y1="524.5" x2="115.8" y2="524.5" stroke="#111" stroke-width="1"/>
<path d="M46.8 489.3V487.5H97.7V489.3" fill="none" stroke="#555" stroke-width="0.45"/>
<text x="72.25" y="486.3" font-size="4.2" text-anchor="middle" fill="#333" stroke="#333" stroke-width="0.08">2e−05</text>
<text x="52.2" y="475.5" font-size="4.2" text-anchor="start" fill="#333" stroke="#333" stroke-width="0.08">Risk</text>
<line x1="65.7" y1="471.4" x2="65.7" y2="476.6" stroke="#333" stroke-width="0.4"/>
<rect x="63.3" y="472.1" width="4.8" height="3.8" fill="#00ff00" stroke="#333" stroke-width="0.35"/>
<line x1="63.3" y1="474" x2="68.1" y2="474" stroke="#111" stroke-width="0.5"/>
<line x1="81" y1="471.4" x2="81" y2="476.6" stroke="#333" stroke-width="0.4"/>
<rect x="78.6" y="472.1" width="4.8" height="3.8" fill="#ff0000" stroke="#333" stroke-width="0.35"/>
<line x1="78.6" y1="474" x2="83.4" y2="474" stroke="#111" stroke-width="0.5"/>
<text x="70" y="475.4" font-size="3.9" text-anchor="start" fill="#444" stroke="#444" stroke-width="0.08">low</text>
<text x="86" y="475.4" font-size="3.9" text-anchor="start" fill="#444" stroke="#444" stroke-width="0.08">high</text>
<line x1="142.6" y1="482" x2="142.6" y2="567" stroke="#333333" stroke-width="0.6"/>
<line x1="141.3" y1="500.5" x2="142.6" y2="500.5" stroke="#333333" stroke-width="0.6"/>
<text x="140.5" y="502.08" font-size="4.4" text-anchor="end" fill="#1a1a1a" stroke="#1a1a1a" stroke-width="0.08">4</text>
<line x1="141.3" y1="524.9" x2="142.6" y2="524.9" stroke="#333333" stroke-width="0.6"/>
<text x="140.5" y="526.48" font-size="4.4" text-anchor="end" fill="#1a1a1a" stroke="#1a1a1a" stroke-width="0.08">2</text>
<line x1="141.3" y1="549.5" x2="142.6" y2="549.5" stroke="#333333" stroke-width="0.6"/>
<text x="140.5" y="551.08" font-size="4.4" text-anchor="end" fill="#1a1a1a" stroke="#1a1a1a" stroke-width="0.08">0</text>
<line x1="142.6" y1="567" x2="257.2" y2="567" stroke="#333333" stroke-width="0.6"/>
<line x1="174" y1="567" x2="174" y2="568.3" stroke="#333333" stroke-width="0.6"/>
<text x="174" y="573" font-size="4.8" text-anchor="middle" fill="#333" stroke="#333" stroke-width="0.08">low</text>
<line x1="226.2" y1="567" x2="226.2" y2="568.3" stroke="#333333" stroke-width="0.6"/>
<text x="226.2" y="573" font-size="4.8" text-anchor="middle" fill="#333" stroke="#333" stroke-width="0.08">high</text>
<text x="200.1" y="577.6" font-size="4.8" text-anchor="middle" fill="#222" stroke="#222" stroke-width="0.08">Risk</text>
<text x="135.6" y="524.5" font-size="4.1" text-anchor="middle" fill="#222" transform="rotate(-90 135.6 524.5)" stroke="#222" stroke-width="0.08">Dasatinibsensitivity(IC50)</text>
<line x1="174" y1="489.4" x2="174" y2="510.7" stroke="#333" stroke-width="0.6"/>
<line x1="174" y1="525.8" x2="174" y2="546.7" stroke="#333" stroke-width="0.6"/>
<rect x="155.5" y="510.7" width="36.8" height="15.1" fill="#00ff00" stroke="#222" stroke-width="0.5"/>
<line x1="155.5" y1="516.8" x2="192.3" y2="516.8" stroke="#111" stroke-width="1"/>
<circle cx="174" cy="563" r="0.75" fill="#111"/>
<line x1="226.2" y1="497.7" x2="226.2" y2="517.1" stroke="#333" stroke-width="0.6"/>
<line x1="226.2" y1="531.9" x2="226.2" y2="548.6" stroke="#333" stroke-width="0.6"/>
<rect x="207.7" y="517.1" width="36.6" height="14.8" fill="#ff0000" stroke="#222" stroke-width="0.5"/>
<line x1="207.7" y1="524.9" x2="244.3" y2="524.9" stroke="#111" stroke-width="1"/>
<circle cx="226.2" cy="558.2" r="0.75" fill="#111"/>
<path d="M174 487.1V485.3H226.2V487.1" fill="none" stroke="#555" stroke-width="0.45"/>
<text x="200.1" y="484.1" font-size="4.2" text-anchor="middle" fill="#333" stroke="#333" stroke-width="0.08">7.9e−07</text>
<text x="179.6" y="474.1" font-size="4.2" text-anchor="start" fill="#333" stroke="#333" stroke-width="0.08">Risk</text>
<line x1="192.5" y1="470" x2="192.5" y2="475.2" stroke="#333" stroke-width="0.4"/>
<rect x="190.1" y="470.7" width="4.8" height="3.8" fill="#00ff00" stroke="#333" stroke-width="0.35"/>
<line x1="190.1" y1="472.6" x2="194.9" y2="472.6" stroke="#111" stroke-width="0.5"/>
<line x1="208.6" y1="470" x2="208.6" y2="475.2" stroke="#333" stroke-width="0.4"/>
<rect x="206.2" y="470.7" width="4.8" height="3.8" fill="#ff0000" stroke="#333" stroke-width="0.35"/>
<line x1="206.2" y1="472.6" x2="211" y2="472.6" stroke="#111" stroke-width="0.5"/>
<text x="198.4" y="474" font-size="3.9" text-anchor="start" fill="#444" stroke="#444" stroke-width="0.08">low</text>
<text x="214.1" y="474" font-size="3.9" text-anchor="start" fill="#444" stroke="#444" stroke-width="0.08">high</text>
<line x1="278.5" y1="482.9" x2="278.5" y2="567" stroke="#333333" stroke-width="0.6"/>
<line x1="277.2" y1="491.6" x2="278.5" y2="491.6" stroke="#333333" stroke-width="0.6"/>
<text x="276.4" y="493.18" font-size="4.4" text-anchor="end" fill="#1a1a1a" stroke="#1a1a1a" stroke-width="0.08">−1.0</text>
<line x1="277.2" y1="507.9" x2="278.5" y2="507.9" stroke="#333333" stroke-width="0.6"/>
<text x="276.4" y="509.48" font-size="4.4" text-anchor="end" fill="#1a1a1a" stroke="#1a1a1a" stroke-width="0.08">−1.5</text>
<line x1="277.2" y1="524.2" x2="278.5" y2="524.2" stroke="#333333" stroke-width="0.6"/>
<text x="276.4" y="525.78" font-size="4.4" text-anchor="end" fill="#1a1a1a" stroke="#1a1a1a" stroke-width="0.08">−2.0</text>
<line x1="277.2" y1="540.6" x2="278.5" y2="540.6" stroke="#333333" stroke-width="0.6"/>
<text x="276.4" y="542.18" font-size="4.4" text-anchor="end" fill="#1a1a1a" stroke="#1a1a1a" stroke-width="0.08">−2.5</text>
<line x1="277.2" y1="556.9" x2="278.5" y2="556.9" stroke="#333333" stroke-width="0.6"/>
<text x="276.4" y="558.48" font-size="4.4" text-anchor="end" fill="#1a1a1a" stroke="#1a1a1a" stroke-width="0.08">−3.0</text>
<line x1="278.5" y1="567" x2="385.4" y2="567" stroke="#333333" stroke-width="0.6"/>
<line x1="307.7" y1="567" x2="307.7" y2="568.3" stroke="#333333" stroke-width="0.6"/>
<text x="307.7" y="573" font-size="4.8" text-anchor="middle" fill="#333" stroke="#333" stroke-width="0.08">low</text>
<line x1="356.3" y1="567" x2="356.3" y2="568.3" stroke="#333333" stroke-width="0.6"/>
<text x="356.3" y="573" font-size="4.8" text-anchor="middle" fill="#333" stroke="#333" stroke-width="0.08">high</text>
<text x="332" y="577.6" font-size="4.8" text-anchor="middle" fill="#222" stroke="#222" stroke-width="0.08">Risk</text>
<text x="265.7" y="524.95" font-size="4.1" text-anchor="middle" fill="#222" transform="rotate(-90 265.7 524.95)" stroke="#222" stroke-width="0.08">Doxorubicinsensitivity(IC50)</text>
<line x1="307.7" y1="495.9" x2="307.7" y2="516.2" stroke="#333" stroke-width="0.6"/>
<line x1="307.7" y1="530.4" x2="307.7" y2="552.3" stroke="#333" stroke-width="0.6"/>
<rect x="290.5" y="516.2" width="34.2" height="14.2" fill="#00ff00" stroke="#222" stroke-width="0.5"/>
<line x1="290.5" y1="523.2" x2="324.7" y2="523.2" stroke="#111" stroke-width="1"/>
<circle cx="307.7" cy="490.3" r="0.75" fill="#111"/>
<circle cx="307.7" cy="493.3" r="0.75" fill="#111"/>
<circle cx="307.7" cy="494.6" r="0.75" fill="#111"/>
<circle cx="307.7" cy="553.6" r="0.75" fill="#111"/>
<circle cx="307.7" cy="555.7" r="0.75" fill="#111"/>
<circle cx="307.7" cy="563.4" r="0.75" fill="#111"/>
<line x1="356.3" y1="492.2" x2="356.3" y2="511.2" stroke="#333" stroke-width="0.6"/>
<line x1="356.3" y1="526.7" x2="356.3" y2="545.8" stroke="#333" stroke-width="0.6"/>
<rect x="339.1" y="511.2" width="34.3" height="15.5" fill="#ff0000" stroke="#222" stroke-width="0.5"/>
<line x1="339.1" y1="519.3" x2="373.4" y2="519.3" stroke="#111" stroke-width="1"/>
<circle cx="356.3" cy="551" r="0.75" fill="#111"/>
<path d="M307.7 488.4V486.6H356.3V488.4" fill="none" stroke="#555" stroke-width="0.45"/>
<text x="332" y="485.4" font-size="4.2" text-anchor="middle" fill="#333" stroke="#333" stroke-width="0.08">0.0013</text>
<text x="312" y="475.4" font-size="4.2" text-anchor="start" fill="#333" stroke="#333" stroke-width="0.08">Risk</text>
<line x1="324.9" y1="471.3" x2="324.9" y2="476.5" stroke="#333" stroke-width="0.4"/>
<rect x="322.5" y="472" width="4.8" height="3.8" fill="#00ff00" stroke="#333" stroke-width="0.35"/>
<line x1="322.5" y1="473.9" x2="327.3" y2="473.9" stroke="#111" stroke-width="0.5"/>
<line x1="340.1" y1="471.3" x2="340.1" y2="476.5" stroke="#333" stroke-width="0.4"/>
<rect x="337.7" y="472" width="4.8" height="3.8" fill="#ff0000" stroke="#333" stroke-width="0.35"/>
<line x1="337.7" y1="473.9" x2="342.5" y2="473.9" stroke="#111" stroke-width="0.5"/>
<text x="329.9" y="475.3" font-size="3.9" text-anchor="start" fill="#444" stroke="#444" stroke-width="0.08">low</text>
<text x="345" y="475.3" font-size="3.9" text-anchor="start" fill="#444" stroke="#444" stroke-width="0.08">high</text>
<line x1="400.2" y1="482.9" x2="400.2" y2="568" stroke="#333333" stroke-width="0.6"/>
<line x1="398.9" y1="484.2" x2="400.2" y2="484.2" stroke="#333333" stroke-width="0.6"/>
<text x="398.1" y="485.78" font-size="4.4" text-anchor="end" fill="#1a1a1a" stroke="#1a1a1a" stroke-width="0.08">4</text>
<line x1="398.9" y1="501.4" x2="400.2" y2="501.4" stroke="#333333" stroke-width="0.6"/>
<text x="398.1" y="502.98" font-size="4.4" text-anchor="end" fill="#1a1a1a" stroke="#1a1a1a" stroke-width="0.08">3</text>
<line x1="398.9" y1="518.6" x2="400.2" y2="518.6" stroke="#333333" stroke-width="0.6"/>
<text x="398.1" y="520.18" font-size="4.4" text-anchor="end" fill="#1a1a1a" stroke="#1a1a1a" stroke-width="0.08">2</text>
<line x1="398.9" y1="535.6" x2="400.2" y2="535.6" stroke="#333333" stroke-width="0.6"/>
<text x="398.1" y="537.18" font-size="4.4" text-anchor="end" fill="#1a1a1a" stroke="#1a1a1a" stroke-width="0.08">1</text>
<line x1="398.9" y1="552.8" x2="400.2" y2="552.8" stroke="#333333" stroke-width="0.6"/>
<text x="398.1" y="554.38" font-size="4.4" text-anchor="end" fill="#1a1a1a" stroke="#1a1a1a" stroke-width="0.08">0</text>
<line x1="400.2" y1="568" x2="513.5" y2="568" stroke="#333333" stroke-width="0.6"/>
<line x1="431.2" y1="568" x2="431.2" y2="569.3" stroke="#333333" stroke-width="0.6"/>
<text x="431.2" y="574" font-size="4.8" text-anchor="middle" fill="#333" stroke="#333" stroke-width="0.08">low</text>
<line x1="483" y1="568" x2="483" y2="569.3" stroke="#333333" stroke-width="0.6"/>
<text x="483" y="574" font-size="4.8" text-anchor="middle" fill="#333" stroke="#333" stroke-width="0.08">high</text>
<text x="457.1" y="578.6" font-size="4.8" text-anchor="middle" fill="#222" stroke="#222" stroke-width="0.08">Risk</text>
<text x="394.3" y="525.45" font-size="4.1" text-anchor="middle" fill="#222" transform="rotate(-90 394.3 525.45)" stroke="#222" stroke-width="0.08">Etoposidesensitivity(IC50)</text>
<line x1="431.2" y1="499.6" x2="431.2" y2="520.5" stroke="#333" stroke-width="0.6"/>
<line x1="431.2" y1="533.8" x2="431.2" y2="549.5" stroke="#333" stroke-width="0.6"/>
<rect x="412.7" y="520.5" width="37" height="13.3" fill="#00ff00" stroke="#222" stroke-width="0.5"/>
<line x1="412.7" y1="527.3" x2="449.7" y2="527.3" stroke="#111" stroke-width="1"/>
<circle cx="431.2" cy="496.8" r="0.75" fill="#111"/>
<circle cx="431.2" cy="498.6" r="0.75" fill="#111"/>
<circle cx="431.2" cy="556.9" r="0.75" fill="#111"/>
<circle cx="431.2" cy="564.3" r="0.75" fill="#111"/>
<line x1="483" y1="500.1" x2="483" y2="517.1" stroke="#333" stroke-width="0.6"/>
<line x1="483" y1="530.1" x2="483" y2="545.8" stroke="#333" stroke-width="0.6"/>
<rect x="464.9" y="517.1" width="36.2" height="13" fill="#ff0000" stroke="#222" stroke-width="0.5"/>
<line x1="464.9" y1="522.3" x2="501.1" y2="522.3" stroke="#111" stroke-width="1"/>
<circle cx="483" cy="490.3" r="0.75" fill="#111"/>
<circle cx="483" cy="550" r="0.75" fill="#111"/>
<path d="M431.2 489V487.2H483V489" fill="none" stroke="#555" stroke-width="0.45"/>
<text x="457.1" y="486" font-size="4.2" text-anchor="middle" fill="#333" stroke="#333" stroke-width="0.08">0.00052</text>
<text x="437.2" y="475.4" font-size="4.2" text-anchor="start" fill="#333" stroke="#333" stroke-width="0.08">Risk</text>
<line x1="450.7" y1="471.3" x2="450.7" y2="476.5" stroke="#333" stroke-width="0.4"/>
<rect x="448.3" y="472" width="4.8" height="3.8" fill="#00ff00" stroke="#333" stroke-width="0.35"/>
<line x1="448.3" y1="473.9" x2="453.1" y2="473.9" stroke="#111" stroke-width="0.5"/>
<line x1="466" y1="471.3" x2="466" y2="476.5" stroke="#333" stroke-width="0.4"/>
<rect x="463.6" y="472" width="4.8" height="3.8" fill="#ff0000" stroke="#333" stroke-width="0.35"/>
<line x1="463.6" y1="473.9" x2="468.4" y2="473.9" stroke="#111" stroke-width="0.5"/>
<text x="455.3" y="475.3" font-size="3.9" text-anchor="start" fill="#444" stroke="#444" stroke-width="0.08">low</text>
<text x="471" y="475.3" font-size="3.9" text-anchor="start" fill="#444" stroke="#444" stroke-width="0.08">high</text>
<line x1="532.6" y1="483.8" x2="532.6" y2="568" stroke="#333333" stroke-width="0.6"/>
<line x1="531.3" y1="496.8" x2="532.6" y2="496.8" stroke="#333333" stroke-width="0.6"/>
<text x="530.5" y="498.38" font-size="4.4" text-anchor="end" fill="#1a1a1a" stroke="#1a1a1a" stroke-width="0.08">5.2</text>
<line x1="531.3" y1="522.3" x2="532.6" y2="522.3" stroke="#333333" stroke-width="0.6"/>
<text x="530.5" y="523.88" font-size="4.4" text-anchor="end" fill="#1a1a1a" stroke="#1a1a1a" stroke-width="0.08">5.0</text>
<line x1="531.3" y1="547.1" x2="532.6" y2="547.1" stroke="#333333" stroke-width="0.6"/>
<text x="530.5" y="548.68" font-size="4.4" text-anchor="end" fill="#1a1a1a" stroke="#1a1a1a" stroke-width="0.08">4.8</text>
<line x1="532.6" y1="568" x2="641.7" y2="568" stroke="#333333" stroke-width="0.6"/>
<line x1="562.2" y1="568" x2="562.2" y2="569.3" stroke="#333333" stroke-width="0.6"/>
<text x="562.2" y="574" font-size="4.8" text-anchor="middle" fill="#333" stroke="#333" stroke-width="0.08">low</text>
<line x1="611.5" y1="568" x2="611.5" y2="569.3" stroke="#333333" stroke-width="0.6"/>
<text x="611.5" y="574" font-size="4.8" text-anchor="middle" fill="#333" stroke="#333" stroke-width="0.08">high</text>
<text x="586.85" y="578.6" font-size="4.8" text-anchor="middle" fill="#222" stroke="#222" stroke-width="0.08">Risk</text>
<text x="522" y="525.9" font-size="4.1" text-anchor="middle" fill="#222" transform="rotate(-90 522 525.9)" stroke="#222" stroke-width="0.08">Imatinibsensitivity(IC50)</text>
<line x1="562.2" y1="491.6" x2="562.2" y2="509.4" stroke="#333" stroke-width="0.6"/>
<line x1="562.2" y1="526.7" x2="562.2" y2="546.3" stroke="#333" stroke-width="0.6"/>
<rect x="544.2" y="509.4" width="35.5" height="17.3" fill="#00ff00" stroke="#222" stroke-width="0.5"/>
<line x1="544.2" y1="517.5" x2="579.7" y2="517.5" stroke="#111" stroke-width="1"/>
<circle cx="562.2" cy="561.1" r="0.75" fill="#111"/>
<line x1="611.5" y1="498.6" x2="611.5" y2="517.5" stroke="#333" stroke-width="0.6"/>
<line x1="611.5" y1="535.1" x2="611.5" y2="559.7" stroke="#333" stroke-width="0.6"/>
<rect x="594.5" y="517.5" width="34.8" height="17.6" fill="#ff0000" stroke="#222" stroke-width="0.5"/>
<line x1="594.5" y1="525.5" x2="629.3" y2="525.5" stroke="#111" stroke-width="1"/>
<circle cx="611.5" cy="561.9" r="0.75" fill="#111"/>
<circle cx="611.5" cy="563.3" r="0.75" fill="#111"/>
<circle cx="611.5" cy="564.3" r="0.75" fill="#111"/>
<path d="M562.2 489.3V487.5H611.5V489.3" fill="none" stroke="#555" stroke-width="0.45"/>
<text x="586.85" y="486.3" font-size="4.2" text-anchor="middle" fill="#333" stroke="#333" stroke-width="0.08">1.8e−08</text>
<text x="566.8" y="476.3" font-size="4.2" text-anchor="start" fill="#333" stroke="#333" stroke-width="0.08">Risk</text>
<line x1="580.3" y1="472.2" x2="580.3" y2="477.4" stroke="#333" stroke-width="0.4"/>
<rect x="577.9" y="472.9" width="4.8" height="3.8" fill="#00ff00" stroke="#333" stroke-width="0.35"/>
<line x1="577.9" y1="474.8" x2="582.7" y2="474.8" stroke="#111" stroke-width="0.5"/>
<line x1="595.4" y1="472.2" x2="595.4" y2="477.4" stroke="#333" stroke-width="0.4"/>
<rect x="593" y="472.9" width="4.8" height="3.8" fill="#ff0000" stroke="#333" stroke-width="0.35"/>
<line x1="593" y1="474.8" x2="597.8" y2="474.8" stroke="#111" stroke-width="0.5"/>
<text x="584.9" y="476.2" font-size="3.9" text-anchor="start" fill="#444" stroke="#444" stroke-width="0.08">low</text>
<text x="600.4" y="476.2" font-size="3.9" text-anchor="start" fill="#444" stroke="#444" stroke-width="0.08">high</text>
<line x1="659" y1="482.9" x2="659" y2="566.5" stroke="#333333" stroke-width="0.6"/>
<line x1="657.7" y1="487.2" x2="659" y2="487.2" stroke="#333333" stroke-width="0.6"/>
<text x="656.9" y="488.78" font-size="4.4" text-anchor="end" fill="#1a1a1a" stroke="#1a1a1a" stroke-width="0.08">−1</text>
<line x1="657.7" y1="510.3" x2="659" y2="510.3" stroke="#333333" stroke-width="0.6"/>
<text x="656.9" y="511.88" font-size="4.4" text-anchor="end" fill="#1a1a1a" stroke="#1a1a1a" stroke-width="0.08">−2</text>
<line x1="657.7" y1="533.8" x2="659" y2="533.8" stroke="#333333" stroke-width="0.6"/>
<text x="656.9" y="535.38" font-size="4.4" text-anchor="end" fill="#1a1a1a" stroke="#1a1a1a" stroke-width="0.08">−3</text>
<line x1="657.7" y1="557.3" x2="659" y2="557.3" stroke="#333333" stroke-width="0.6"/>
<text x="656.9" y="558.88" font-size="4.4" text-anchor="end" fill="#1a1a1a" stroke="#1a1a1a" stroke-width="0.08">−4</text>
<line x1="659" y1="566.5" x2="768.7" y2="566.5" stroke="#333333" stroke-width="0.6"/>
<line x1="688.8" y1="566.5" x2="688.8" y2="567.8" stroke="#333333" stroke-width="0.6"/>
<text x="688.8" y="572.5" font-size="4.8" text-anchor="middle" fill="#333" stroke="#333" stroke-width="0.08">low</text>
<line x1="738.7" y1="566.5" x2="738.7" y2="567.8" stroke="#333333" stroke-width="0.6"/>
<text x="738.7" y="572.5" font-size="4.8" text-anchor="middle" fill="#333" stroke="#333" stroke-width="0.08">high</text>
<text x="713.75" y="577.1" font-size="4.8" text-anchor="middle" fill="#222" stroke="#222" stroke-width="0.08">Risk</text>
<text x="650.5" y="524.7" font-size="4.1" text-anchor="middle" fill="#222" transform="rotate(-90 650.5 524.7)" stroke="#222" stroke-width="0.08">Paclitaxelsensitivity(IC50)</text>
<line x1="688.8" y1="503.3" x2="688.8" y2="524.5" stroke="#333" stroke-width="0.6"/>
<line x1="688.8" y1="541.2" x2="688.8" y2="560.6" stroke="#333" stroke-width="0.6"/>
<rect x="671.2" y="524.5" width="35.5" height="16.7" fill="#00ff00" stroke="#222" stroke-width="0.5"/>
<line x1="671.2" y1="534.3" x2="706.7" y2="534.3" stroke="#111" stroke-width="1"/>
<circle cx="688.8" cy="489.8" r="0.75" fill="#111"/>
<circle cx="688.8" cy="497.7" r="0.75" fill="#111"/>
<line x1="738.7" y1="498.6" x2="738.7" y2="520.5" stroke="#333" stroke-width="0.6"/>
<line x1="738.7" y1="536.2" x2="738.7" y2="552.3" stroke="#333" stroke-width="0.6"/>
<rect x="721.2" y="520.5" width="35.5" height="15.7" fill="#ff0000" stroke="#222" stroke-width="0.5"/>
<line x1="721.2" y1="527.7" x2="756.7" y2="527.7" stroke="#111" stroke-width="1"/>
<circle cx="738.7" cy="562.4" r="0.75" fill="#111"/>
<path d="M688.8 487.8V486H738.7V487.8" fill="none" stroke="#555" stroke-width="0.45"/>
<text x="713.75" y="484.8" font-size="4.2" text-anchor="middle" fill="#333" stroke="#333" stroke-width="0.08">0.00012</text>
<text x="694.2" y="475" font-size="4.2" text-anchor="start" fill="#333" stroke="#333" stroke-width="0.08">Risk</text>
<line x1="707.3" y1="470.9" x2="707.3" y2="476.1" stroke="#333" stroke-width="0.4"/>
<rect x="704.9" y="471.6" width="4.8" height="3.8" fill="#00ff00" stroke="#333" stroke-width="0.35"/>
<line x1="704.9" y1="473.5" x2="709.7" y2="473.5" stroke="#111" stroke-width="0.5"/>
<line x1="722.4" y1="470.9" x2="722.4" y2="476.1" stroke="#333" stroke-width="0.4"/>
<rect x="720" y="471.6" width="4.8" height="3.8" fill="#ff0000" stroke="#333" stroke-width="0.35"/>
<line x1="720" y1="473.5" x2="724.8" y2="473.5" stroke="#111" stroke-width="0.5"/>
<text x="711.9" y="474.9" font-size="3.9" text-anchor="start" fill="#444" stroke="#444" stroke-width="0.08">low</text>
<text x="727" y="474.9" font-size="3.9" text-anchor="start" fill="#444" stroke="#444" stroke-width="0.08">high</text>
<text x="1.2" y="607.3" font-size="11.3" text-anchor="start" fill="#000" font-weight="bold" stroke="#000" stroke-width="0.3">E</text>
<rect x="6" y="621.3" width="264.3" height="8.4" fill="#f26566" stroke="none" stroke-width="0.6"/>
<text x="6.8" y="627.9" font-size="6.3" text-anchor="start" fill="#1a1a1a" textLength="81.4" lengthAdjust="spacingAndGlyphs" stroke="#1a1a1a" stroke-width="0.12">Hydroxychlor CTD 00003776</text>
<rect x="6" y="632.28" width="236.5" height="8.4" fill="#e45f61" stroke="none" stroke-width="0.6"/>
<text x="6.8" y="638.88" font-size="6.3" text-anchor="start" fill="#1a1a1a" textLength="83" lengthAdjust="spacingAndGlyphs" stroke="#1a1a1a" stroke-width="0.12">Manumycin A CTD 00002318</text>
<rect x="6" y="643.26" width="211.4" height="8.4" fill="#dc5a5c" stroke="none" stroke-width="0.6"/>
<text x="6.8" y="649.86" font-size="6.3" text-anchor="start" fill="#1a1a1a" textLength="68.4" lengthAdjust="spacingAndGlyphs" stroke="#1a1a1a" stroke-width="0.12">etodolac CTD 00007163</text>
<rect x="6" y="654.24" width="134.4" height="8.4" fill="#b04a4d" stroke="none" stroke-width="0.6"/>
<text x="6.8" y="660.84" font-size="6.3" text-anchor="start" fill="#1a1a1a" textLength="50.7" lengthAdjust="spacingAndGlyphs" stroke="#1a1a1a" stroke-width="0.12">letrozole HL60 UP</text>
<rect x="6" y="665.22" width="134.4" height="8.4" fill="#b04a4d" stroke="none" stroke-width="0.6"/>
<text x="6.8" y="671.82" font-size="6.3" text-anchor="start" fill="#1a1a1a" textLength="67.6" lengthAdjust="spacingAndGlyphs" stroke="#1a1a1a" stroke-width="0.12">dapsone CTD 00005751</text>
<rect x="6" y="676.2" width="105.6" height="8.4" fill="#a54649" stroke="none" stroke-width="0.6"/>
<text x="6.8" y="682.8" font-size="6.3" text-anchor="start" fill="#1a1a1a" textLength="87.2" lengthAdjust="spacingAndGlyphs" stroke="#1a1a1a" stroke-width="0.12">mecamylamine CTD 00006250</text>
<rect x="6" y="687.18" width="80.9" height="8.4" fill="#a34548" stroke="none" stroke-width="0.6"/>
<text x="6.8" y="693.78" font-size="6.3" text-anchor="start" fill="#1a1a1a" textLength="55" lengthAdjust="spacingAndGlyphs" stroke="#1a1a1a" stroke-width="0.12">ribavirin HL60 UP</text>
<rect x="6" y="698.16" width="69.8" height="8.4" fill="#a04447" stroke="none" stroke-width="0.6"/>
<text x="6.8" y="704.76" font-size="6.3" text-anchor="start" fill="#1a1a1a" textLength="59.9" lengthAdjust="spacingAndGlyphs" stroke="#1a1a1a" stroke-width="0.12">budesonide HL60 UP</text>
<rect x="6" y="709.14" width="33.4" height="8.4" fill="#9a4145" stroke="none" stroke-width="0.6"/>
<text x="6.8" y="715.74" font-size="6.3" text-anchor="start" fill="#1a1a1a" textLength="68" lengthAdjust="spacingAndGlyphs" stroke="#1a1a1a" stroke-width="0.12">alclometasone HL60 UP</text>
<rect x="6" y="720.12" width="25.8" height="8.4" fill="#963f43" stroke="none" stroke-width="0.6"/>
<text x="6.8" y="726.72" font-size="6.3" text-anchor="start" fill="#1a1a1a" textLength="72.2" lengthAdjust="spacingAndGlyphs" stroke="#1a1a1a" stroke-width="0.12">Tributyltin CTD 00000610</text>
</svg>
</body></html>
